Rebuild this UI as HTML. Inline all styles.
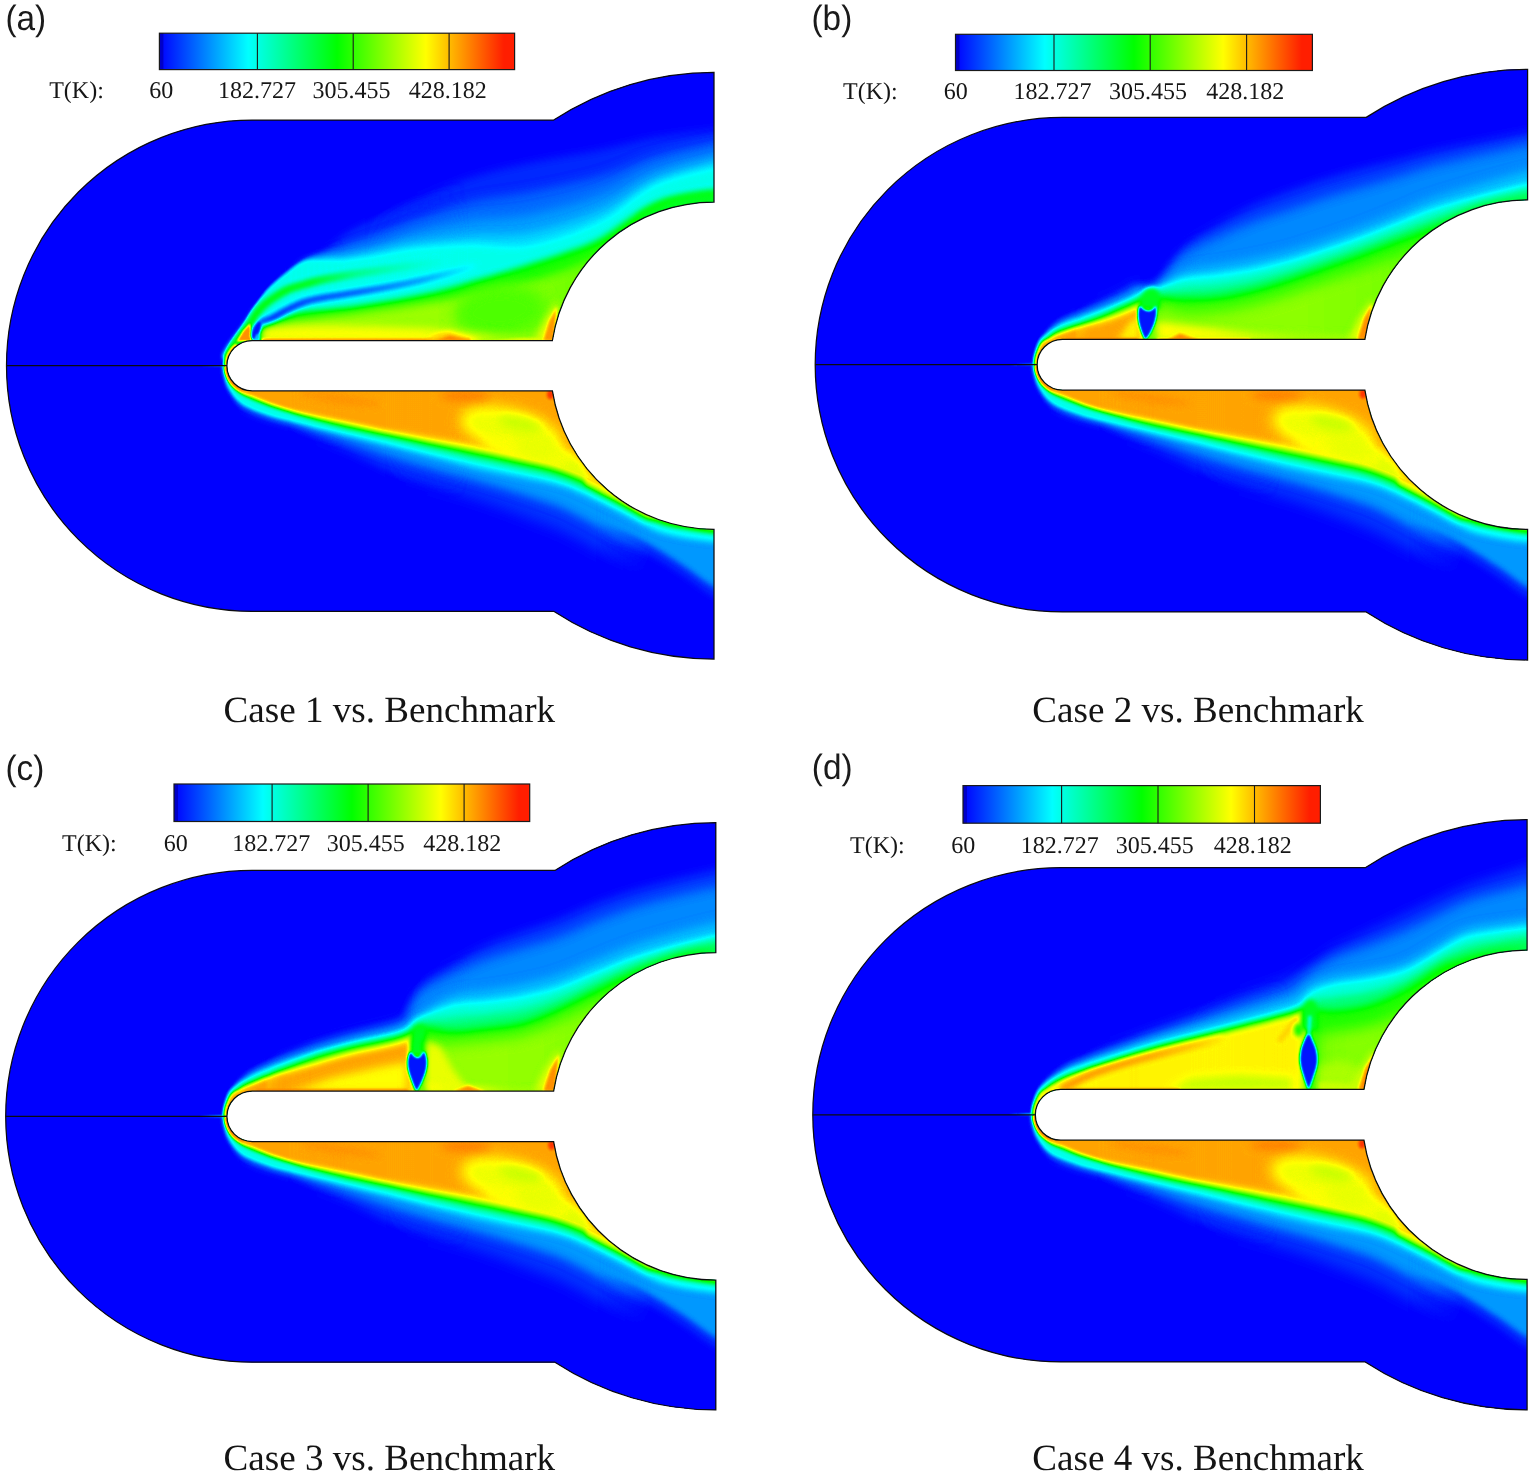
<!DOCTYPE html>
<html><head><meta charset="utf-8"><title>Temperature contours</title>
<style>
html,body{margin:0;padding:0;background:#fff;}
body{width:1534px;height:1477px;overflow:hidden;font-family:"Liberation Sans",sans-serif;}
svg{display:block;}
text{text-rendering:geometricPrecision;opacity:0.999;}
.lg{font-family:"Liberation Serif",serif;font-size:24px;fill:#161616;}
.pl{font-family:"Liberation Sans",sans-serif;font-size:34px;fill:#1a1a1a;}
.cap{font-family:"Liberation Serif",serif;font-size:37.1px;fill:#141414;}
</style></head><body>
<svg width="1534" height="1477" viewBox="0 0 1534 1477">
<defs>
<filter id="cmap" filterUnits="userSpaceOnUse" x="0" y="0" width="1534" height="1477" color-interpolation-filters="sRGB">
<feComponentTransfer>
<feFuncR type="table" tableValues="0 0 0 1 1"/>
<feFuncG type="table" tableValues="0 1 1 1 0"/>
<feFuncB type="table" tableValues="1 1 0 0 0"/>
</feComponentTransfer></filter>
<filter id="b0_8" filterUnits="userSpaceOnUse" x="-60" y="0" width="860" height="740" color-interpolation-filters="sRGB"><feGaussianBlur stdDeviation="0.8"/></filter>
<filter id="b0_9" filterUnits="userSpaceOnUse" x="-60" y="0" width="860" height="740" color-interpolation-filters="sRGB"><feGaussianBlur stdDeviation="0.9"/></filter>
<filter id="b1_0" filterUnits="userSpaceOnUse" x="-60" y="0" width="860" height="740" color-interpolation-filters="sRGB"><feGaussianBlur stdDeviation="1"/></filter>
<filter id="b1_1" filterUnits="userSpaceOnUse" x="-60" y="0" width="860" height="740" color-interpolation-filters="sRGB"><feGaussianBlur stdDeviation="1.1"/></filter>
<filter id="b1_2" filterUnits="userSpaceOnUse" x="-60" y="0" width="860" height="740" color-interpolation-filters="sRGB"><feGaussianBlur stdDeviation="1.2"/></filter>
<filter id="b1_3" filterUnits="userSpaceOnUse" x="-60" y="0" width="860" height="740" color-interpolation-filters="sRGB"><feGaussianBlur stdDeviation="1.3"/></filter>
<filter id="b1_4" filterUnits="userSpaceOnUse" x="-60" y="0" width="860" height="740" color-interpolation-filters="sRGB"><feGaussianBlur stdDeviation="1.4"/></filter>
<filter id="b1_5" filterUnits="userSpaceOnUse" x="-60" y="0" width="860" height="740" color-interpolation-filters="sRGB"><feGaussianBlur stdDeviation="1.5"/></filter>
<filter id="b1_6" filterUnits="userSpaceOnUse" x="-60" y="0" width="860" height="740" color-interpolation-filters="sRGB"><feGaussianBlur stdDeviation="1.6"/></filter>
<filter id="b1_8" filterUnits="userSpaceOnUse" x="-60" y="0" width="860" height="740" color-interpolation-filters="sRGB"><feGaussianBlur stdDeviation="1.8"/></filter>
<filter id="b2_0" filterUnits="userSpaceOnUse" x="-60" y="0" width="860" height="740" color-interpolation-filters="sRGB"><feGaussianBlur stdDeviation="2"/></filter>
<filter id="b2_2" filterUnits="userSpaceOnUse" x="-60" y="0" width="860" height="740" color-interpolation-filters="sRGB"><feGaussianBlur stdDeviation="2.2"/></filter>
<filter id="b2_3" filterUnits="userSpaceOnUse" x="-60" y="0" width="860" height="740" color-interpolation-filters="sRGB"><feGaussianBlur stdDeviation="2.3"/></filter>
<filter id="b2_4" filterUnits="userSpaceOnUse" x="-60" y="0" width="860" height="740" color-interpolation-filters="sRGB"><feGaussianBlur stdDeviation="2.4"/></filter>
<filter id="b2_5" filterUnits="userSpaceOnUse" x="-60" y="0" width="860" height="740" color-interpolation-filters="sRGB"><feGaussianBlur stdDeviation="2.5"/></filter>
<filter id="b2_6" filterUnits="userSpaceOnUse" x="-60" y="0" width="860" height="740" color-interpolation-filters="sRGB"><feGaussianBlur stdDeviation="2.6"/></filter>
<filter id="b2_7" filterUnits="userSpaceOnUse" x="-60" y="0" width="860" height="740" color-interpolation-filters="sRGB"><feGaussianBlur stdDeviation="2.7"/></filter>
<filter id="b2_8" filterUnits="userSpaceOnUse" x="-60" y="0" width="860" height="740" color-interpolation-filters="sRGB"><feGaussianBlur stdDeviation="2.8"/></filter>
<filter id="b3_0" filterUnits="userSpaceOnUse" x="-60" y="0" width="860" height="740" color-interpolation-filters="sRGB"><feGaussianBlur stdDeviation="3"/></filter>
<filter id="b3_2" filterUnits="userSpaceOnUse" x="-60" y="0" width="860" height="740" color-interpolation-filters="sRGB"><feGaussianBlur stdDeviation="3.2"/></filter>
<filter id="b3_4" filterUnits="userSpaceOnUse" x="-60" y="0" width="860" height="740" color-interpolation-filters="sRGB"><feGaussianBlur stdDeviation="3.4"/></filter>
<filter id="b3_5" filterUnits="userSpaceOnUse" x="-60" y="0" width="860" height="740" color-interpolation-filters="sRGB"><feGaussianBlur stdDeviation="3.5"/></filter>
<filter id="b3_6" filterUnits="userSpaceOnUse" x="-60" y="0" width="860" height="740" color-interpolation-filters="sRGB"><feGaussianBlur stdDeviation="3.6"/></filter>
<filter id="b3_7" filterUnits="userSpaceOnUse" x="-60" y="0" width="860" height="740" color-interpolation-filters="sRGB"><feGaussianBlur stdDeviation="3.7"/></filter>
<filter id="b3_8" filterUnits="userSpaceOnUse" x="-60" y="0" width="860" height="740" color-interpolation-filters="sRGB"><feGaussianBlur stdDeviation="3.8"/></filter>
<filter id="b4_0" filterUnits="userSpaceOnUse" x="-60" y="0" width="860" height="740" color-interpolation-filters="sRGB"><feGaussianBlur stdDeviation="4"/></filter>
<filter id="b4_2" filterUnits="userSpaceOnUse" x="-60" y="0" width="860" height="740" color-interpolation-filters="sRGB"><feGaussianBlur stdDeviation="4.2"/></filter>
<filter id="b4_5" filterUnits="userSpaceOnUse" x="-60" y="0" width="860" height="740" color-interpolation-filters="sRGB"><feGaussianBlur stdDeviation="4.5"/></filter>
<filter id="b4_8" filterUnits="userSpaceOnUse" x="-60" y="0" width="860" height="740" color-interpolation-filters="sRGB"><feGaussianBlur stdDeviation="4.8"/></filter>
<filter id="b5_0" filterUnits="userSpaceOnUse" x="-60" y="0" width="860" height="740" color-interpolation-filters="sRGB"><feGaussianBlur stdDeviation="5"/></filter>
<filter id="b5_2" filterUnits="userSpaceOnUse" x="-60" y="0" width="860" height="740" color-interpolation-filters="sRGB"><feGaussianBlur stdDeviation="5.2"/></filter>
<filter id="b5_5" filterUnits="userSpaceOnUse" x="-60" y="0" width="860" height="740" color-interpolation-filters="sRGB"><feGaussianBlur stdDeviation="5.5"/></filter>
<filter id="b6_0" filterUnits="userSpaceOnUse" x="-60" y="0" width="860" height="740" color-interpolation-filters="sRGB"><feGaussianBlur stdDeviation="6"/></filter>
<filter id="b6_5" filterUnits="userSpaceOnUse" x="-60" y="0" width="860" height="740" color-interpolation-filters="sRGB"><feGaussianBlur stdDeviation="6.5"/></filter>
<filter id="b7_0" filterUnits="userSpaceOnUse" x="-60" y="0" width="860" height="740" color-interpolation-filters="sRGB"><feGaussianBlur stdDeviation="7"/></filter>
<linearGradient id="cb" x1="0" y1="0" x2="1" y2="0">
<stop offset="0" stop-color="#0000ff"/><stop offset="0.25" stop-color="#00ffff"/><stop offset="0.5" stop-color="#00ff00"/><stop offset="0.75" stop-color="#ffff00"/><stop offset="0.97" stop-color="#ff1e00"/><stop offset="1" stop-color="#ff1e00"/>
</linearGradient>
<linearGradient id="ra" gradientUnits="userSpaceOnUse" x1="225" y1="0" x2="445" y2="0"><stop offset="0.000" stop-color="#808080"/><stop offset="0.386" stop-color="#787878"/><stop offset="0.595" stop-color="#5c5c5c"/><stop offset="0.886" stop-color="#4a4a4a"/><stop offset="1.000" stop-color="#454545"/></linearGradient>
<linearGradient id="la" gradientUnits="userSpaceOnUse" x1="260" y1="0" x2="650" y2="0"><stop offset="0.000" stop-color="#a7a7a7"/><stop offset="0.436" stop-color="#a6a6a6"/><stop offset="0.667" stop-color="#a1a1a1"/><stop offset="0.872" stop-color="#999999"/><stop offset="1.000" stop-color="#8c8c8c"/></linearGradient>
<linearGradient id="sa" gradientUnits="userSpaceOnUse" x1="260" y1="0" x2="476" y2="0"><stop offset="0.000" stop-color="#080808"/><stop offset="0.185" stop-color="#0f0f0f"/><stop offset="0.463" stop-color="#171717"/><stop offset="0.764" stop-color="#292929"/><stop offset="1.000" stop-color="#424242"/></linearGradient>
<linearGradient id="ya" gradientUnits="userSpaceOnUse" x1="262" y1="0" x2="552" y2="0"><stop offset="0.000" stop-color="#bfbfbf"/><stop offset="0.545" stop-color="#bfbfbf"/><stop offset="0.717" stop-color="#bababa"/><stop offset="0.821" stop-color="#a8a8a8"/><stop offset="1.000" stop-color="#a3a3a3"/></linearGradient>
<linearGradient id="hb" gradientUnits="userSpaceOnUse" x1="200" y1="0" x2="721.4" y2="0"><stop offset="0.000" stop-color="#d6d6d6"/><stop offset="0.249" stop-color="#d6d6d6"/><stop offset="0.267" stop-color="#8f8f8f"/><stop offset="0.552" stop-color="#8c8c8c"/><stop offset="0.857" stop-color="#878787"/><stop offset="0.933" stop-color="#7a7a7a"/><stop offset="1.000" stop-color="#6b6b6b"/></linearGradient>
<linearGradient id="ib" gradientUnits="userSpaceOnUse" x1="339" y1="0" x2="627" y2="0"><stop offset="0.000" stop-color="#a4a4a4"/><stop offset="0.517" stop-color="#a3a3a3"/><stop offset="0.793" stop-color="#9e9e9e"/><stop offset="1.000" stop-color="#949494"/></linearGradient>
<linearGradient id="yb" gradientUnits="userSpaceOnUse" x1="346.9" y1="0" x2="553.5" y2="0"><stop offset="0.000" stop-color="#bfbfbf"/><stop offset="0.274" stop-color="#bdbdbd"/><stop offset="0.683" stop-color="#a8a8a8"/><stop offset="1.000" stop-color="#a8a8a8"/></linearGradient>
<linearGradient id="hc" gradientUnits="userSpaceOnUse" x1="200" y1="0" x2="720.2" y2="0"><stop offset="0.000" stop-color="#d6d6d6"/><stop offset="0.404" stop-color="#d6d6d6"/><stop offset="0.423" stop-color="#8f8f8f"/><stop offset="0.690" stop-color="#8c8c8c"/><stop offset="0.843" stop-color="#878787"/><stop offset="0.939" stop-color="#808080"/><stop offset="1.000" stop-color="#6b6b6b"/></linearGradient>
<linearGradient id="ic" gradientUnits="userSpaceOnUse" x1="420.3" y1="0" x2="638.5" y2="0"><stop offset="0.000" stop-color="#a6a6a6"/><stop offset="0.543" stop-color="#a4a4a4"/><stop offset="0.817" stop-color="#9e9e9e"/><stop offset="1.000" stop-color="#949494"/></linearGradient>
<linearGradient id="yc" gradientUnits="userSpaceOnUse" x1="429.2" y1="0" x2="551.8" y2="0"><stop offset="0.000" stop-color="#bdbdbd"/><stop offset="0.325" stop-color="#b8b8b8"/><stop offset="0.650" stop-color="#a8a8a8"/><stop offset="1.000" stop-color="#a8a8a8"/></linearGradient>
<linearGradient id="hd" gradientUnits="userSpaceOnUse" x1="200" y1="0" x2="718.9" y2="0"><stop offset="0.000" stop-color="#c2c2c2"/><stop offset="0.557" stop-color="#c2c2c2"/><stop offset="0.580" stop-color="#878787"/><stop offset="0.786" stop-color="#878787"/><stop offset="0.901" stop-color="#808080"/><stop offset="1.000" stop-color="#6b6b6b"/></linearGradient>
<linearGradient id="id" gradientUnits="userSpaceOnUse" x1="501" y1="0" x2="627.7" y2="0"><stop offset="0.000" stop-color="#9e9e9e"/><stop offset="0.422" stop-color="#a2a2a2"/><stop offset="0.688" stop-color="#9c9c9c"/><stop offset="1.000" stop-color="#919191"/></linearGradient>
<linearGradient id="od" gradientUnits="userSpaceOnUse" x1="251.3" y1="0" x2="414.8" y2="0"><stop offset="0.000" stop-color="#d9d9d9"/><stop offset="0.545" stop-color="#d6d6d6"/><stop offset="0.848" stop-color="#cccccc"/><stop offset="1.000" stop-color="#c2c2c2"/></linearGradient>
<linearGradient id="gz229_0_252_0" gradientUnits="userSpaceOnUse" x1="229" y1="0" x2="252" y2="0"><stop offset="0" stop-color="#000"/><stop offset="1" stop-color="#fff"/></linearGradient><mask id="z229_0_252_0" maskUnits="userSpaceOnUse" x="-60" y="0" width="860" height="740"><rect x="-60" y="0" width="860" height="740" fill="url(#gz229_0_252_0)"/></mask>
<linearGradient id="gz288_0_345_0" gradientUnits="userSpaceOnUse" x1="288" y1="0" x2="345" y2="0"><stop offset="0" stop-color="#000"/><stop offset="1" stop-color="#fff"/></linearGradient><mask id="z288_0_345_0" maskUnits="userSpaceOnUse" x="-60" y="0" width="860" height="740"><rect x="-60" y="0" width="860" height="740" fill="url(#gz288_0_345_0)"/></mask>
<linearGradient id="gz385_0_470_0" gradientUnits="userSpaceOnUse" x1="385" y1="0" x2="470" y2="0"><stop offset="0" stop-color="#000"/><stop offset="1" stop-color="#fff"/></linearGradient><mask id="z385_0_470_0" maskUnits="userSpaceOnUse" x="-60" y="0" width="860" height="740"><rect x="-60" y="0" width="860" height="740" fill="url(#gz385_0_470_0)"/></mask>
<linearGradient id="gz596_0_650_0" gradientUnits="userSpaceOnUse" x1="596" y1="0" x2="650" y2="0"><stop offset="0" stop-color="#000"/><stop offset="1" stop-color="#fff"/></linearGradient><mask id="z596_0_650_0" maskUnits="userSpaceOnUse" x="-60" y="0" width="860" height="740"><rect x="-60" y="0" width="860" height="740" fill="url(#gz596_0_650_0)"/></mask>
<clipPath id="loin"><path d="M229.5,364.9C229.8,366.4 229.8,370.5 230.8,373.5C231.8,376.5 233.3,380.2 235.5,382.9C237.8,385.7 241.2,388 244.3,389.8C247.4,391.6 250.7,392.4 254,393.7C257.2,395 260.3,396.3 263.8,397.6C267.3,399 269.7,400.1 275,401.9C280.3,403.6 288.8,406.2 295.7,408.2C302.5,410.1 306.4,411.2 316.2,413.5C325.9,415.9 339.9,419.2 354.1,422.3C368.2,425.4 384.9,428.9 401,432.3C417.2,435.7 434.4,439.2 451,442.7C467.7,446.2 487.7,450.3 501,453.1C514.4,455.9 521.4,457.4 531.1,459.6C540.8,461.8 549.9,463.5 559.2,466.4C568.5,469.4 579.2,473.9 587,477.4C594.9,481 600.1,484.3 606.3,487.6C612.6,490.9 618.4,493.9 624.4,497.1C630.4,500.3 636,503.8 642.3,507.1C648.6,510.3 658.8,514.9 662.1,516.5L735,540L735,366L200,366Z"/></clipPath>
<linearGradient id="gz286_0_345_0" gradientUnits="userSpaceOnUse" x1="286" y1="0" x2="345" y2="0"><stop offset="0" stop-color="#000"/><stop offset="1" stop-color="#fff"/></linearGradient><mask id="z286_0_345_0" maskUnits="userSpaceOnUse" x="-60" y="0" width="860" height="740"><rect x="-60" y="0" width="860" height="740" fill="url(#gz286_0_345_0)"/></mask>
<linearGradient id="gz365_0_470_0" gradientUnits="userSpaceOnUse" x1="365" y1="0" x2="470" y2="0"><stop offset="0" stop-color="#000"/><stop offset="1" stop-color="#fff"/></linearGradient><mask id="z365_0_470_0" maskUnits="userSpaceOnUse" x="-60" y="0" width="860" height="740"><rect x="-60" y="0" width="860" height="740" fill="url(#gz365_0_470_0)"/></mask>
<linearGradient id="gz226_0_248_0" gradientUnits="userSpaceOnUse" x1="225.782" y1="0" x2="247.631" y2="0"><stop offset="0" stop-color="#000"/><stop offset="1" stop-color="#fff"/></linearGradient><mask id="z226_0_248_0" maskUnits="userSpaceOnUse" x="-60" y="0" width="860" height="740"><rect x="-60" y="0" width="860" height="740" fill="url(#gz226_0_248_0)"/></mask>
<linearGradient id="gz265_0_309_0" gradientUnits="userSpaceOnUse" x1="264.515" y1="0" x2="309.206" y2="0"><stop offset="0" stop-color="#000"/><stop offset="1" stop-color="#fff"/></linearGradient><mask id="z265_0_309_0" maskUnits="userSpaceOnUse" x="-60" y="0" width="860" height="740"><rect x="-60" y="0" width="860" height="740" fill="url(#gz265_0_309_0)"/></mask>
<linearGradient id="gz329_0_389_0" gradientUnits="userSpaceOnUse" x1="329.069" y1="0" x2="388.658" y2="0"><stop offset="0" stop-color="#000"/><stop offset="1" stop-color="#fff"/></linearGradient><mask id="z329_0_389_0" maskUnits="userSpaceOnUse" x="-60" y="0" width="860" height="740"><rect x="-60" y="0" width="860" height="740" fill="url(#gz329_0_389_0)"/></mask>
<linearGradient id="gz265_0_315_0" gradientUnits="userSpaceOnUse" x1="264.84" y1="0" x2="314.656" y2="0"><stop offset="0" stop-color="#000"/><stop offset="1" stop-color="#fff"/></linearGradient><mask id="z265_0_315_0" maskUnits="userSpaceOnUse" x="-60" y="0" width="860" height="740"><rect x="-60" y="0" width="860" height="740" fill="url(#gz265_0_315_0)"/></mask>
<linearGradient id="gz409_0_469_0" gradientUnits="userSpaceOnUse" x1="409.306" y1="0" x2="469.084" y2="0"><stop offset="0" stop-color="#000"/><stop offset="1" stop-color="#fff"/></linearGradient><mask id="z409_0_469_0" maskUnits="userSpaceOnUse" x="-60" y="0" width="860" height="740"><rect x="-60" y="0" width="860" height="740" fill="url(#gz409_0_469_0)"/></mask>
<linearGradient id="gz226_0_247_0" gradientUnits="userSpaceOnUse" x1="225.594" y1="0" x2="247.385" y2="0"><stop offset="0" stop-color="#000"/><stop offset="1" stop-color="#fff"/></linearGradient><mask id="z226_0_247_0" maskUnits="userSpaceOnUse" x="-60" y="0" width="860" height="740"><rect x="-60" y="0" width="860" height="740" fill="url(#gz226_0_247_0)"/></mask>
<linearGradient id="gz271_0_331_0" gradientUnits="userSpaceOnUse" x1="271.157" y1="0" x2="330.586" y2="0"><stop offset="0" stop-color="#000"/><stop offset="1" stop-color="#fff"/></linearGradient><mask id="z271_0_331_0" maskUnits="userSpaceOnUse" x="-60" y="0" width="860" height="740"><rect x="-60" y="0" width="860" height="740" fill="url(#gz271_0_331_0)"/></mask>
<linearGradient id="gz380_0_479_0" gradientUnits="userSpaceOnUse" x1="380.111" y1="0" x2="479.16" y2="0"><stop offset="0" stop-color="#000"/><stop offset="1" stop-color="#fff"/></linearGradient><mask id="z380_0_479_0" maskUnits="userSpaceOnUse" x="-60" y="0" width="860" height="740"><rect x="-60" y="0" width="860" height="740" fill="url(#gz380_0_479_0)"/></mask>
<clipPath id="dom"><path d="M252.1,120.1L553.7,120.1A293.3 293.3 0 0 1 714,72.4L714,202.1A163.6 163.6 0 0 0 552.4,340.5L252.1,340.5A25.2 25.2 0 0 0 252.1,390.9L552.4,390.9A163.6 163.6 0 0 0 714,529.3L714,659A293.3 293.3 0 0 1 553.7,611.3L252.1,611.3A245.6 245.6 0 0 1 252.1,120.1Z"/></clipPath>
<clipPath id="up"><rect x="-10" y="0" width="760" height="365.7"/></clipPath>
<clipPath id="lo"><rect x="-10" y="365.7" width="760" height="400"/></clipPath>
</defs>
<rect width="1534" height="1477" fill="#fff"/>
<g filter="url(#cmap)">
<g transform="matrix(1 0 0 1 0 0)" clip-path="url(#dom)">
<rect x="0" y="60" width="730" height="610" fill="#000"/>
<g clip-path="url(#lo)">
<path d="M200,366H735V680H-20V366Z" fill="#000000"/>
<path d="M220.6,366.1C220.9,367.8 221.1,372.4 222,376.4C223,380.4 224,385.4 226.4,390.1C228.7,394.8 232.1,400.5 235.9,404.6C239.7,408.6 243.1,411.3 249,414.3C254.8,417.3 263.7,420.2 270.9,422.6C278.1,424.9 285.2,426.1 292.1,428.4C299,430.7 302.8,432.4 312.3,436.2C321.7,440.1 335.3,445.5 348.8,451.5C362.4,457.5 377.8,466.2 393.4,472.4C409,478.6 426.1,483.3 442.5,488.6C459,493.9 474.9,498.3 492.2,504.4C509.5,510.4 533.9,520 546.3,524.8C558.7,529.7 557.8,529.3 566.6,533.5C575.3,537.8 589.8,546 598.7,550.5C607.6,555 611.3,556.9 619.8,560.4C628.3,563.9 639.2,568.1 649.6,571.7C659.9,575.3 672,579.2 681.9,582C691.8,584.8 700.7,587.1 709,588.5C717.4,589.8 728.1,589.7 731.9,589.9L735,500L735,366L200,366Z" fill="#0d0d0d" filter="url(#b1_2)"/>
<path d="M222.1,365.9C222.3,367.6 222.5,372.1 223.5,376C224.5,379.8 225.6,384.7 228,389.1C230.4,393.5 234,398.8 237.7,402.4C241.5,406 244.8,407.9 250.5,410.6C256.3,413.3 265,416.4 272.1,418.8C279.2,421.1 286.2,422.5 293.1,424.5C300,426.6 303.9,427.9 313.6,431C323.2,434 337.1,438.1 350.9,442.8C364.8,447.4 380.8,453.8 396.7,458.8C412.6,463.9 429.7,468.4 446.3,473.1C462.8,477.7 478.6,481.5 496.1,486.8C513.7,492 538.5,499.9 551.6,504.5C564.7,509.2 565.5,510 574.8,514.7C584.2,519.4 599,527.6 607.8,532.7C616.5,537.7 619.8,540.7 627.4,545C635.1,549.3 644.4,554.2 653.9,558.4C663.3,562.6 674.6,566.9 683.9,570.3C693.3,573.6 701.9,576.9 710,578.5C718.1,580.1 728.8,579.7 732.5,579.9L735,500L735,366L200,366Z" fill="#262626" filter="url(#b1_0)"/>
<path d="M223.3,365.7C223.5,367.4 223.7,371.9 224.7,375.7C225.6,379.4 226.8,384.2 229.2,388.4C231.5,392.7 235.1,397.7 238.8,401.1C242.5,404.5 245.7,406.2 251.3,408.7C257,411.3 265.7,414.3 272.8,416.6C279.8,418.8 286.8,420.2 293.7,422C300.7,423.8 304.7,424.9 314.4,427.4C324.2,429.8 338.2,433.2 352.4,436.6C366.5,440.1 383.1,444.1 399.3,448.1C415.4,452.1 432.6,456.4 449.3,460.4C466,464.4 481.4,468.2 499.4,472.1C517.3,476.1 542.9,480.5 556.9,484.2C571,487.9 573.5,489.7 583.8,494.2C594.1,498.8 609.5,506.6 618.6,511.3C627.8,515.9 631.4,518.6 638.7,522.2C645.9,525.8 653.6,529.9 662.1,532.7C670.6,535.4 680.9,537 689.5,538.5C698.1,540 706.1,540.9 713.7,541.7C721.3,542.4 731.3,542.8 734.8,543L735,500L735,366L200,366Z" fill="#454545" filter="url(#b0_8)"/>
<path d="M585,485C590,487.6 605.8,495.6 615,500.5C624.2,505.4 632,510.5 640,514.5C648,518.5 654.7,521.9 663,524.5C671.3,527.1 681.5,528.5 690,530C698.5,531.5 706.5,532.7 714,533.5C721.5,534.3 731.5,534.8 735,535L735,500L585,420Z" fill="#8f8f8f" filter="url(#b2_0)"/>
<path d="M224.6,365.7C224.8,367.3 224.9,371.8 226.1,375.2C227.2,378.6 229,383 231.7,386.1C234.3,389.3 238.4,392.1 241.8,394.1C245.2,396.1 248.7,396.9 252.1,398.3C255.5,399.7 258.4,400.9 262,402.3C265.6,403.7 268,404.8 273.4,406.6C278.8,408.4 287.4,411 294.3,413C301.2,415 305.2,416 315,418.4C324.8,420.8 338.8,424.1 353,427.2C367.2,430.3 383.8,433.8 400,437.2C416.2,440.6 433.3,444.1 450,447.6C466.7,451.1 486.7,455.2 500,458C513.3,460.8 520.4,462.3 530,464.5C539.6,466.7 548.5,468.3 557.7,471.2C566.9,474.1 577.3,478.5 585,482C592.7,485.5 597.8,488.8 604,492C610.2,495.2 616,498.2 622,501.5C628,504.8 635.3,508.8 640,511.5C644.7,514.2 648.3,516.9 650,518L700,480L700,366L200,366Z" fill="#d6d6d6" filter="url(#b0_9)"/>
<g mask="url(#z229_0_252_0)">
<path d="M200,366H735V680H-20V366Z" fill="#000000"/>
<path d="M220.6,366.1C220.9,367.8 221.1,372.4 222,376.4C223,380.4 224,385.4 226.4,390.1C228.7,394.8 232.1,400.5 235.9,404.6C239.7,408.6 243.1,411.3 249,414.3C254.8,417.3 263.7,420.2 270.9,422.6C278.1,424.9 285.2,426.1 292.1,428.4C299,430.7 302.8,432.4 312.3,436.2C321.7,440.1 335.3,445.5 348.8,451.5C362.4,457.5 377.8,466.2 393.4,472.4C409,478.6 426.1,483.3 442.5,488.6C459,493.9 474.9,498.3 492.2,504.4C509.5,510.4 533.9,520 546.3,524.8C558.7,529.7 557.8,529.3 566.6,533.5C575.3,537.8 589.8,546 598.7,550.5C607.6,555 611.3,556.9 619.8,560.4C628.3,563.9 639.2,568.1 649.6,571.7C659.9,575.3 672,579.2 681.9,582C691.8,584.8 700.7,587.1 709,588.5C717.4,589.8 728.1,589.7 731.9,589.9L735,500L735,366L200,366Z" fill="#0d0d0d" filter="url(#b2_5)"/>
<path d="M222.1,365.9C222.3,367.6 222.5,372.1 223.5,376C224.5,379.8 225.6,384.7 228,389.1C230.4,393.5 234,398.8 237.7,402.4C241.5,406 244.8,407.9 250.5,410.6C256.3,413.3 265,416.4 272.1,418.8C279.2,421.1 286.2,422.5 293.1,424.5C300,426.6 303.9,427.9 313.6,431C323.2,434 337.1,438.1 350.9,442.8C364.8,447.4 380.8,453.8 396.7,458.8C412.6,463.9 429.7,468.4 446.3,473.1C462.8,477.7 478.6,481.5 496.1,486.8C513.7,492 538.5,499.9 551.6,504.5C564.7,509.2 565.5,510 574.8,514.7C584.2,519.4 599,527.6 607.8,532.7C616.5,537.7 619.8,540.7 627.4,545C635.1,549.3 644.4,554.2 653.9,558.4C663.3,562.6 674.6,566.9 683.9,570.3C693.3,573.6 701.9,576.9 710,578.5C718.1,580.1 728.8,579.7 732.5,579.9L735,500L735,366L200,366Z" fill="#262626" filter="url(#b2_2)"/>
<path d="M223.3,365.7C223.5,367.4 223.7,371.9 224.7,375.7C225.6,379.4 226.8,384.2 229.2,388.4C231.5,392.7 235.1,397.7 238.8,401.1C242.5,404.5 245.7,406.2 251.3,408.7C257,411.3 265.7,414.3 272.8,416.6C279.8,418.8 286.8,420.2 293.7,422C300.7,423.8 304.7,424.9 314.4,427.4C324.2,429.8 338.2,433.2 352.4,436.6C366.5,440.1 383.1,444.1 399.3,448.1C415.4,452.1 432.6,456.4 449.3,460.4C466,464.4 481.4,468.2 499.4,472.1C517.3,476.1 542.9,480.5 556.9,484.2C571,487.9 573.5,489.7 583.8,494.2C594.1,498.8 609.5,506.6 618.6,511.3C627.8,515.9 631.4,518.6 638.7,522.2C645.9,525.8 653.6,529.9 662.1,532.7C670.6,535.4 680.9,537 689.5,538.5C698.1,540 706.1,540.9 713.7,541.7C721.3,542.4 731.3,542.8 734.8,543L735,500L735,366L200,366Z" fill="#454545" filter="url(#b1_8)"/>
<path d="M585,485C590,487.6 605.8,495.6 615,500.5C624.2,505.4 632,510.5 640,514.5C648,518.5 654.7,521.9 663,524.5C671.3,527.1 681.5,528.5 690,530C698.5,531.5 706.5,532.7 714,533.5C721.5,534.3 731.5,534.8 735,535L735,500L585,420Z" fill="#8f8f8f" filter="url(#b2_0)"/>
<path d="M224.6,365.7C224.8,367.3 224.9,371.8 226.1,375.2C227.2,378.6 229,383 231.7,386.1C234.3,389.3 238.4,392.1 241.8,394.1C245.2,396.1 248.7,396.9 252.1,398.3C255.5,399.7 258.4,400.9 262,402.3C265.6,403.7 268,404.8 273.4,406.6C278.8,408.4 287.4,411 294.3,413C301.2,415 305.2,416 315,418.4C324.8,420.8 338.8,424.1 353,427.2C367.2,430.3 383.8,433.8 400,437.2C416.2,440.6 433.3,444.1 450,447.6C466.7,451.1 486.7,455.2 500,458C513.3,460.8 520.4,462.3 530,464.5C539.6,466.7 548.5,468.3 557.7,471.2C566.9,474.1 577.3,478.5 585,482C592.7,485.5 597.8,488.8 604,492C610.2,495.2 616,498.2 622,501.5C628,504.8 635.3,508.8 640,511.5C644.7,514.2 648.3,516.9 650,518L700,480L700,366L200,366Z" fill="#d6d6d6" filter="url(#b2_3)"/>
</g>
<g mask="url(#z288_0_345_0)">
<path d="M270,366H735V680H270Z" fill="#000000"/>
<path d="M272.9,423.1C276.1,424 285.6,426.2 292.1,428.4C298.7,430.6 302.8,432.4 312.3,436.2C321.7,440.1 335.3,445.5 348.8,451.5C362.4,457.5 377.8,466.2 393.4,472.4C409,478.6 426.1,483.3 442.5,488.6C459,493.9 474.9,498.3 492.2,504.4C509.5,510.4 533.9,520 546.3,524.8C558.7,529.7 557.8,529.3 566.6,533.5C575.3,537.8 589.8,546 598.7,550.5C607.6,555 611.3,556.9 619.8,560.4C628.3,563.9 639.2,568.1 649.6,571.7C659.9,575.3 672,579.2 681.9,582C691.8,584.8 700.7,587.1 709,588.5C717.4,589.8 728.1,589.7 731.9,589.9L735,500L735,366L275,366Z" fill="#0d0d0d" filter="url(#b4_5)"/>
<path d="M273.9,419.2C277.1,420.1 286.5,422.6 293.1,424.5C299.7,426.5 303.9,427.9 313.6,431C323.2,434 337.1,438.1 350.9,442.8C364.8,447.4 380.8,453.8 396.7,458.8C412.6,463.9 429.7,468.4 446.3,473.1C462.8,477.7 478.6,481.5 496.1,486.8C513.7,492 538.5,499.9 551.6,504.5C564.7,509.2 565.5,510 574.8,514.7C584.2,519.4 599,527.6 607.8,532.7C616.5,537.7 619.8,540.7 627.4,545C635.1,549.3 644.4,554.2 653.9,558.4C663.3,562.6 674.6,566.9 683.9,570.3C693.3,573.6 701.9,576.9 710,578.5C718.1,580.1 728.8,579.7 732.5,579.9L735,500L735,366L275,366Z" fill="#262626" filter="url(#b4_0)"/>
<path d="M274.5,417C277.7,417.8 287.1,420.3 293.7,422C300.4,423.7 304.7,424.9 314.4,427.4C324.2,429.8 338.2,433.2 352.4,436.6C366.5,440.1 383.1,444.1 399.3,448.1C415.4,452.1 432.6,456.4 449.3,460.4C466,464.4 481.4,468.2 499.4,472.1C517.3,476.1 542.9,480.5 556.9,484.2C571,487.9 573.5,489.7 583.8,494.2C594.1,498.8 609.5,506.6 618.6,511.3C627.8,515.9 631.4,518.6 638.7,522.2C645.9,525.8 653.6,529.9 662.1,532.7C670.6,535.4 680.9,537 689.5,538.5C698.1,540 706.1,540.9 713.7,541.7C721.3,542.4 731.3,542.8 734.8,543L735,500L735,366L275,366Z" fill="#454545" filter="url(#b2_7)"/>
<path d="M585,485C590,487.6 605.8,495.6 615,500.5C624.2,505.4 632,510.5 640,514.5C648,518.5 654.7,521.9 663,524.5C671.3,527.1 681.5,528.5 690,530C698.5,531.5 706.5,532.7 714,533.5C721.5,534.3 731.5,534.8 735,535L735,500L585,420Z" fill="#8f8f8f" filter="url(#b2_2)"/>
<path d="M275,407.1C278.2,408.1 287.6,411.1 294.3,413C301,414.9 305.2,416 315,418.4C324.8,420.8 338.8,424.1 353,427.2C367.2,430.3 383.8,433.8 400,437.2C416.2,440.6 433.3,444.1 450,447.6C466.7,451.1 486.7,455.2 500,458C513.3,460.8 520.4,462.3 530,464.5C539.6,466.7 548.5,468.3 557.7,471.2C566.9,474.1 577.3,478.5 585,482C592.7,485.5 597.8,488.8 604,492C610.2,495.2 616,498.2 622,501.5C628,504.8 635.3,508.8 640,511.5C644.7,514.2 648.3,516.9 650,518L700,480L700,366L275,366Z" fill="#d6d6d6" filter="url(#b3_7)"/>
</g>
<g mask="url(#z385_0_470_0)">
<path d="M365,366H735V680H365Z" fill="#000000"/>
<path d="M365,459.1C369.7,461.3 380.5,467.5 393.4,472.4C406.3,477.3 426.1,483.3 442.5,488.6C459,493.9 474.9,498.3 492.2,504.4C509.5,510.4 533.9,520 546.3,524.8C558.7,529.7 557.8,529.3 566.6,533.5C575.3,537.8 589.8,546 598.7,550.5C607.6,555 611.3,556.9 619.8,560.4C628.3,563.9 639.2,568.1 649.6,571.7C659.9,575.3 672,579.2 681.9,582C691.8,584.8 700.7,587.1 709,588.5C717.4,589.8 728.1,589.7 731.9,589.9L735,500L735,366L370,366Z" fill="#0d0d0d" filter="url(#b7_0)"/>
<path d="M367.5,448.6C372.4,450.3 383.6,454.7 396.7,458.8C409.8,462.9 429.7,468.4 446.3,473.1C462.8,477.7 478.6,481.5 496.1,486.8C513.7,492 538.5,499.9 551.6,504.5C564.7,509.2 565.5,510 574.8,514.7C584.2,519.4 599,527.6 607.8,532.7C616.5,537.7 619.8,540.7 627.4,545C635.1,549.3 644.4,554.2 653.9,558.4C663.3,562.6 674.6,566.9 683.9,570.3C693.3,573.6 701.9,576.9 710,578.5C718.1,580.1 728.8,579.7 732.5,579.9L735,500L735,366L370,366Z" fill="#262626" filter="url(#b5_0)"/>
<path d="M369.4,440.8C374.3,442 386,444.8 399.3,448.1C412.6,451.4 432.6,456.4 449.3,460.4C466,464.4 481.4,468.2 499.4,472.1C517.3,476.1 542.9,480.5 556.9,484.2C571,487.9 573.5,489.7 583.8,494.2C594.1,498.8 609.5,506.6 618.6,511.3C627.8,515.9 631.4,518.6 638.7,522.2C645.9,525.8 653.6,529.9 662.1,532.7C670.6,535.4 680.9,537 689.5,538.5C698.1,540 706.1,540.9 713.7,541.7C721.3,542.4 731.3,542.8 734.8,543L735,500L735,366L370,366Z" fill="#454545" filter="url(#b3_5)"/>
<path d="M585,485C590,487.6 605.8,495.6 615,500.5C624.2,505.4 632,510.5 640,514.5C648,518.5 654.7,521.9 663,524.5C671.3,527.1 681.5,528.5 690,530C698.5,531.5 706.5,532.7 714,533.5C721.5,534.3 731.5,534.8 735,535L735,500L585,420Z" fill="#8f8f8f" filter="url(#b2_2)"/>
<path d="M370,430.8C375,431.9 386.7,434.4 400,437.2C413.3,440 433.3,444.1 450,447.6C466.7,451.1 486.7,455.2 500,458C513.3,460.8 520.4,462.3 530,464.5C539.6,466.7 548.5,468.3 557.7,471.2C566.9,474.1 577.3,478.5 585,482C592.7,485.5 597.8,488.8 604,492C610.2,495.2 616,498.2 622,501.5C628,504.8 635.3,508.8 640,511.5C644.7,514.2 648.3,516.9 650,518L700,480L700,366L370,366Z" fill="#d6d6d6" filter="url(#b5_2)"/>
</g>
<g mask="url(#z596_0_650_0)">
<path d="M580,366H735V680H580Z" fill="#000000"/>
<path d="M566.7,529C573.1,530.5 594.9,535.4 605,538C615.2,540.6 619.3,541.7 627.5,544.8C635.8,547.9 645.2,551.5 654.5,556.4C663.8,561.3 674.2,568.2 683.3,574.2C692.3,580.2 700.7,587.4 708.6,592.4C716.6,597.3 727.3,602 731,603.9L735,500L735,366L585,366Z" fill="#0d0d0d" filter="url(#b3_6)"/>
<path d="M574.5,513.1C580.5,515.3 601.3,522.7 610.9,526.4C620.6,530.1 624.5,531.6 632.2,535.3C639.9,539 648.2,543.5 657,548.7C665.7,553.9 675.9,560.4 684.6,566.2C693.4,572.1 701.7,579.1 709.5,583.9C717.3,588.7 727.9,593.1 731.6,594.9L735,500L735,366L585,366Z" fill="#262626" filter="url(#b2_8)"/>
<path d="M583.7,494.2C589.5,497 609.5,506.6 618.6,511.3C627.8,515.9 631.4,518.6 638.7,522.2C645.9,525.8 653.6,529.9 662.1,532.7C670.6,535.4 680.9,537 689.5,538.5C698.1,540 706.1,540.9 713.7,541.7C721.3,542.4 731.3,542.8 734.8,543L735,500L735,366L585,366Z" fill="#454545" filter="url(#b3_2)"/>
<path d="M585,485C590,487.6 605.8,495.6 615,500.5C624.2,505.4 632,510.5 640,514.5C648,518.5 654.7,521.9 663,524.5C671.3,527.1 681.5,528.5 690,530C698.5,531.5 706.5,532.7 714,533.5C721.5,534.3 731.5,534.8 735,535L735,500L585,420Z" fill="#8f8f8f" filter="url(#b2_2)"/>
<path d="M585,482C588.2,483.7 597.8,488.8 604,492C610.2,495.2 616,498.2 622,501.5C628,504.8 635.3,508.8 640,511.5C644.7,514.2 648.3,516.9 650,518L700,480L700,366L585,366Z" fill="#d6d6d6" filter="url(#b4_8)"/>
</g>
<g clip-path="url(#loin)">
<ellipse cx="511" cy="431" rx="52" ry="21" fill="#bbbbbb" transform="rotate(15 511 431)" filter="url(#b7_0)"/>
<ellipse cx="564" cy="461" rx="27" ry="10" fill="#b5b5b5" transform="rotate(30 564 461)" filter="url(#b6_0)"/>
<ellipse cx="528" cy="451" rx="46" ry="9" fill="#bebebe" transform="rotate(14 528 451)" filter="url(#b4_5)"/>
<ellipse cx="578" cy="478" rx="18" ry="7" fill="#b8b8b8" transform="rotate(32 578 478)" filter="url(#b4_0)"/>
<ellipse cx="536" cy="448" rx="22" ry="13" fill="#bababa" transform="rotate(20 536 448)" filter="url(#b6_0)"/>
<ellipse cx="520" cy="424" rx="22" ry="7" fill="#b2b2b2" transform="rotate(12 520 424)" filter="url(#b4_0)"/>
<ellipse cx="465" cy="396" rx="26" ry="5" fill="#dfdfdf" filter="url(#b4_0)"/>
<ellipse cx="340" cy="399" rx="40" ry="5" fill="#dadada" transform="rotate(8 340 399)" filter="url(#b3_0)"/>
<path d="M561.4,389.9C561.8,391.9 562.9,398 563.8,402C564.8,406 565.9,410 567.2,414C568.5,417.9 570,421.8 571.6,425.6C573.2,429.4 574.9,433.1 576.8,436.8C578.7,440.5 580.8,444.1 583,447.6C585.2,451.1 587.5,454.5 590,457.8C592.4,461.1 595,464.4 597.8,467.5C600.5,470.6 603.4,473.4 606.3,476.5C609.1,479.5 611.8,482.7 614.8,485.6C617.8,488.5 620.9,491.4 624.1,494.1C627.3,496.8 630.7,499.4 634.1,501.8C637.6,504.3 643.1,507.6 644.8,508.8L650.8,507L600,420L575,392Z" fill="#dfdfdf" filter="url(#b2_4)"/>
<ellipse cx="550.5" cy="394.5" rx="3.5" ry="5" fill="#f2f2f2" filter="url(#b1_5)"/>
</g>
<path d="M224.5,365.7C224.6,366.4 224.6,368.6 224.8,370C225.1,371.4 225.4,372.9 225.9,374.2C226.3,375.6 226.9,376.9 227.5,378.2C228.2,379.5 228.9,380.8 229.8,381.9C230.6,383.1 231.6,384.2 232.6,385.2C233.6,386.2 234.7,387.2 235.9,388C237,388.9 238.3,389.6 239.6,390.3C240.9,390.9 242.9,391.7 243.6,391.9L252.1,365.7Z" fill="#dbdbdb" filter="url(#b0_8)"/>
</g>
<g clip-path="url(#up)">
<path d="M-20,0H735V366H-20Z" fill="#000000"/>
<path d="M223.6,364.8C223.8,363.1 224,358.1 224.9,354.9C225.8,351.6 226.9,349 228.8,345.4C230.7,341.8 233.6,337.6 236.5,333.3C239.4,328.9 243.7,322.9 246,319.3C248.3,315.7 248.7,314.4 250.5,311.6C252.3,308.8 254.7,305.4 256.8,302.5C258.9,299.5 260.7,296.7 263,293.7C265.3,290.7 266.7,288.5 270.8,284.5C274.9,280.4 282.2,273.9 287.8,269.5C293.4,265.1 298.5,261.4 304.7,258C310.9,254.6 317.8,253.3 325,249C332.2,244.7 338.8,237.5 348,232C357.2,226.5 369.2,221.2 380,216C390.8,210.8 398,207.3 413,201C428,194.7 450.5,184.3 470,178C489.5,171.7 508.2,167.7 530,163C551.8,158.3 580.4,154.2 601,150C621.6,145.8 635,141.3 653.7,138C672.5,134.7 700,132 713.5,130C727,128 731.4,126.7 735,126L735,126L735,365.4L223.6,365.4Z" fill="#0a0a0a" filter="url(#b1_4)"/>
<path d="M223.6,365.1C223.8,363.4 224,358.4 224.9,355.2C225.8,352 226.9,349.4 228.8,345.8C230.7,342.2 233.6,338 236.5,333.7C239.4,329.4 243.7,323.5 246,319.9C248.3,316.3 248.7,315 250.5,312.2C252.3,309.4 254.7,306.1 256.8,303.1C258.9,300.2 260.7,297.5 263,294.5C265.3,291.5 266.7,289.3 270.8,285.3C274.9,281.3 282.2,274.9 287.8,270.5C293.4,266.1 298.5,262.1 304.7,259C310.9,255.9 317.8,254.7 325,252C332.2,249.3 338.8,246.3 348,243C357.2,239.7 369.2,235.8 380,232C390.8,228.2 398,225 413,220C428,215 450.5,206.7 470,202C489.5,197.3 508.2,196.3 530,192C551.8,187.7 580.4,182 601,176C621.6,170 635,161.7 653.7,156C672.5,150.3 700,145 713.5,142C727,139 731.4,138.7 735,138L735,138L735,365.4L223.6,365.4Z" fill="#1a1a1a" filter="url(#b1_3)"/>
<path d="M223.6,365.4C223.8,363.7 224,358.7 224.9,355.5C225.8,352.3 226.9,349.7 228.8,346.1C230.7,342.6 233.6,338.4 236.5,334.2C239.4,329.9 243.7,324 246,320.4C248.3,316.9 248.7,315.6 250.5,312.8C252.3,310 254.7,306.7 256.8,303.8C258.9,300.9 260.7,298.2 263,295.2C265.3,292.3 266.7,290.1 270.8,286.2C274.9,282.2 282.2,275.9 287.8,271.5C293.4,267.1 298.5,262.8 304.7,260C310.9,257.2 317.8,256.5 325,255C332.2,253.5 338.8,253 348,251C357.2,249 369.2,246 380,243C390.8,240 398,236.7 413,233C428,229.3 450.5,224 470,221C489.5,218 508.2,219.2 530,215C551.8,210.8 580.4,203.5 601,196C621.6,188.5 635,177 653.7,170C672.5,163 700,157.3 713.5,154C727,150.7 731.4,150.7 735,150L735,150L735,365.4L223.6,365.4Z" fill="#292929" filter="url(#b1_2)"/>
<path d="M223.6,365.7C223.8,364.1 224,359 224.9,355.8C225.8,352.6 226.9,350 228.8,346.5C230.7,343 233.6,338.9 236.5,334.6C239.4,330.4 243.7,324.5 246,321C248.3,317.5 248.7,316.1 250.5,313.4C252.3,310.6 254.7,307.4 256.8,304.5C258.9,301.6 260.7,298.9 263,296C265.3,293.1 266.7,290.9 270.8,287C274.9,283.1 282.2,276.8 287.8,272.5C293.4,268.2 298.5,263.4 304.7,261C310.9,258.6 317.8,258.8 325,258C332.2,257.2 338.8,257.8 348,256.5C357.2,255.2 369.2,252.2 380,250C390.8,247.8 398,245.2 413,243C428,240.8 450.5,238.5 470,237C489.5,235.5 508.2,238.2 530,234C551.8,229.8 580.4,221 601,212C621.6,203 635,188.3 653.7,180C672.5,171.7 700,165.7 713.5,162C727,158.3 731.4,158.7 735,158L735,158L735,365.4L223.6,365.4Z" fill="#383838" filter="url(#b1_1)"/>
<path d="M223.6,366C223.8,364.4 224,359.3 224.9,356.1C225.8,352.9 226.9,350.4 228.8,346.9C230.7,343.3 233.6,339.3 236.5,335C239.4,330.8 243.7,325.1 246,321.6C248.3,318.1 248.7,316.7 250.5,314C252.3,311.3 254.7,308.1 256.8,305.2C258.9,302.3 260.7,299.6 263,296.8C265.3,293.9 266.7,291.7 270.8,287.8C274.9,284 282.2,277.8 287.8,273.5C293.4,269.2 298.5,264.2 304.7,262C310.9,259.8 317.8,260.8 325,260.5C332.2,260.2 338.8,260.9 348,260C357.2,259.1 369.2,256.8 380,255C390.8,253.2 398,250.7 413,249C428,247.3 450.5,245.5 470,245C489.5,244.5 508.2,249.8 530,246C551.8,242.2 580.4,232 601,222C621.6,212 635,194.9 653.7,186C672.5,177.1 700,171.8 713.5,168.5C727,165.2 731.4,166.4 735,166L735,166L735,365.4L223.6,365.4Z" fill="#454545" filter="url(#b1_0)"/>
<g mask="url(#z286_0_345_0)">
<path d="M275,0H735V366H275Z" fill="#000000"/>
<path d="M280,276.4C281.3,275.2 283.7,272.6 287.8,269.5C291.9,266.4 298.5,261.4 304.7,258C310.9,254.6 317.8,253.3 325,249C332.2,244.7 338.8,237.5 348,232C357.2,226.5 369.2,221.2 380,216C390.8,210.8 398,207.3 413,201C428,194.7 450.5,184.3 470,178C489.5,171.7 508.2,167.7 530,163C551.8,158.3 580.4,154.2 601,150C621.6,145.8 635,141.3 653.7,138C672.5,134.7 700,132 713.5,130C727,128 731.4,126.7 735,126L735,126L735,365.4L280,365.4Z" fill="#0a0a0a" filter="url(#b3_0)"/>
<path d="M280,277.3C281.3,276.2 283.7,273.5 287.8,270.5C291.9,267.5 298.5,262.1 304.7,259C310.9,255.9 317.8,254.7 325,252C332.2,249.3 338.8,246.3 348,243C357.2,239.7 369.2,235.8 380,232C390.8,228.2 398,225 413,220C428,215 450.5,206.7 470,202C489.5,197.3 508.2,196.3 530,192C551.8,187.7 580.4,182 601,176C621.6,170 635,161.7 653.7,156C672.5,150.3 700,145 713.5,142C727,139 731.4,138.7 735,138L735,138L735,365.4L280,365.4Z" fill="#1a1a1a" filter="url(#b3_2)"/>
<path d="M280,278.2C281.3,277.1 283.7,274.5 287.8,271.5C291.9,268.5 298.5,262.8 304.7,260C310.9,257.2 317.8,256.5 325,255C332.2,253.5 338.8,253 348,251C357.2,249 369.2,246 380,243C390.8,240 398,236.7 413,233C428,229.3 450.5,224 470,221C489.5,218 508.2,219.2 530,215C551.8,210.8 580.4,203.5 601,196C621.6,188.5 635,177 653.7,170C672.5,163 700,157.3 713.5,154C727,150.7 731.4,150.7 735,150L735,150L735,365.4L280,365.4Z" fill="#292929" filter="url(#b3_6)"/>
<path d="M280,279.2C281.3,278 283.7,275.5 287.8,272.5C291.9,269.5 298.5,263.4 304.7,261C310.9,258.6 317.8,258.8 325,258C332.2,257.2 338.8,257.8 348,256.5C357.2,255.2 369.2,252.2 380,250C390.8,247.8 398,245.2 413,243C428,240.8 450.5,238.5 470,237C489.5,235.5 508.2,238.2 530,234C551.8,229.8 580.4,221 601,212C621.6,203 635,188.3 653.7,180C672.5,171.7 700,165.7 713.5,162C727,158.3 731.4,158.7 735,158L735,158L735,365.4L280,365.4Z" fill="#383838" filter="url(#b3_0)"/>
<path d="M280,280.1C281.3,279 283.7,276.5 287.8,273.5C291.9,270.5 298.5,264.2 304.7,262C310.9,259.8 317.8,260.8 325,260.5C332.2,260.2 338.8,260.9 348,260C357.2,259.1 369.2,256.8 380,255C390.8,253.2 398,250.7 413,249C428,247.3 450.5,245.5 470,245C489.5,244.5 508.2,249.8 530,246C551.8,242.2 580.4,232 601,222C621.6,212 635,194.9 653.7,186C672.5,177.1 700,171.8 713.5,168.5C727,165.2 731.4,166.4 735,166L735,166L735,365.4L280,365.4Z" fill="#454545" filter="url(#b2_4)"/>
</g>
<g mask="url(#z365_0_470_0)">
<path d="M350,0H735V366H350Z" fill="#000000"/>
<path d="M355,228.5C359.2,226.4 370.3,220.6 380,216C389.7,211.4 398,207.3 413,201C428,194.7 450.5,184.3 470,178C489.5,171.7 508.2,167.7 530,163C551.8,158.3 580.4,154.2 601,150C621.6,145.8 635,141.3 653.7,138C672.5,134.7 700,132 713.5,130C727,128 731.4,126.7 735,126L735,126L735,365.4L300,365.4Z" fill="#0a0a0a" filter="url(#b4_5)"/>
<path d="M355,240.6C359.2,239.2 370.3,235.4 380,232C389.7,228.6 398,225 413,220C428,215 450.5,206.7 470,202C489.5,197.3 508.2,196.3 530,192C551.8,187.7 580.4,182 601,176C621.6,170 635,161.7 653.7,156C672.5,150.3 700,145 713.5,142C727,139 731.4,138.7 735,138L735,138L735,365.4L300,365.4Z" fill="#1a1a1a" filter="url(#b5_5)"/>
<path d="M355,249.2C359.2,248.2 370.3,245.7 380,243C389.7,240.3 398,236.7 413,233C428,229.3 450.5,224 470,221C489.5,218 508.2,219.2 530,215C551.8,210.8 580.4,203.5 601,196C621.6,188.5 635,177 653.7,170C672.5,163 700,157.3 713.5,154C727,150.7 731.4,150.7 735,150L735,150L735,365.4L300,365.4Z" fill="#292929" filter="url(#b6_5)"/>
<path d="M355,255.1C359.2,254.2 370.3,252 380,250C389.7,248 398,245.2 413,243C428,240.8 450.5,238.5 470,237C489.5,235.5 508.2,238.2 530,234C551.8,229.8 580.4,221 601,212C621.6,203 635,188.3 653.7,180C672.5,171.7 700,165.7 713.5,162C727,158.3 731.4,158.7 735,158L735,158L735,365.4L300,365.4Z" fill="#383838" filter="url(#b5_0)"/>
<path d="M355,258.9C359.2,258.3 370.3,256.7 380,255C389.7,253.3 398,250.7 413,249C428,247.3 450.5,245.5 470,245C489.5,244.5 508.2,249.8 530,246C551.8,242.2 580.4,232 601,222C621.6,212 635,194.9 653.7,186C672.5,177.1 700,171.8 713.5,168.5C727,165.2 731.4,166.4 735,166L735,166L735,365.4L300,365.4Z" fill="#454545" filter="url(#b3_8)"/>
</g>
<path d="M227.5,356C228.2,354.8 229.7,351.6 231.8,348.5C233.9,345.4 237,341.2 240,337.2C243,333.2 246.8,328.3 249.6,324.3C252.4,320.3 254.2,316.6 256.6,313.3C259.1,310.1 261.7,307.2 264.3,304.8C266.9,302.4 268.1,301.6 272,299C275.9,296.4 282.6,291.9 288,289.5C293.4,287.1 299.1,286.1 304.7,284.5C310.3,282.9 313.2,281.8 321.7,280C330.2,278.2 342.6,276.1 355.6,274C368.7,271.9 385.9,269.5 400,267.5C414.1,265.5 433.3,262.9 440,262" fill="none" stroke="url(#ra)" stroke-width="8" stroke-linecap="round" stroke-linejoin="round" filter="url(#b2_0)"/>
<path d="M262,331C263.5,330 266.5,327.4 270.8,325C275.1,322.6 282.2,318.8 287.8,316.5C293.4,314.2 293.4,313.2 304.7,311.5C316,309.8 335.8,308.9 355.6,306C375.4,303.1 403.7,298.2 423.4,294C443.1,289.8 456.2,286 474,281C491.8,276 514.8,268.8 530,264C545.2,259.2 553.2,256.8 565,252.5C576.8,248.2 586.2,246.2 601,238C615.8,229.8 637.2,210.7 653.7,203C670.2,195.3 686.5,194.2 700,192C713.5,189.8 729.2,190.3 735,190L735,190L735,365.4L262,365.4Z" fill="#858585" filter="url(#b3_2)"/>
<path d="M262,334C266.3,332 272.2,325.5 287.8,322C303.4,318.5 333,316.2 355.6,313C378.2,309.8 403.7,306.2 423.4,303C443.1,299.8 456.2,297.7 474,294C491.8,290.3 514,285.3 530,281C546,276.7 556.7,273.2 570,268C583.3,262.8 598.3,256.3 610,250C621.7,243.7 635,233.3 640,230L680,250L680,365.4L262,365.4Z" fill="url(#la)" filter="url(#b5_0)"/>
<path d="M640,214C646.7,211.2 664.2,201.2 680,197C695.8,192.8 725.8,190.3 735,189L735,240L640,240Z" fill="#787878" filter="url(#b3_0)"/>
<path d="M262.4,322C263.8,321.5 266.6,320.9 270.8,318.8C275,316.7 282.2,312.3 287.8,309.5C293.4,306.7 299.1,303.9 304.7,302C310.3,300.1 313.2,299.6 321.7,298C330.2,296.4 344.3,294.4 355.6,292.5C366.9,290.6 378.2,288.9 389.5,286.8C400.8,284.7 409.3,283.2 423.4,279.8C437.5,276.4 465.6,268.7 474,266.5" fill="none" stroke="url(#sa)" stroke-width="6.6" stroke-linecap="round" stroke-linejoin="round" filter="url(#b2_0)"/>
<ellipse cx="500" cy="311" rx="46" ry="27" fill="#939393" transform="rotate(-6 500 311)" filter="url(#b7_0)"/>
<path d="M262,341L262,328C300,325 380,326 432,329L470,333L560,337.5V345Z" fill="url(#ya)" filter="url(#b4_0)"/>
<path d="M262,341.5L262,338.6H470V341.5Z" fill="#dedede" filter="url(#b0_9)"/>
<path d="M425,341L436,334L448,331L482,341Z" fill="#cccccc" filter="url(#b2_4)"/>
<path d="M434,341L450,335.5L472,341Z" fill="#dedede" filter="url(#b1_6)"/>
<path d="M483,341L520,338L553,337.5V341Z" fill="#b8b8b8" filter="url(#b1_3)"/>
<path d="M554,341L534,341L546,318L558,300Z" fill="#b8b8b8" filter="url(#b3_5)"/>
<path d="M554,341L543,341L549,321L557,306Z" fill="#d9d9d9" filter="url(#b1_8)"/>
<path d="M224.6,365.7C224.7,365 224.7,362.8 224.9,361.4C225.2,360 225.5,358.6 225.9,357.2C226.4,355.8 226.9,354.5 227.6,353.2C228.2,351.9 229,350.7 229.9,349.5C230.7,348.4 231.6,347.3 232.7,346.3C233.7,345.2 235.4,343.9 235.9,343.5L252.1,365.7Z" fill="#dbdbdb" filter="url(#b0_8)"/>
<path d="M236.5,341.5L243.2,330.5L250,323.3L252.6,341.5Z" fill="#dbdbdb" filter="url(#b1_2)"/>
<ellipse cx="256.4" cy="330.4" rx="3.9" ry="9.8" fill="#050505" transform="rotate(22 256.4 330.4)" filter="url(#b1_0)"/>
<ellipse cx="257.5" cy="337.5" rx="2.2" ry="3.5" fill="#2e2e2e" transform="rotate(10 257.5 337.5)" filter="url(#b0_8)"/>
</g>
</g></g>
<g transform="matrix(1 0 0 1 0 0)" fill="none" stroke="#0c0c10" stroke-width="1.25">
<path d="M252.1,120.1L553.7,120.1A293.3 293.3 0 0 1 714,72.4L714,202.1A163.6 163.6 0 0 0 552.4,340.5L252.1,340.5A25.2 25.2 0 0 0 252.1,390.9L552.4,390.9A163.6 163.6 0 0 0 714,529.3L714,659A293.3 293.3 0 0 1 553.7,611.3L252.1,611.3A245.6 245.6 0 0 1 252.1,120.1Z"/>
<line x1="6.5" y1="365.7" x2="226.9" y2="365.7" stroke-width="1.3"/>
</g>
<rect x="159.4" y="33.2" width="355.2" height="36.4" fill="url(#cb)"/>
<rect x="159.4" y="33.2" width="4" height="36.4" fill="#0000c8"/>
<line x1="257.4" y1="33.2" x2="257.4" y2="69.6" stroke="#1a1a1a" stroke-width="1.1"/>
<line x1="353.2" y1="33.2" x2="353.2" y2="69.6" stroke="#1a1a1a" stroke-width="1.1"/>
<line x1="449.1" y1="33.2" x2="449.1" y2="69.6" stroke="#1a1a1a" stroke-width="1.1"/>
<rect x="159.4" y="33.2" width="355.2" height="36.4" fill="none" stroke="#1a1a1a" stroke-width="1.2"/>
<text class="lg" x="49.2" y="98.3">T(K):</text>
<text class="lg" x="149.2" y="98.3">60</text>
<text class="lg" x="218.1" y="98.3">182.727</text>
<text class="lg" x="312.6" y="98.3">305.455</text>
<text class="lg" x="408.7" y="98.3">428.182</text>
<text class="pl" transform="translate(5.4 30.1) scale(0.98 1.04)" x="0" y="0">(a)</text>
<text class="cap" x="223.6" y="721.5">Case 1 vs. Benchmark</text>
<g filter="url(#cmap)">
<g transform="matrix(1.0069 0 0 1.0069 808.66 -3.53)" clip-path="url(#dom)">
<rect x="0" y="60" width="730" height="610" fill="#000"/>
<g clip-path="url(#lo)">
<path d="M200,366H735V680H-20V366Z" fill="#000000"/>
<path d="M220.6,366.1C220.9,367.8 221.1,372.4 222,376.4C223,380.4 224,385.4 226.4,390.1C228.7,394.8 232.1,400.5 235.9,404.6C239.7,408.6 243.1,411.3 249,414.3C254.8,417.3 263.7,420.2 270.9,422.6C278.1,424.9 285.2,426.1 292.1,428.4C299,430.7 302.8,432.4 312.3,436.2C321.7,440.1 335.3,445.5 348.8,451.5C362.4,457.5 377.8,466.2 393.4,472.4C409,478.6 426.1,483.3 442.5,488.6C459,493.9 474.9,498.3 492.2,504.4C509.5,510.4 533.9,520 546.3,524.8C558.7,529.7 557.8,529.3 566.6,533.5C575.3,537.8 589.8,546 598.7,550.5C607.6,555 611.3,556.9 619.8,560.4C628.3,563.9 639.2,568.1 649.6,571.7C659.9,575.3 672,579.2 681.9,582C691.8,584.8 700.7,587.1 709,588.5C717.4,589.8 728.1,589.7 731.9,589.9L735,500L735,366L200,366Z" fill="#0d0d0d" filter="url(#b1_2)"/>
<path d="M222.1,365.9C222.3,367.6 222.5,372.1 223.5,376C224.5,379.8 225.6,384.7 228,389.1C230.4,393.5 234,398.8 237.7,402.4C241.5,406 244.8,407.9 250.5,410.6C256.3,413.3 265,416.4 272.1,418.8C279.2,421.1 286.2,422.5 293.1,424.5C300,426.6 303.9,427.9 313.6,431C323.2,434 337.1,438.1 350.9,442.8C364.8,447.4 380.8,453.8 396.7,458.8C412.6,463.9 429.7,468.4 446.3,473.1C462.8,477.7 478.6,481.5 496.1,486.8C513.7,492 538.5,499.9 551.6,504.5C564.7,509.2 565.5,510 574.8,514.7C584.2,519.4 599,527.6 607.8,532.7C616.5,537.7 619.8,540.7 627.4,545C635.1,549.3 644.4,554.2 653.9,558.4C663.3,562.6 674.6,566.9 683.9,570.3C693.3,573.6 701.9,576.9 710,578.5C718.1,580.1 728.8,579.7 732.5,579.9L735,500L735,366L200,366Z" fill="#262626" filter="url(#b1_0)"/>
<path d="M223.3,365.7C223.5,367.4 223.7,371.9 224.7,375.7C225.6,379.4 226.8,384.2 229.2,388.4C231.5,392.7 235.1,397.7 238.8,401.1C242.5,404.5 245.7,406.2 251.3,408.7C257,411.3 265.7,414.3 272.8,416.6C279.8,418.8 286.8,420.2 293.7,422C300.7,423.8 304.7,424.9 314.4,427.4C324.2,429.8 338.2,433.2 352.4,436.6C366.5,440.1 383.1,444.1 399.3,448.1C415.4,452.1 432.6,456.4 449.3,460.4C466,464.4 481.4,468.2 499.4,472.1C517.3,476.1 542.9,480.5 556.9,484.2C571,487.9 573.5,489.7 583.8,494.2C594.1,498.8 609.5,506.6 618.6,511.3C627.8,515.9 631.4,518.6 638.7,522.2C645.9,525.8 653.6,529.9 662.1,532.7C670.6,535.4 680.9,537 689.5,538.5C698.1,540 706.1,540.9 713.7,541.7C721.3,542.4 731.3,542.8 734.8,543L735,500L735,366L200,366Z" fill="#454545" filter="url(#b0_8)"/>
<path d="M585,485C590,487.6 605.8,495.6 615,500.5C624.2,505.4 632,510.5 640,514.5C648,518.5 654.7,521.9 663,524.5C671.3,527.1 681.5,528.5 690,530C698.5,531.5 706.5,532.7 714,533.5C721.5,534.3 731.5,534.8 735,535L735,500L585,420Z" fill="#8f8f8f" filter="url(#b2_0)"/>
<path d="M224.6,365.7C224.8,367.3 224.9,371.8 226.1,375.2C227.2,378.6 229,383 231.7,386.1C234.3,389.3 238.4,392.1 241.8,394.1C245.2,396.1 248.7,396.9 252.1,398.3C255.5,399.7 258.4,400.9 262,402.3C265.6,403.7 268,404.8 273.4,406.6C278.8,408.4 287.4,411 294.3,413C301.2,415 305.2,416 315,418.4C324.8,420.8 338.8,424.1 353,427.2C367.2,430.3 383.8,433.8 400,437.2C416.2,440.6 433.3,444.1 450,447.6C466.7,451.1 486.7,455.2 500,458C513.3,460.8 520.4,462.3 530,464.5C539.6,466.7 548.5,468.3 557.7,471.2C566.9,474.1 577.3,478.5 585,482C592.7,485.5 597.8,488.8 604,492C610.2,495.2 616,498.2 622,501.5C628,504.8 635.3,508.8 640,511.5C644.7,514.2 648.3,516.9 650,518L700,480L700,366L200,366Z" fill="#d6d6d6" filter="url(#b0_9)"/>
<g mask="url(#z229_0_252_0)">
<path d="M200,366H735V680H-20V366Z" fill="#000000"/>
<path d="M220.6,366.1C220.9,367.8 221.1,372.4 222,376.4C223,380.4 224,385.4 226.4,390.1C228.7,394.8 232.1,400.5 235.9,404.6C239.7,408.6 243.1,411.3 249,414.3C254.8,417.3 263.7,420.2 270.9,422.6C278.1,424.9 285.2,426.1 292.1,428.4C299,430.7 302.8,432.4 312.3,436.2C321.7,440.1 335.3,445.5 348.8,451.5C362.4,457.5 377.8,466.2 393.4,472.4C409,478.6 426.1,483.3 442.5,488.6C459,493.9 474.9,498.3 492.2,504.4C509.5,510.4 533.9,520 546.3,524.8C558.7,529.7 557.8,529.3 566.6,533.5C575.3,537.8 589.8,546 598.7,550.5C607.6,555 611.3,556.9 619.8,560.4C628.3,563.9 639.2,568.1 649.6,571.7C659.9,575.3 672,579.2 681.9,582C691.8,584.8 700.7,587.1 709,588.5C717.4,589.8 728.1,589.7 731.9,589.9L735,500L735,366L200,366Z" fill="#0d0d0d" filter="url(#b2_5)"/>
<path d="M222.1,365.9C222.3,367.6 222.5,372.1 223.5,376C224.5,379.8 225.6,384.7 228,389.1C230.4,393.5 234,398.8 237.7,402.4C241.5,406 244.8,407.9 250.5,410.6C256.3,413.3 265,416.4 272.1,418.8C279.2,421.1 286.2,422.5 293.1,424.5C300,426.6 303.9,427.9 313.6,431C323.2,434 337.1,438.1 350.9,442.8C364.8,447.4 380.8,453.8 396.7,458.8C412.6,463.9 429.7,468.4 446.3,473.1C462.8,477.7 478.6,481.5 496.1,486.8C513.7,492 538.5,499.9 551.6,504.5C564.7,509.2 565.5,510 574.8,514.7C584.2,519.4 599,527.6 607.8,532.7C616.5,537.7 619.8,540.7 627.4,545C635.1,549.3 644.4,554.2 653.9,558.4C663.3,562.6 674.6,566.9 683.9,570.3C693.3,573.6 701.9,576.9 710,578.5C718.1,580.1 728.8,579.7 732.5,579.9L735,500L735,366L200,366Z" fill="#262626" filter="url(#b2_2)"/>
<path d="M223.3,365.7C223.5,367.4 223.7,371.9 224.7,375.7C225.6,379.4 226.8,384.2 229.2,388.4C231.5,392.7 235.1,397.7 238.8,401.1C242.5,404.5 245.7,406.2 251.3,408.7C257,411.3 265.7,414.3 272.8,416.6C279.8,418.8 286.8,420.2 293.7,422C300.7,423.8 304.7,424.9 314.4,427.4C324.2,429.8 338.2,433.2 352.4,436.6C366.5,440.1 383.1,444.1 399.3,448.1C415.4,452.1 432.6,456.4 449.3,460.4C466,464.4 481.4,468.2 499.4,472.1C517.3,476.1 542.9,480.5 556.9,484.2C571,487.9 573.5,489.7 583.8,494.2C594.1,498.8 609.5,506.6 618.6,511.3C627.8,515.9 631.4,518.6 638.7,522.2C645.9,525.8 653.6,529.9 662.1,532.7C670.6,535.4 680.9,537 689.5,538.5C698.1,540 706.1,540.9 713.7,541.7C721.3,542.4 731.3,542.8 734.8,543L735,500L735,366L200,366Z" fill="#454545" filter="url(#b1_8)"/>
<path d="M585,485C590,487.6 605.8,495.6 615,500.5C624.2,505.4 632,510.5 640,514.5C648,518.5 654.7,521.9 663,524.5C671.3,527.1 681.5,528.5 690,530C698.5,531.5 706.5,532.7 714,533.5C721.5,534.3 731.5,534.8 735,535L735,500L585,420Z" fill="#8f8f8f" filter="url(#b2_0)"/>
<path d="M224.6,365.7C224.8,367.3 224.9,371.8 226.1,375.2C227.2,378.6 229,383 231.7,386.1C234.3,389.3 238.4,392.1 241.8,394.1C245.2,396.1 248.7,396.9 252.1,398.3C255.5,399.7 258.4,400.9 262,402.3C265.6,403.7 268,404.8 273.4,406.6C278.8,408.4 287.4,411 294.3,413C301.2,415 305.2,416 315,418.4C324.8,420.8 338.8,424.1 353,427.2C367.2,430.3 383.8,433.8 400,437.2C416.2,440.6 433.3,444.1 450,447.6C466.7,451.1 486.7,455.2 500,458C513.3,460.8 520.4,462.3 530,464.5C539.6,466.7 548.5,468.3 557.7,471.2C566.9,474.1 577.3,478.5 585,482C592.7,485.5 597.8,488.8 604,492C610.2,495.2 616,498.2 622,501.5C628,504.8 635.3,508.8 640,511.5C644.7,514.2 648.3,516.9 650,518L700,480L700,366L200,366Z" fill="#d6d6d6" filter="url(#b2_3)"/>
</g>
<g mask="url(#z288_0_345_0)">
<path d="M270,366H735V680H270Z" fill="#000000"/>
<path d="M272.9,423.1C276.1,424 285.6,426.2 292.1,428.4C298.7,430.6 302.8,432.4 312.3,436.2C321.7,440.1 335.3,445.5 348.8,451.5C362.4,457.5 377.8,466.2 393.4,472.4C409,478.6 426.1,483.3 442.5,488.6C459,493.9 474.9,498.3 492.2,504.4C509.5,510.4 533.9,520 546.3,524.8C558.7,529.7 557.8,529.3 566.6,533.5C575.3,537.8 589.8,546 598.7,550.5C607.6,555 611.3,556.9 619.8,560.4C628.3,563.9 639.2,568.1 649.6,571.7C659.9,575.3 672,579.2 681.9,582C691.8,584.8 700.7,587.1 709,588.5C717.4,589.8 728.1,589.7 731.9,589.9L735,500L735,366L275,366Z" fill="#0d0d0d" filter="url(#b4_5)"/>
<path d="M273.9,419.2C277.1,420.1 286.5,422.6 293.1,424.5C299.7,426.5 303.9,427.9 313.6,431C323.2,434 337.1,438.1 350.9,442.8C364.8,447.4 380.8,453.8 396.7,458.8C412.6,463.9 429.7,468.4 446.3,473.1C462.8,477.7 478.6,481.5 496.1,486.8C513.7,492 538.5,499.9 551.6,504.5C564.7,509.2 565.5,510 574.8,514.7C584.2,519.4 599,527.6 607.8,532.7C616.5,537.7 619.8,540.7 627.4,545C635.1,549.3 644.4,554.2 653.9,558.4C663.3,562.6 674.6,566.9 683.9,570.3C693.3,573.6 701.9,576.9 710,578.5C718.1,580.1 728.8,579.7 732.5,579.9L735,500L735,366L275,366Z" fill="#262626" filter="url(#b4_0)"/>
<path d="M274.5,417C277.7,417.8 287.1,420.3 293.7,422C300.4,423.7 304.7,424.9 314.4,427.4C324.2,429.8 338.2,433.2 352.4,436.6C366.5,440.1 383.1,444.1 399.3,448.1C415.4,452.1 432.6,456.4 449.3,460.4C466,464.4 481.4,468.2 499.4,472.1C517.3,476.1 542.9,480.5 556.9,484.2C571,487.9 573.5,489.7 583.8,494.2C594.1,498.8 609.5,506.6 618.6,511.3C627.8,515.9 631.4,518.6 638.7,522.2C645.9,525.8 653.6,529.9 662.1,532.7C670.6,535.4 680.9,537 689.5,538.5C698.1,540 706.1,540.9 713.7,541.7C721.3,542.4 731.3,542.8 734.8,543L735,500L735,366L275,366Z" fill="#454545" filter="url(#b2_7)"/>
<path d="M585,485C590,487.6 605.8,495.6 615,500.5C624.2,505.4 632,510.5 640,514.5C648,518.5 654.7,521.9 663,524.5C671.3,527.1 681.5,528.5 690,530C698.5,531.5 706.5,532.7 714,533.5C721.5,534.3 731.5,534.8 735,535L735,500L585,420Z" fill="#8f8f8f" filter="url(#b2_2)"/>
<path d="M275,407.1C278.2,408.1 287.6,411.1 294.3,413C301,414.9 305.2,416 315,418.4C324.8,420.8 338.8,424.1 353,427.2C367.2,430.3 383.8,433.8 400,437.2C416.2,440.6 433.3,444.1 450,447.6C466.7,451.1 486.7,455.2 500,458C513.3,460.8 520.4,462.3 530,464.5C539.6,466.7 548.5,468.3 557.7,471.2C566.9,474.1 577.3,478.5 585,482C592.7,485.5 597.8,488.8 604,492C610.2,495.2 616,498.2 622,501.5C628,504.8 635.3,508.8 640,511.5C644.7,514.2 648.3,516.9 650,518L700,480L700,366L275,366Z" fill="#d6d6d6" filter="url(#b3_7)"/>
</g>
<g mask="url(#z385_0_470_0)">
<path d="M365,366H735V680H365Z" fill="#000000"/>
<path d="M365,459.1C369.7,461.3 380.5,467.5 393.4,472.4C406.3,477.3 426.1,483.3 442.5,488.6C459,493.9 474.9,498.3 492.2,504.4C509.5,510.4 533.9,520 546.3,524.8C558.7,529.7 557.8,529.3 566.6,533.5C575.3,537.8 589.8,546 598.7,550.5C607.6,555 611.3,556.9 619.8,560.4C628.3,563.9 639.2,568.1 649.6,571.7C659.9,575.3 672,579.2 681.9,582C691.8,584.8 700.7,587.1 709,588.5C717.4,589.8 728.1,589.7 731.9,589.9L735,500L735,366L370,366Z" fill="#0d0d0d" filter="url(#b7_0)"/>
<path d="M367.5,448.6C372.4,450.3 383.6,454.7 396.7,458.8C409.8,462.9 429.7,468.4 446.3,473.1C462.8,477.7 478.6,481.5 496.1,486.8C513.7,492 538.5,499.9 551.6,504.5C564.7,509.2 565.5,510 574.8,514.7C584.2,519.4 599,527.6 607.8,532.7C616.5,537.7 619.8,540.7 627.4,545C635.1,549.3 644.4,554.2 653.9,558.4C663.3,562.6 674.6,566.9 683.9,570.3C693.3,573.6 701.9,576.9 710,578.5C718.1,580.1 728.8,579.7 732.5,579.9L735,500L735,366L370,366Z" fill="#262626" filter="url(#b5_0)"/>
<path d="M369.4,440.8C374.3,442 386,444.8 399.3,448.1C412.6,451.4 432.6,456.4 449.3,460.4C466,464.4 481.4,468.2 499.4,472.1C517.3,476.1 542.9,480.5 556.9,484.2C571,487.9 573.5,489.7 583.8,494.2C594.1,498.8 609.5,506.6 618.6,511.3C627.8,515.9 631.4,518.6 638.7,522.2C645.9,525.8 653.6,529.9 662.1,532.7C670.6,535.4 680.9,537 689.5,538.5C698.1,540 706.1,540.9 713.7,541.7C721.3,542.4 731.3,542.8 734.8,543L735,500L735,366L370,366Z" fill="#454545" filter="url(#b3_5)"/>
<path d="M585,485C590,487.6 605.8,495.6 615,500.5C624.2,505.4 632,510.5 640,514.5C648,518.5 654.7,521.9 663,524.5C671.3,527.1 681.5,528.5 690,530C698.5,531.5 706.5,532.7 714,533.5C721.5,534.3 731.5,534.8 735,535L735,500L585,420Z" fill="#8f8f8f" filter="url(#b2_2)"/>
<path d="M370,430.8C375,431.9 386.7,434.4 400,437.2C413.3,440 433.3,444.1 450,447.6C466.7,451.1 486.7,455.2 500,458C513.3,460.8 520.4,462.3 530,464.5C539.6,466.7 548.5,468.3 557.7,471.2C566.9,474.1 577.3,478.5 585,482C592.7,485.5 597.8,488.8 604,492C610.2,495.2 616,498.2 622,501.5C628,504.8 635.3,508.8 640,511.5C644.7,514.2 648.3,516.9 650,518L700,480L700,366L370,366Z" fill="#d6d6d6" filter="url(#b5_2)"/>
</g>
<g mask="url(#z596_0_650_0)">
<path d="M580,366H735V680H580Z" fill="#000000"/>
<path d="M566.7,529C573.1,530.5 594.9,535.4 605,538C615.2,540.6 619.3,541.7 627.5,544.8C635.8,547.9 645.2,551.5 654.5,556.4C663.8,561.3 674.2,568.2 683.3,574.2C692.3,580.2 700.7,587.4 708.6,592.4C716.6,597.3 727.3,602 731,603.9L735,500L735,366L585,366Z" fill="#0d0d0d" filter="url(#b3_6)"/>
<path d="M574.5,513.1C580.5,515.3 601.3,522.7 610.9,526.4C620.6,530.1 624.5,531.6 632.2,535.3C639.9,539 648.2,543.5 657,548.7C665.7,553.9 675.9,560.4 684.6,566.2C693.4,572.1 701.7,579.1 709.5,583.9C717.3,588.7 727.9,593.1 731.6,594.9L735,500L735,366L585,366Z" fill="#262626" filter="url(#b2_8)"/>
<path d="M583.7,494.2C589.5,497 609.5,506.6 618.6,511.3C627.8,515.9 631.4,518.6 638.7,522.2C645.9,525.8 653.6,529.9 662.1,532.7C670.6,535.4 680.9,537 689.5,538.5C698.1,540 706.1,540.9 713.7,541.7C721.3,542.4 731.3,542.8 734.8,543L735,500L735,366L585,366Z" fill="#454545" filter="url(#b3_2)"/>
<path d="M585,485C590,487.6 605.8,495.6 615,500.5C624.2,505.4 632,510.5 640,514.5C648,518.5 654.7,521.9 663,524.5C671.3,527.1 681.5,528.5 690,530C698.5,531.5 706.5,532.7 714,533.5C721.5,534.3 731.5,534.8 735,535L735,500L585,420Z" fill="#8f8f8f" filter="url(#b2_2)"/>
<path d="M585,482C588.2,483.7 597.8,488.8 604,492C610.2,495.2 616,498.2 622,501.5C628,504.8 635.3,508.8 640,511.5C644.7,514.2 648.3,516.9 650,518L700,480L700,366L585,366Z" fill="#d6d6d6" filter="url(#b4_8)"/>
</g>
<g clip-path="url(#loin)">
<ellipse cx="511" cy="431" rx="52" ry="21" fill="#bbbbbb" transform="rotate(15 511 431)" filter="url(#b7_0)"/>
<ellipse cx="564" cy="461" rx="27" ry="10" fill="#b5b5b5" transform="rotate(30 564 461)" filter="url(#b6_0)"/>
<ellipse cx="528" cy="451" rx="46" ry="9" fill="#bebebe" transform="rotate(14 528 451)" filter="url(#b4_5)"/>
<ellipse cx="578" cy="478" rx="18" ry="7" fill="#b8b8b8" transform="rotate(32 578 478)" filter="url(#b4_0)"/>
<ellipse cx="536" cy="448" rx="22" ry="13" fill="#bababa" transform="rotate(20 536 448)" filter="url(#b6_0)"/>
<ellipse cx="520" cy="424" rx="22" ry="7" fill="#b2b2b2" transform="rotate(12 520 424)" filter="url(#b4_0)"/>
<ellipse cx="465" cy="396" rx="26" ry="5" fill="#dfdfdf" filter="url(#b4_0)"/>
<ellipse cx="340" cy="399" rx="40" ry="5" fill="#dadada" transform="rotate(8 340 399)" filter="url(#b3_0)"/>
<path d="M561.4,389.9C561.8,391.9 562.9,398 563.8,402C564.8,406 565.9,410 567.2,414C568.5,417.9 570,421.8 571.6,425.6C573.2,429.4 574.9,433.1 576.8,436.8C578.7,440.5 580.8,444.1 583,447.6C585.2,451.1 587.5,454.5 590,457.8C592.4,461.1 595,464.4 597.8,467.5C600.5,470.6 603.4,473.4 606.3,476.5C609.1,479.5 611.8,482.7 614.8,485.6C617.8,488.5 620.9,491.4 624.1,494.1C627.3,496.8 630.7,499.4 634.1,501.8C637.6,504.3 643.1,507.6 644.8,508.8L650.8,507L600,420L575,392Z" fill="#dfdfdf" filter="url(#b2_4)"/>
<ellipse cx="550.5" cy="394.5" rx="3.5" ry="5" fill="#f2f2f2" filter="url(#b1_5)"/>
</g>
<path d="M224.5,365.7C224.6,366.4 224.6,368.6 224.8,370C225.1,371.4 225.4,372.9 225.9,374.2C226.3,375.6 226.9,376.9 227.5,378.2C228.2,379.5 228.9,380.8 229.8,381.9C230.6,383.1 231.6,384.2 232.6,385.2C233.6,386.2 234.7,387.2 235.9,388C237,388.9 238.3,389.6 239.6,390.3C240.9,390.9 242.9,391.7 243.6,391.9L252.1,365.7Z" fill="#dbdbdb" filter="url(#b0_8)"/>
</g>
<g clip-path="url(#up)">
<path d="M190,0H735V366H190Z" fill="#000000"/>
<path d="M222.2,365.5C222.4,363.8 222.4,359.3 223.3,355.4C224.2,351.5 225.7,345.7 227.5,342.1C229.3,338.5 231.9,336.3 234.1,333.8C236.3,331.3 238.1,329.3 240.8,326.9C243.6,324.6 246.4,322.1 250.7,319.6C255,317.1 261.1,314.7 266.5,312.2C272,309.6 277.8,306.9 283.3,304.4C288.8,301.8 294.2,299.4 299.4,296.8C304.7,294.3 310.9,291.2 314.9,289C318.8,286.9 318,284.8 323,283.9C328,282.9 336.8,289.2 345,283.6C353.1,277.9 361.5,259.2 371.8,249.8C382,240.4 394.9,233.9 406.5,227C418.1,220 429.6,213.6 441.3,208.1C453,202.6 464.8,198.5 476.6,194.2C488.3,189.9 499.8,185.9 511.5,182.3C523.2,178.6 533.9,175.7 546.6,172.3C559.2,169 573.9,165.7 587.3,162.4C600.7,159.1 606.2,156.9 627,152.5C647.9,148 694.5,139.2 712.4,135.6C730.3,132 730.6,131.5 734.3,130.6L735,130.6L735,365.4L222.2,365.4Z" fill="#0e0e0e" filter="url(#b1_3)"/>
<path d="M222.7,365.6C222.9,363.9 222.9,359.4 223.9,355.5C224.8,351.7 226.3,345.9 228.2,342.4C230,338.9 232.5,336.9 234.8,334.6C237,332.2 238.8,330.3 241.6,328.1C244.3,325.9 247.1,323.6 251.5,321.4C255.8,319.2 261.9,317.1 267.4,314.9C272.9,312.6 279,310.3 284.6,308C290.2,305.7 295.7,303.3 301,300.8C306.4,298.4 312.8,295.4 316.9,293.3C320.9,291.2 320.7,289.5 325.4,288.2C330,286.9 337.2,290.8 345,285.6C352.7,280.3 361.5,264.5 371.8,256.8C382,249 394.9,244.3 406.5,238.9C418.1,233.4 429.6,228.5 441.3,224C453,219.5 464.8,216 476.6,212.1C488.3,208.1 499.8,203.8 511.5,200.1C523.2,196.5 533.9,193.9 546.6,190.2C559.2,186.6 573.9,182.3 587.3,178.3C600.7,174.3 606.2,171.5 627,166.4C647.9,161.3 694.5,151.5 712.4,147.5C730.3,143.5 730.6,143.4 734.3,142.5L735,142.5L735,365.4L222.7,365.4Z" fill="#222222" filter="url(#b1_2)"/>
<path d="M223.2,365.6C223.4,364 223.5,359.5 224.4,355.7C225.3,351.9 227,346.2 228.9,342.9C230.7,339.5 233.3,337.7 235.5,335.5C237.8,333.2 239.7,331.6 242.5,329.6C245.3,327.6 248.1,325.7 252.4,323.7C256.7,321.7 262.8,319.7 268.3,317.7C273.9,315.6 280,313.4 285.7,311.2C291.4,309 297,306.7 302.5,304.4C307.9,302.1 314.5,299.2 318.6,297.2C322.8,295.2 323.1,293.6 327.5,292.2C331.9,290.7 337.6,291.6 345,288.5C352.3,285.5 361.5,277.1 371.8,273.6C382,270.2 394.9,269.7 406.5,267.7C418.1,265.7 429.6,264 441.3,261.7C453,259.4 464.8,256.9 476.6,253.8C488.3,250.6 499.8,246.7 511.5,242.9C523.2,239 533.9,235.6 546.6,230.9C559.2,226.3 573.9,220.3 587.3,215C600.7,209.7 606.2,205.9 627,199.2C647.9,192.4 694.5,179.1 712.4,174.3C730.3,169.5 730.6,171 734.3,170.4L735,170.4L735,365.4L223.2,365.4Z" fill="#333333" filter="url(#b1_1)"/>
<path d="M223.6,365.7C223.8,364 223.9,359.5 224.9,355.8C225.8,352.1 227.6,346.5 229.5,343.3C231.4,340 234,338.4 236.3,336.4C238.6,334.3 240.5,332.7 243.3,330.9C246.1,329.1 248.8,327.3 253.1,325.6C257.4,323.8 263.6,322 269.2,320.2C274.8,318.3 281,316.4 286.8,314.4C292.6,312.4 298.3,310.2 303.9,308C309.5,305.7 316.1,303 320.4,301C324.7,299.1 325.5,297.7 329.6,296.1C333.7,294.5 337.9,294.1 345,291.5C352,288.9 361.5,283.1 371.8,280.6C382,278.1 394.9,278.2 406.5,276.6C418.1,275 429.6,273.5 441.3,271.2C453,268.8 464.8,265.9 476.6,262.7C488.3,259.5 499.8,255.6 511.5,251.8C523.2,248 533.9,244.5 546.6,239.9C559.2,235.2 573.9,229.1 587.3,224C600.7,218.9 606.2,215.2 627,209.1C647.9,203 694.5,191.5 712.4,187.2C730.3,182.9 730.6,183.9 734.3,183.3L735,183.3L735,365.4L223.6,365.4Z" fill="#4a4a4a" filter="url(#b1_0)"/>
<path d="M224.4,365.8C224.6,364.2 224.7,359.7 225.8,356.1C227,352.5 229,347.1 231.1,344.2C233.3,341.4 236.2,340.7 238.7,339.1C241.1,337.5 242.8,336.1 245.6,334.7C248.4,333.3 251,332.4 255.3,330.9C259.5,329.4 265.4,327.6 271,325.8C276.6,324 283,322.2 288.9,320.2C294.7,318.2 300.4,315.9 306.1,313.6C311.8,311.3 318.5,308.5 322.9,306.5C327.3,304.5 328.7,303.3 332.4,301.4C336.1,299.4 338.4,296.8 345,295C351.5,293.2 361.5,291.7 371.8,290.5C382,289.3 394.9,289.2 406.5,287.7C418.1,286.2 429.6,284.2 441.3,281.5C453,278.9 464.8,275.6 476.6,272.1C488.3,268.5 499.8,264.4 511.5,260.5C523.2,256.5 533.9,253 546.6,248.3C559.2,243.7 573.9,237.7 587.3,232.6C600.7,227.4 614.6,222 627,217.5C639.4,213 651.8,208.7 661.8,205.6C671.7,202.5 678.2,201.1 686.6,199C695,196.8 704.5,194.3 712.4,192.7C720.4,191.1 730.6,189.8 734.3,189.2L734.3,365.4L200,365.4Z" fill="#636363" filter="url(#b0_9)"/>
<path d="M224.4,365.8C224.6,364.2 224.7,359.7 225.8,356.1C227,352.5 229,347.1 231.1,344.2C233.3,341.4 236.2,340.7 238.7,339.1C241.1,337.5 242.8,336.1 245.6,334.7C248.4,333.3 251,332.4 255.3,330.9C259.5,329.4 265.4,327.6 271,325.8C276.6,324 283,322.2 288.9,320.2C294.7,318.2 300.4,315.9 306.1,313.6C311.8,311.3 318.5,308.5 322.9,306.5C327.3,304.5 328.7,302.7 332.4,301.4C336.1,300 338.4,298.6 345,298.5C351.5,298.3 361.5,300.4 371.8,300.5C382,300.5 394.9,300.3 406.5,298.9C418.1,297.4 429.6,294.8 441.3,291.9C453,289 464.8,285.2 476.6,281.4C488.3,277.6 499.8,273.3 511.5,269.2C523.2,265.1 533.9,261.4 546.6,256.8C559.2,252.1 573.9,246.3 587.3,241.2C600.7,236 614.6,231 627,226C639.4,221 651.8,214.7 661.8,211.1C671.7,207.4 678.2,206.3 686.6,204.1C695,202 704.5,199.7 712.4,198.2C720.4,196.7 730.6,195.7 734.3,195.2L734.3,365.4L200,365.4Z" fill="url(#hb)" filter="url(#b0_9)"/>
<g mask="url(#z226_0_248_0)">
<path d="M190,0H735V366H190Z" fill="#000000"/>
<path d="M222.2,365.5C222.4,363.8 222.4,359.3 223.3,355.4C224.2,351.5 225.7,345.7 227.5,342.1C229.3,338.5 231.9,336.3 234.1,333.8C236.3,331.3 238.1,329.3 240.8,326.9C243.6,324.6 246.4,322.1 250.7,319.6C255,317.1 261.1,314.7 266.5,312.2C272,309.6 277.8,306.9 283.3,304.4C288.8,301.8 294.2,299.4 299.4,296.8C304.7,294.3 310.9,291.2 314.9,289C318.8,286.9 318,284.8 323,283.9C328,282.9 336.8,289.2 345,283.6C353.1,277.9 361.5,259.2 371.8,249.8C382,240.4 394.9,233.9 406.5,227C418.1,220 429.6,213.6 441.3,208.1C453,202.6 464.8,198.5 476.6,194.2C488.3,189.9 499.8,185.9 511.5,182.3C523.2,178.6 533.9,175.7 546.6,172.3C559.2,169 573.9,165.7 587.3,162.4C600.7,159.1 606.2,156.9 627,152.5C647.9,148 694.5,139.2 712.4,135.6C730.3,132 730.6,131.5 734.3,130.6L735,130.6L735,365.4L222.2,365.4Z" fill="#0e0e0e" filter="url(#b2_2)"/>
<path d="M222.7,365.6C222.9,363.9 222.9,359.4 223.9,355.5C224.8,351.7 226.3,345.9 228.2,342.4C230,338.9 232.5,336.9 234.8,334.6C237,332.2 238.8,330.3 241.6,328.1C244.3,325.9 247.1,323.6 251.5,321.4C255.8,319.2 261.9,317.1 267.4,314.9C272.9,312.6 279,310.3 284.6,308C290.2,305.7 295.7,303.3 301,300.8C306.4,298.4 312.8,295.4 316.9,293.3C320.9,291.2 320.7,289.5 325.4,288.2C330,286.9 337.2,290.8 345,285.6C352.7,280.3 361.5,264.5 371.8,256.8C382,249 394.9,244.3 406.5,238.9C418.1,233.4 429.6,228.5 441.3,224C453,219.5 464.8,216 476.6,212.1C488.3,208.1 499.8,203.8 511.5,200.1C523.2,196.5 533.9,193.9 546.6,190.2C559.2,186.6 573.9,182.3 587.3,178.3C600.7,174.3 606.2,171.5 627,166.4C647.9,161.3 694.5,151.5 712.4,147.5C730.3,143.5 730.6,143.4 734.3,142.5L735,142.5L735,365.4L222.7,365.4Z" fill="#222222" filter="url(#b2_0)"/>
<path d="M223.2,365.6C223.4,364 223.5,359.5 224.4,355.7C225.3,351.9 227,346.2 228.9,342.9C230.7,339.5 233.3,337.7 235.5,335.5C237.8,333.2 239.7,331.6 242.5,329.6C245.3,327.6 248.1,325.7 252.4,323.7C256.7,321.7 262.8,319.7 268.3,317.7C273.9,315.6 280,313.4 285.7,311.2C291.4,309 297,306.7 302.5,304.4C307.9,302.1 314.5,299.2 318.6,297.2C322.8,295.2 323.1,293.6 327.5,292.2C331.9,290.7 337.6,291.6 345,288.5C352.3,285.5 361.5,277.1 371.8,273.6C382,270.2 394.9,269.7 406.5,267.7C418.1,265.7 429.6,264 441.3,261.7C453,259.4 464.8,256.9 476.6,253.8C488.3,250.6 499.8,246.7 511.5,242.9C523.2,239 533.9,235.6 546.6,230.9C559.2,226.3 573.9,220.3 587.3,215C600.7,209.7 606.2,205.9 627,199.2C647.9,192.4 694.5,179.1 712.4,174.3C730.3,169.5 730.6,171 734.3,170.4L735,170.4L735,365.4L223.2,365.4Z" fill="#333333" filter="url(#b1_8)"/>
<path d="M223.6,365.7C223.8,364 223.9,359.5 224.9,355.8C225.8,352.1 227.6,346.5 229.5,343.3C231.4,340 234,338.4 236.3,336.4C238.6,334.3 240.5,332.7 243.3,330.9C246.1,329.1 248.8,327.3 253.1,325.6C257.4,323.8 263.6,322 269.2,320.2C274.8,318.3 281,316.4 286.8,314.4C292.6,312.4 298.3,310.2 303.9,308C309.5,305.7 316.1,303 320.4,301C324.7,299.1 325.5,297.7 329.6,296.1C333.7,294.5 337.9,294.1 345,291.5C352,288.9 361.5,283.1 371.8,280.6C382,278.1 394.9,278.2 406.5,276.6C418.1,275 429.6,273.5 441.3,271.2C453,268.8 464.8,265.9 476.6,262.7C488.3,259.5 499.8,255.6 511.5,251.8C523.2,248 533.9,244.5 546.6,239.9C559.2,235.2 573.9,229.1 587.3,224C600.7,218.9 606.2,215.2 627,209.1C647.9,203 694.5,191.5 712.4,187.2C730.3,182.9 730.6,183.9 734.3,183.3L735,183.3L735,365.4L223.6,365.4Z" fill="#4a4a4a" filter="url(#b1_6)"/>
<path d="M224.4,365.8C224.6,364.2 224.7,359.7 225.8,356.1C227,352.5 229,347.1 231.1,344.2C233.3,341.4 236.2,340.7 238.7,339.1C241.1,337.5 242.8,336.1 245.6,334.7C248.4,333.3 251,332.4 255.3,330.9C259.5,329.4 265.4,327.6 271,325.8C276.6,324 283,322.2 288.9,320.2C294.7,318.2 300.4,315.9 306.1,313.6C311.8,311.3 318.5,308.5 322.9,306.5C327.3,304.5 328.7,303.3 332.4,301.4C336.1,299.4 338.4,296.8 345,295C351.5,293.2 361.5,291.7 371.8,290.5C382,289.3 394.9,289.2 406.5,287.7C418.1,286.2 429.6,284.2 441.3,281.5C453,278.9 464.8,275.6 476.6,272.1C488.3,268.5 499.8,264.4 511.5,260.5C523.2,256.5 533.9,253 546.6,248.3C559.2,243.7 573.9,237.7 587.3,232.6C600.7,227.4 614.6,222 627,217.5C639.4,213 651.8,208.7 661.8,205.6C671.7,202.5 678.2,201.1 686.6,199C695,196.8 704.5,194.3 712.4,192.7C720.4,191.1 730.6,189.8 734.3,189.2L734.3,365.4L200,365.4Z" fill="#636363" filter="url(#b2_4)"/>
<path d="M224.4,365.8C224.6,364.2 224.7,359.7 225.8,356.1C227,352.5 229,347.1 231.1,344.2C233.3,341.4 236.2,340.7 238.7,339.1C241.1,337.5 242.8,336.1 245.6,334.7C248.4,333.3 251,332.4 255.3,330.9C259.5,329.4 265.4,327.6 271,325.8C276.6,324 283,322.2 288.9,320.2C294.7,318.2 300.4,315.9 306.1,313.6C311.8,311.3 318.5,308.5 322.9,306.5C327.3,304.5 328.7,302.7 332.4,301.4C336.1,300 338.4,298.6 345,298.5C351.5,298.3 361.5,300.4 371.8,300.5C382,300.5 394.9,300.3 406.5,298.9C418.1,297.4 429.6,294.8 441.3,291.9C453,289 464.8,285.2 476.6,281.4C488.3,277.6 499.8,273.3 511.5,269.2C523.2,265.1 533.9,261.4 546.6,256.8C559.2,252.1 573.9,246.3 587.3,241.2C600.7,236 614.6,231 627,226C639.4,221 651.8,214.7 661.8,211.1C671.7,207.4 678.2,206.3 686.6,204.1C695,202 704.5,199.7 712.4,198.2C720.4,196.7 730.6,195.7 734.3,195.2L734.3,365.4L200,365.4Z" fill="url(#hb)" filter="url(#b2_4)"/>
</g>
<g mask="url(#z265_0_309_0)">
<path d="M242,0H735V366H242Z" fill="#000000"/>
<path d="M252.5,318.7C254.8,317.6 261.4,314.6 266.5,312.2C271.7,309.8 277.8,306.9 283.3,304.4C288.8,301.8 294.2,299.4 299.4,296.8C304.7,294.3 310.9,291.2 314.9,289C318.8,286.9 318,284.8 323,283.9C328,282.9 336.8,289.2 345,283.6C353.1,277.9 361.5,259.2 371.8,249.8C382,240.4 394.9,233.9 406.5,227C418.1,220 429.6,213.6 441.3,208.1C453,202.6 464.8,198.5 476.6,194.2C488.3,189.9 499.8,185.9 511.5,182.3C523.2,178.6 533.9,175.7 546.6,172.3C559.2,169 573.9,165.7 587.3,162.4C600.7,159.1 606.2,156.9 627,152.5C647.9,148 694.5,139.2 712.4,135.6C730.3,132 730.6,131.5 734.3,130.6L735,130.6L735,365.4L252.5,365.4Z" fill="#0e0e0e" filter="url(#b4_2)"/>
<path d="M252.5,321C255,320 262.1,317 267.4,314.9C272.8,312.7 279,310.3 284.6,308C290.2,305.7 295.7,303.3 301,300.8C306.4,298.4 312.8,295.4 316.9,293.3C320.9,291.2 320.7,289.5 325.4,288.2C330,286.9 337.2,290.8 345,285.6C352.7,280.3 361.5,264.5 371.8,256.8C382,249 394.9,244.3 406.5,238.9C418.1,233.4 429.6,228.5 441.3,224C453,219.5 464.8,216 476.6,212.1C488.3,208.1 499.8,203.8 511.5,200.1C523.2,196.5 533.9,193.9 546.6,190.2C559.2,186.6 573.9,182.3 587.3,178.3C600.7,174.3 606.2,171.5 627,166.4C647.9,161.3 694.5,151.5 712.4,147.5C730.3,143.5 730.6,143.4 734.3,142.5L735,142.5L735,365.4L252.5,365.4Z" fill="#222222" filter="url(#b3_8)"/>
<path d="M252.5,323.7C255.2,322.7 262.8,319.7 268.3,317.7C273.9,315.6 280,313.4 285.7,311.2C291.4,309 297,306.7 302.5,304.4C307.9,302.1 314.5,299.2 318.6,297.2C322.8,295.2 323.1,293.6 327.5,292.2C331.9,290.7 337.6,291.6 345,288.5C352.3,285.5 361.5,277.1 371.8,273.6C382,270.2 394.9,269.7 406.5,267.7C418.1,265.7 429.6,264 441.3,261.7C453,259.4 464.8,256.9 476.6,253.8C488.3,250.6 499.8,246.7 511.5,242.9C523.2,239 533.9,235.6 546.6,230.9C559.2,226.3 573.9,220.3 587.3,215C600.7,209.7 606.2,205.9 627,199.2C647.9,192.4 694.5,179.1 712.4,174.3C730.3,169.5 730.6,171 734.3,170.4L735,170.4L735,365.4L252.5,365.4Z" fill="#333333" filter="url(#b3_2)"/>
<path d="M269.2,320.2C272.1,319.2 281,316.4 286.8,314.4C292.6,312.4 298.3,310.2 303.9,308C309.5,305.7 316.1,303 320.4,301C324.7,299.1 325.5,297.7 329.6,296.1C333.7,294.5 337.9,294.1 345,291.5C352,288.9 361.5,283.1 371.8,280.6C382,278.1 394.9,278.2 406.5,276.6C418.1,275 429.6,273.5 441.3,271.2C453,268.8 464.8,265.9 476.6,262.7C488.3,259.5 499.8,255.6 511.5,251.8C523.2,248 533.9,244.5 546.6,239.9C559.2,235.2 573.9,229.1 587.3,224C600.7,218.9 606.2,215.2 627,209.1C647.9,203 694.5,191.5 712.4,187.2C730.3,182.9 730.6,183.9 734.3,183.3L735,183.3L735,365.4L252.5,365.4Z" fill="#4a4a4a" filter="url(#b2_4)"/>
<path d="M271,325.8C274,324.9 283,322.2 288.9,320.2C294.7,318.2 300.4,315.9 306.1,313.6C311.8,311.3 318.5,308.5 322.9,306.5C327.3,304.5 328.7,303.3 332.4,301.4C336.1,299.4 338.4,296.8 345,295C351.5,293.2 361.5,291.7 371.8,290.5C382,289.3 394.9,289.2 406.5,287.7C418.1,286.2 429.6,284.2 441.3,281.5C453,278.9 464.8,275.6 476.6,272.1C488.3,268.5 499.8,264.4 511.5,260.5C523.2,256.5 533.9,253 546.6,248.3C559.2,243.7 573.9,237.7 587.3,232.6C600.7,227.4 614.6,222 627,217.5C639.4,213 651.8,208.7 661.8,205.6C671.7,202.5 678.2,201.1 686.6,199C695,196.8 704.5,194.3 712.4,192.7C720.4,191.1 730.6,189.8 734.3,189.2L734.3,365.4L252.5,365.4Z" fill="#636363" filter="url(#b4_8)"/>
<path d="M271,325.8C274,324.9 283,322.2 288.9,320.2C294.7,318.2 300.4,315.9 306.1,313.6C311.8,311.3 318.5,308.5 322.9,306.5C327.3,304.5 328.7,302.7 332.4,301.4C336.1,300 338.4,298.6 345,298.5C351.5,298.3 361.5,300.4 371.8,300.5C382,300.5 394.9,300.3 406.5,298.9C418.1,297.4 429.6,294.8 441.3,291.9C453,289 464.8,285.2 476.6,281.4C488.3,277.6 499.8,273.3 511.5,269.2C523.2,265.1 533.9,261.4 546.6,256.8C559.2,252.1 573.9,246.3 587.3,241.2C600.7,236 614.6,231 627,226C639.4,221 651.8,214.7 661.8,211.1C671.7,207.4 678.2,206.3 686.6,204.1C695,202 704.5,199.7 712.4,198.2C720.4,196.7 730.6,195.7 734.3,195.2L734.3,365.4L252.5,365.4Z" fill="url(#hb)" filter="url(#b4_8)"/>
</g>
<g mask="url(#z329_0_389_0)">
<path d="M307,0H735V366H307Z" fill="#000000"/>
<path d="M317.1,287.6C318.1,287 318.4,284.5 323,283.9C327.7,283.2 336.8,289.2 345,283.6C353.1,277.9 361.5,259.2 371.8,249.8C382,240.4 394.9,233.9 406.5,227C418.1,220 429.6,213.6 441.3,208.1C453,202.6 464.8,198.5 476.6,194.2C488.3,189.9 499.8,185.9 511.5,182.3C523.2,178.6 533.9,175.7 546.6,172.3C559.2,169 573.9,165.7 587.3,162.4C600.7,159.1 606.2,156.9 627,152.5C647.9,148 694.5,139.2 712.4,135.6C730.3,132 730.6,131.5 734.3,130.6L735,130.6L735,365.4L317.1,365.4Z" fill="#0e0e0e" filter="url(#b5_0)"/>
<path d="M317.1,293.2C318.5,292.4 320.7,289.5 325.4,288.2C330,287 337.2,290.8 345,285.6C352.7,280.3 361.5,264.5 371.8,256.8C382,249 394.9,244.3 406.5,238.9C418.1,233.4 429.6,228.5 441.3,224C453,219.5 464.8,216 476.6,212.1C488.3,208.1 499.8,203.8 511.5,200.1C523.2,196.5 533.9,193.9 546.6,190.2C559.2,186.6 573.9,182.3 587.3,178.3C600.7,174.3 606.2,171.5 627,166.4C647.9,161.3 694.5,151.5 712.4,147.5C730.3,143.5 730.6,143.4 734.3,142.5L735,142.5L735,365.4L317.1,365.4Z" fill="#222222" filter="url(#b6_0)"/>
<path d="M317.1,297.9C317.3,297.8 316.9,298.1 318.6,297.2C320.4,296.2 323.1,293.6 327.5,292.2C331.9,290.7 337.6,291.6 345,288.5C352.3,285.5 361.5,277.1 371.8,273.6C382,270.2 394.9,269.7 406.5,267.7C418.1,265.7 429.6,264 441.3,261.7C453,259.4 464.8,256.9 476.6,253.8C488.3,250.6 499.8,246.7 511.5,242.9C523.2,239 533.9,235.6 546.6,230.9C559.2,226.3 573.9,220.3 587.3,215C600.7,209.7 606.2,205.9 627,199.2C647.9,192.4 694.5,179.1 712.4,174.3C730.3,169.5 730.6,171 734.3,170.4L735,170.4L735,365.4L317.1,365.4Z" fill="#333333" filter="url(#b6_0)"/>
<path d="M317.1,302.4C317.6,302.2 318.3,302.1 320.4,301C322.5,300 325.5,297.7 329.6,296.1C333.7,294.5 337.9,294.1 345,291.5C352,288.9 361.5,283.1 371.8,280.6C382,278.1 394.9,278.2 406.5,276.6C418.1,275 429.6,273.5 441.3,271.2C453,268.8 464.8,265.9 476.6,262.7C488.3,259.5 499.8,255.6 511.5,251.8C523.2,248 533.9,244.5 546.6,239.9C559.2,235.2 573.9,229.1 587.3,224C600.7,218.9 606.2,215.2 627,209.1C647.9,203 694.5,191.5 712.4,187.2C730.3,182.9 730.6,183.9 734.3,183.3L735,183.3L735,365.4L317.1,365.4Z" fill="#4a4a4a" filter="url(#b3_6)"/>
<path d="M317.1,309C318,308.6 320.4,307.8 322.9,306.5C325.5,305.2 328.7,303.3 332.4,301.4C336.1,299.4 338.4,296.8 345,295C351.5,293.2 361.5,291.7 371.8,290.5C382,289.3 394.9,289.2 406.5,287.7C418.1,286.2 429.6,284.2 441.3,281.5C453,278.9 464.8,275.6 476.6,272.1C488.3,268.5 499.8,264.4 511.5,260.5C523.2,256.5 533.9,253 546.6,248.3C559.2,243.7 573.9,237.7 587.3,232.6C600.7,227.4 614.6,222 627,217.5C639.4,213 651.8,208.7 661.8,205.6C671.7,202.5 678.2,201.1 686.6,199C695,196.8 704.5,194.3 712.4,192.7C720.4,191.1 730.6,189.8 734.3,189.2L734.3,365.4L317.1,365.4Z" fill="#636363" filter="url(#b4_0)"/>
<path d="M317.1,309C318,308.6 320.4,307.8 322.9,306.5C325.5,305.2 328.7,302.7 332.4,301.4C336.1,300 338.4,298.6 345,298.5C351.5,298.3 361.5,300.4 371.8,300.5C382,300.5 394.9,300.3 406.5,298.9C418.1,297.4 429.6,294.8 441.3,291.9C453,289 464.8,285.2 476.6,281.4C488.3,277.6 499.8,273.3 511.5,269.2C523.2,265.1 533.9,261.4 546.6,256.8C559.2,252.1 573.9,246.3 587.3,241.2C600.7,236 614.6,231 627,226C639.4,221 651.8,214.7 661.8,211.1C671.7,207.4 678.2,206.3 686.6,204.1C695,202 704.5,199.7 712.4,198.2C720.4,196.7 730.6,195.7 734.3,195.2L734.3,365.4L317.1,365.4Z" fill="url(#hb)" filter="url(#b4_0)"/>
</g>
<path d="M344.0,366.0 L344.0,310.4C344.2,309.9 340.3,306.6 345,307.4C349.6,308.3 361.5,314.4 371.8,315.5C382,316.5 394.9,315.3 406.5,313.9C418.1,312.4 429.6,309.8 441.3,306.9C453,304 464.8,300.2 476.6,296.4C488.3,292.6 499.8,288.3 511.5,284.2C523.2,280.1 533.9,276.4 546.6,271.8C559.2,267.1 573.9,261.3 587.3,256.2C600.7,251 620.4,243.5 627,241L652,286L652,366Z" fill="url(#ib)" filter="url(#b6_5)"/>
<path d="M328.1,310.4C328.3,308.6 328.4,302.7 329.6,299.5C330.7,296.2 332.8,292.7 335,291C337.3,289.4 340.7,288.8 343,289.5C345.2,290.3 347.4,292 348.4,295.5C349.4,299 348.8,307.9 348.9,310.4Z" fill="#787878" filter="url(#b2_0)"/>
<path d="M307.2,341.2 L319.1,323.3 L328.1,317.3 L328.1,341.2Z" fill="#c2c2c2" filter="url(#b3_0)"/>
<path d="M255.6,341.7 L255.6,339.4 L327.1,339.4 L327.1,341.7Z" fill="#e0e0e0" filter="url(#b0_9)"/>
<path d="M346.0,341.2 L346.0,323.3 L388.7,328.3 L448.2,334.2 L555.5,337.2 L555.5,344.2Z" fill="url(#yb)" filter="url(#b3_5)"/>
<path d="M354.9,341.7 L368.8,334.7 L388.7,341.7Z" fill="#dedede" filter="url(#b1_8)"/>
<path d="M346.0,341.7 L346.0,339.8 L438.3,339.8 L438.3,341.7Z" fill="#d9d9d9" filter="url(#b0_9)"/>
<path d="M555.5,341.2 L535.6,341.2 L547.6,317.3 L560.5,299.5Z" fill="#b8b8b8" filter="url(#b3_5)"/>
<path d="M555.5,341.2 L544.6,341.2 L551.5,319.3 L559.5,304.4Z" fill="#dbdbdb" filter="url(#b1_8)"/>
<path d="M334.4,340.8C333.8,339.4 331.7,335.5 330.6,332.2C329.4,329 328.2,324.6 327.7,321.3C327.2,318 327.2,314.6 327.5,312.4C327.7,310.2 328.4,308.3 329.3,308C330.1,307.8 331.2,310.1 332.5,310.9C333.9,311.7 335.9,312.6 337.4,312.7C339,312.7 340.6,312 341.8,311.2C343,310.4 344,307.5 344.6,308C345.1,308.5 345.4,311.8 345.3,314.4C345.1,316.9 344.5,320.2 343.6,323.3C342.6,326.4 341,330.3 339.5,333.2C338,336.1 335.3,339.5 334.4,340.8Z" fill="#454545" filter="url(#b1_6)"/>
<path d="M334.4,340.8C333.8,339.4 331.7,335.5 330.6,332.2C329.4,329 328.2,324.6 327.7,321.3C327.2,318 327.2,314.6 327.5,312.4C327.7,310.2 328.4,308.3 329.3,308C330.1,307.8 331.2,310.1 332.5,310.9C333.9,311.7 335.9,312.6 337.4,312.7C339,312.7 340.6,312 341.8,311.2C343,310.4 344,307.5 344.6,308C345.1,308.5 345.4,311.8 345.3,314.4C345.1,316.9 344.5,320.2 343.6,323.3C342.6,326.4 341,330.3 339.5,333.2C338,336.1 335.3,339.5 334.4,340.8Z" fill="#050505" filter="url(#b0_8)"/>
</g>
</g></g>
<g transform="matrix(1.0069 0 0 1.0069 808.66 -3.53)" fill="none" stroke="#0c0c10" stroke-width="1.25">
<path d="M252.1,120.1L553.7,120.1A293.3 293.3 0 0 1 714,72.4L714,202.1A163.6 163.6 0 0 0 552.4,340.5L252.1,340.5A25.2 25.2 0 0 0 252.1,390.9L552.4,390.9A163.6 163.6 0 0 0 714,529.3L714,659A293.3 293.3 0 0 1 553.7,611.3L252.1,611.3A245.6 245.6 0 0 1 252.1,120.1Z"/>
<line x1="6.5" y1="365.7" x2="226.9" y2="365.7" stroke-width="1.3"/>
</g>
<rect x="955.5" y="34.3" width="356.9" height="36.2" fill="url(#cb)"/>
<rect x="955.5" y="34.3" width="4" height="36.2" fill="#0000c8"/>
<line x1="1054" y1="34.3" x2="1054" y2="70.5" stroke="#1a1a1a" stroke-width="1.1"/>
<line x1="1150.2" y1="34.3" x2="1150.2" y2="70.5" stroke="#1a1a1a" stroke-width="1.1"/>
<line x1="1246.6" y1="34.3" x2="1246.6" y2="70.5" stroke="#1a1a1a" stroke-width="1.1"/>
<rect x="955.5" y="34.3" width="356.9" height="36.2" fill="none" stroke="#1a1a1a" stroke-width="1.2"/>
<text class="lg" x="843" y="99.4">T(K):</text>
<text class="lg" x="943.7" y="99.4">60</text>
<text class="lg" x="1013.6" y="99.4">182.727</text>
<text class="lg" x="1108.9" y="99.4">305.455</text>
<text class="lg" x="1206.3" y="99.4">428.182</text>
<text class="pl" transform="translate(811.5 29.9) scale(0.98 1.04)" x="0" y="0">(b)</text>
<text class="cap" x="1032.3" y="721.6">Case 2 vs. Benchmark</text>
<g filter="url(#cmap)">
<g transform="matrix(1.0037 0 0 1.0012 -0.82 750.16)" clip-path="url(#dom)">
<rect x="0" y="60" width="730" height="610" fill="#000"/>
<g clip-path="url(#lo)">
<path d="M200,366H735V680H-20V366Z" fill="#000000"/>
<path d="M220.6,366.1C220.9,367.8 221.1,372.4 222,376.4C223,380.4 224,385.4 226.4,390.1C228.7,394.8 232.1,400.5 235.9,404.6C239.7,408.6 243.1,411.3 249,414.3C254.8,417.3 263.7,420.2 270.9,422.6C278.1,424.9 285.2,426.1 292.1,428.4C299,430.7 302.8,432.4 312.3,436.2C321.7,440.1 335.3,445.5 348.8,451.5C362.4,457.5 377.8,466.2 393.4,472.4C409,478.6 426.1,483.3 442.5,488.6C459,493.9 474.9,498.3 492.2,504.4C509.5,510.4 533.9,520 546.3,524.8C558.7,529.7 557.8,529.3 566.6,533.5C575.3,537.8 589.8,546 598.7,550.5C607.6,555 611.3,556.9 619.8,560.4C628.3,563.9 639.2,568.1 649.6,571.7C659.9,575.3 672,579.2 681.9,582C691.8,584.8 700.7,587.1 709,588.5C717.4,589.8 728.1,589.7 731.9,589.9L735,500L735,366L200,366Z" fill="#0d0d0d" filter="url(#b1_2)"/>
<path d="M222.1,365.9C222.3,367.6 222.5,372.1 223.5,376C224.5,379.8 225.6,384.7 228,389.1C230.4,393.5 234,398.8 237.7,402.4C241.5,406 244.8,407.9 250.5,410.6C256.3,413.3 265,416.4 272.1,418.8C279.2,421.1 286.2,422.5 293.1,424.5C300,426.6 303.9,427.9 313.6,431C323.2,434 337.1,438.1 350.9,442.8C364.8,447.4 380.8,453.8 396.7,458.8C412.6,463.9 429.7,468.4 446.3,473.1C462.8,477.7 478.6,481.5 496.1,486.8C513.7,492 538.5,499.9 551.6,504.5C564.7,509.2 565.5,510 574.8,514.7C584.2,519.4 599,527.6 607.8,532.7C616.5,537.7 619.8,540.7 627.4,545C635.1,549.3 644.4,554.2 653.9,558.4C663.3,562.6 674.6,566.9 683.9,570.3C693.3,573.6 701.9,576.9 710,578.5C718.1,580.1 728.8,579.7 732.5,579.9L735,500L735,366L200,366Z" fill="#262626" filter="url(#b1_0)"/>
<path d="M223.3,365.7C223.5,367.4 223.7,371.9 224.7,375.7C225.6,379.4 226.8,384.2 229.2,388.4C231.5,392.7 235.1,397.7 238.8,401.1C242.5,404.5 245.7,406.2 251.3,408.7C257,411.3 265.7,414.3 272.8,416.6C279.8,418.8 286.8,420.2 293.7,422C300.7,423.8 304.7,424.9 314.4,427.4C324.2,429.8 338.2,433.2 352.4,436.6C366.5,440.1 383.1,444.1 399.3,448.1C415.4,452.1 432.6,456.4 449.3,460.4C466,464.4 481.4,468.2 499.4,472.1C517.3,476.1 542.9,480.5 556.9,484.2C571,487.9 573.5,489.7 583.8,494.2C594.1,498.8 609.5,506.6 618.6,511.3C627.8,515.9 631.4,518.6 638.7,522.2C645.9,525.8 653.6,529.9 662.1,532.7C670.6,535.4 680.9,537 689.5,538.5C698.1,540 706.1,540.9 713.7,541.7C721.3,542.4 731.3,542.8 734.8,543L735,500L735,366L200,366Z" fill="#454545" filter="url(#b0_8)"/>
<path d="M585,485C590,487.6 605.8,495.6 615,500.5C624.2,505.4 632,510.5 640,514.5C648,518.5 654.7,521.9 663,524.5C671.3,527.1 681.5,528.5 690,530C698.5,531.5 706.5,532.7 714,533.5C721.5,534.3 731.5,534.8 735,535L735,500L585,420Z" fill="#8f8f8f" filter="url(#b2_0)"/>
<path d="M224.6,365.7C224.8,367.3 224.9,371.8 226.1,375.2C227.2,378.6 229,383 231.7,386.1C234.3,389.3 238.4,392.1 241.8,394.1C245.2,396.1 248.7,396.9 252.1,398.3C255.5,399.7 258.4,400.9 262,402.3C265.6,403.7 268,404.8 273.4,406.6C278.8,408.4 287.4,411 294.3,413C301.2,415 305.2,416 315,418.4C324.8,420.8 338.8,424.1 353,427.2C367.2,430.3 383.8,433.8 400,437.2C416.2,440.6 433.3,444.1 450,447.6C466.7,451.1 486.7,455.2 500,458C513.3,460.8 520.4,462.3 530,464.5C539.6,466.7 548.5,468.3 557.7,471.2C566.9,474.1 577.3,478.5 585,482C592.7,485.5 597.8,488.8 604,492C610.2,495.2 616,498.2 622,501.5C628,504.8 635.3,508.8 640,511.5C644.7,514.2 648.3,516.9 650,518L700,480L700,366L200,366Z" fill="#d6d6d6" filter="url(#b0_9)"/>
<g mask="url(#z229_0_252_0)">
<path d="M200,366H735V680H-20V366Z" fill="#000000"/>
<path d="M220.6,366.1C220.9,367.8 221.1,372.4 222,376.4C223,380.4 224,385.4 226.4,390.1C228.7,394.8 232.1,400.5 235.9,404.6C239.7,408.6 243.1,411.3 249,414.3C254.8,417.3 263.7,420.2 270.9,422.6C278.1,424.9 285.2,426.1 292.1,428.4C299,430.7 302.8,432.4 312.3,436.2C321.7,440.1 335.3,445.5 348.8,451.5C362.4,457.5 377.8,466.2 393.4,472.4C409,478.6 426.1,483.3 442.5,488.6C459,493.9 474.9,498.3 492.2,504.4C509.5,510.4 533.9,520 546.3,524.8C558.7,529.7 557.8,529.3 566.6,533.5C575.3,537.8 589.8,546 598.7,550.5C607.6,555 611.3,556.9 619.8,560.4C628.3,563.9 639.2,568.1 649.6,571.7C659.9,575.3 672,579.2 681.9,582C691.8,584.8 700.7,587.1 709,588.5C717.4,589.8 728.1,589.7 731.9,589.9L735,500L735,366L200,366Z" fill="#0d0d0d" filter="url(#b2_5)"/>
<path d="M222.1,365.9C222.3,367.6 222.5,372.1 223.5,376C224.5,379.8 225.6,384.7 228,389.1C230.4,393.5 234,398.8 237.7,402.4C241.5,406 244.8,407.9 250.5,410.6C256.3,413.3 265,416.4 272.1,418.8C279.2,421.1 286.2,422.5 293.1,424.5C300,426.6 303.9,427.9 313.6,431C323.2,434 337.1,438.1 350.9,442.8C364.8,447.4 380.8,453.8 396.7,458.8C412.6,463.9 429.7,468.4 446.3,473.1C462.8,477.7 478.6,481.5 496.1,486.8C513.7,492 538.5,499.9 551.6,504.5C564.7,509.2 565.5,510 574.8,514.7C584.2,519.4 599,527.6 607.8,532.7C616.5,537.7 619.8,540.7 627.4,545C635.1,549.3 644.4,554.2 653.9,558.4C663.3,562.6 674.6,566.9 683.9,570.3C693.3,573.6 701.9,576.9 710,578.5C718.1,580.1 728.8,579.7 732.5,579.9L735,500L735,366L200,366Z" fill="#262626" filter="url(#b2_2)"/>
<path d="M223.3,365.7C223.5,367.4 223.7,371.9 224.7,375.7C225.6,379.4 226.8,384.2 229.2,388.4C231.5,392.7 235.1,397.7 238.8,401.1C242.5,404.5 245.7,406.2 251.3,408.7C257,411.3 265.7,414.3 272.8,416.6C279.8,418.8 286.8,420.2 293.7,422C300.7,423.8 304.7,424.9 314.4,427.4C324.2,429.8 338.2,433.2 352.4,436.6C366.5,440.1 383.1,444.1 399.3,448.1C415.4,452.1 432.6,456.4 449.3,460.4C466,464.4 481.4,468.2 499.4,472.1C517.3,476.1 542.9,480.5 556.9,484.2C571,487.9 573.5,489.7 583.8,494.2C594.1,498.8 609.5,506.6 618.6,511.3C627.8,515.9 631.4,518.6 638.7,522.2C645.9,525.8 653.6,529.9 662.1,532.7C670.6,535.4 680.9,537 689.5,538.5C698.1,540 706.1,540.9 713.7,541.7C721.3,542.4 731.3,542.8 734.8,543L735,500L735,366L200,366Z" fill="#454545" filter="url(#b1_8)"/>
<path d="M585,485C590,487.6 605.8,495.6 615,500.5C624.2,505.4 632,510.5 640,514.5C648,518.5 654.7,521.9 663,524.5C671.3,527.1 681.5,528.5 690,530C698.5,531.5 706.5,532.7 714,533.5C721.5,534.3 731.5,534.8 735,535L735,500L585,420Z" fill="#8f8f8f" filter="url(#b2_0)"/>
<path d="M224.6,365.7C224.8,367.3 224.9,371.8 226.1,375.2C227.2,378.6 229,383 231.7,386.1C234.3,389.3 238.4,392.1 241.8,394.1C245.2,396.1 248.7,396.9 252.1,398.3C255.5,399.7 258.4,400.9 262,402.3C265.6,403.7 268,404.8 273.4,406.6C278.8,408.4 287.4,411 294.3,413C301.2,415 305.2,416 315,418.4C324.8,420.8 338.8,424.1 353,427.2C367.2,430.3 383.8,433.8 400,437.2C416.2,440.6 433.3,444.1 450,447.6C466.7,451.1 486.7,455.2 500,458C513.3,460.8 520.4,462.3 530,464.5C539.6,466.7 548.5,468.3 557.7,471.2C566.9,474.1 577.3,478.5 585,482C592.7,485.5 597.8,488.8 604,492C610.2,495.2 616,498.2 622,501.5C628,504.8 635.3,508.8 640,511.5C644.7,514.2 648.3,516.9 650,518L700,480L700,366L200,366Z" fill="#d6d6d6" filter="url(#b2_3)"/>
</g>
<g mask="url(#z288_0_345_0)">
<path d="M270,366H735V680H270Z" fill="#000000"/>
<path d="M272.9,423.1C276.1,424 285.6,426.2 292.1,428.4C298.7,430.6 302.8,432.4 312.3,436.2C321.7,440.1 335.3,445.5 348.8,451.5C362.4,457.5 377.8,466.2 393.4,472.4C409,478.6 426.1,483.3 442.5,488.6C459,493.9 474.9,498.3 492.2,504.4C509.5,510.4 533.9,520 546.3,524.8C558.7,529.7 557.8,529.3 566.6,533.5C575.3,537.8 589.8,546 598.7,550.5C607.6,555 611.3,556.9 619.8,560.4C628.3,563.9 639.2,568.1 649.6,571.7C659.9,575.3 672,579.2 681.9,582C691.8,584.8 700.7,587.1 709,588.5C717.4,589.8 728.1,589.7 731.9,589.9L735,500L735,366L275,366Z" fill="#0d0d0d" filter="url(#b4_5)"/>
<path d="M273.9,419.2C277.1,420.1 286.5,422.6 293.1,424.5C299.7,426.5 303.9,427.9 313.6,431C323.2,434 337.1,438.1 350.9,442.8C364.8,447.4 380.8,453.8 396.7,458.8C412.6,463.9 429.7,468.4 446.3,473.1C462.8,477.7 478.6,481.5 496.1,486.8C513.7,492 538.5,499.9 551.6,504.5C564.7,509.2 565.5,510 574.8,514.7C584.2,519.4 599,527.6 607.8,532.7C616.5,537.7 619.8,540.7 627.4,545C635.1,549.3 644.4,554.2 653.9,558.4C663.3,562.6 674.6,566.9 683.9,570.3C693.3,573.6 701.9,576.9 710,578.5C718.1,580.1 728.8,579.7 732.5,579.9L735,500L735,366L275,366Z" fill="#262626" filter="url(#b4_0)"/>
<path d="M274.5,417C277.7,417.8 287.1,420.3 293.7,422C300.4,423.7 304.7,424.9 314.4,427.4C324.2,429.8 338.2,433.2 352.4,436.6C366.5,440.1 383.1,444.1 399.3,448.1C415.4,452.1 432.6,456.4 449.3,460.4C466,464.4 481.4,468.2 499.4,472.1C517.3,476.1 542.9,480.5 556.9,484.2C571,487.9 573.5,489.7 583.8,494.2C594.1,498.8 609.5,506.6 618.6,511.3C627.8,515.9 631.4,518.6 638.7,522.2C645.9,525.8 653.6,529.9 662.1,532.7C670.6,535.4 680.9,537 689.5,538.5C698.1,540 706.1,540.9 713.7,541.7C721.3,542.4 731.3,542.8 734.8,543L735,500L735,366L275,366Z" fill="#454545" filter="url(#b2_7)"/>
<path d="M585,485C590,487.6 605.8,495.6 615,500.5C624.2,505.4 632,510.5 640,514.5C648,518.5 654.7,521.9 663,524.5C671.3,527.1 681.5,528.5 690,530C698.5,531.5 706.5,532.7 714,533.5C721.5,534.3 731.5,534.8 735,535L735,500L585,420Z" fill="#8f8f8f" filter="url(#b2_2)"/>
<path d="M275,407.1C278.2,408.1 287.6,411.1 294.3,413C301,414.9 305.2,416 315,418.4C324.8,420.8 338.8,424.1 353,427.2C367.2,430.3 383.8,433.8 400,437.2C416.2,440.6 433.3,444.1 450,447.6C466.7,451.1 486.7,455.2 500,458C513.3,460.8 520.4,462.3 530,464.5C539.6,466.7 548.5,468.3 557.7,471.2C566.9,474.1 577.3,478.5 585,482C592.7,485.5 597.8,488.8 604,492C610.2,495.2 616,498.2 622,501.5C628,504.8 635.3,508.8 640,511.5C644.7,514.2 648.3,516.9 650,518L700,480L700,366L275,366Z" fill="#d6d6d6" filter="url(#b3_7)"/>
</g>
<g mask="url(#z385_0_470_0)">
<path d="M365,366H735V680H365Z" fill="#000000"/>
<path d="M365,459.1C369.7,461.3 380.5,467.5 393.4,472.4C406.3,477.3 426.1,483.3 442.5,488.6C459,493.9 474.9,498.3 492.2,504.4C509.5,510.4 533.9,520 546.3,524.8C558.7,529.7 557.8,529.3 566.6,533.5C575.3,537.8 589.8,546 598.7,550.5C607.6,555 611.3,556.9 619.8,560.4C628.3,563.9 639.2,568.1 649.6,571.7C659.9,575.3 672,579.2 681.9,582C691.8,584.8 700.7,587.1 709,588.5C717.4,589.8 728.1,589.7 731.9,589.9L735,500L735,366L370,366Z" fill="#0d0d0d" filter="url(#b7_0)"/>
<path d="M367.5,448.6C372.4,450.3 383.6,454.7 396.7,458.8C409.8,462.9 429.7,468.4 446.3,473.1C462.8,477.7 478.6,481.5 496.1,486.8C513.7,492 538.5,499.9 551.6,504.5C564.7,509.2 565.5,510 574.8,514.7C584.2,519.4 599,527.6 607.8,532.7C616.5,537.7 619.8,540.7 627.4,545C635.1,549.3 644.4,554.2 653.9,558.4C663.3,562.6 674.6,566.9 683.9,570.3C693.3,573.6 701.9,576.9 710,578.5C718.1,580.1 728.8,579.7 732.5,579.9L735,500L735,366L370,366Z" fill="#262626" filter="url(#b5_0)"/>
<path d="M369.4,440.8C374.3,442 386,444.8 399.3,448.1C412.6,451.4 432.6,456.4 449.3,460.4C466,464.4 481.4,468.2 499.4,472.1C517.3,476.1 542.9,480.5 556.9,484.2C571,487.9 573.5,489.7 583.8,494.2C594.1,498.8 609.5,506.6 618.6,511.3C627.8,515.9 631.4,518.6 638.7,522.2C645.9,525.8 653.6,529.9 662.1,532.7C670.6,535.4 680.9,537 689.5,538.5C698.1,540 706.1,540.9 713.7,541.7C721.3,542.4 731.3,542.8 734.8,543L735,500L735,366L370,366Z" fill="#454545" filter="url(#b3_5)"/>
<path d="M585,485C590,487.6 605.8,495.6 615,500.5C624.2,505.4 632,510.5 640,514.5C648,518.5 654.7,521.9 663,524.5C671.3,527.1 681.5,528.5 690,530C698.5,531.5 706.5,532.7 714,533.5C721.5,534.3 731.5,534.8 735,535L735,500L585,420Z" fill="#8f8f8f" filter="url(#b2_2)"/>
<path d="M370,430.8C375,431.9 386.7,434.4 400,437.2C413.3,440 433.3,444.1 450,447.6C466.7,451.1 486.7,455.2 500,458C513.3,460.8 520.4,462.3 530,464.5C539.6,466.7 548.5,468.3 557.7,471.2C566.9,474.1 577.3,478.5 585,482C592.7,485.5 597.8,488.8 604,492C610.2,495.2 616,498.2 622,501.5C628,504.8 635.3,508.8 640,511.5C644.7,514.2 648.3,516.9 650,518L700,480L700,366L370,366Z" fill="#d6d6d6" filter="url(#b5_2)"/>
</g>
<g mask="url(#z596_0_650_0)">
<path d="M580,366H735V680H580Z" fill="#000000"/>
<path d="M566.7,529C573.1,530.5 594.9,535.4 605,538C615.2,540.6 619.3,541.7 627.5,544.8C635.8,547.9 645.2,551.5 654.5,556.4C663.8,561.3 674.2,568.2 683.3,574.2C692.3,580.2 700.7,587.4 708.6,592.4C716.6,597.3 727.3,602 731,603.9L735,500L735,366L585,366Z" fill="#0d0d0d" filter="url(#b3_6)"/>
<path d="M574.5,513.1C580.5,515.3 601.3,522.7 610.9,526.4C620.6,530.1 624.5,531.6 632.2,535.3C639.9,539 648.2,543.5 657,548.7C665.7,553.9 675.9,560.4 684.6,566.2C693.4,572.1 701.7,579.1 709.5,583.9C717.3,588.7 727.9,593.1 731.6,594.9L735,500L735,366L585,366Z" fill="#262626" filter="url(#b2_8)"/>
<path d="M583.7,494.2C589.5,497 609.5,506.6 618.6,511.3C627.8,515.9 631.4,518.6 638.7,522.2C645.9,525.8 653.6,529.9 662.1,532.7C670.6,535.4 680.9,537 689.5,538.5C698.1,540 706.1,540.9 713.7,541.7C721.3,542.4 731.3,542.8 734.8,543L735,500L735,366L585,366Z" fill="#454545" filter="url(#b3_2)"/>
<path d="M585,485C590,487.6 605.8,495.6 615,500.5C624.2,505.4 632,510.5 640,514.5C648,518.5 654.7,521.9 663,524.5C671.3,527.1 681.5,528.5 690,530C698.5,531.5 706.5,532.7 714,533.5C721.5,534.3 731.5,534.8 735,535L735,500L585,420Z" fill="#8f8f8f" filter="url(#b2_2)"/>
<path d="M585,482C588.2,483.7 597.8,488.8 604,492C610.2,495.2 616,498.2 622,501.5C628,504.8 635.3,508.8 640,511.5C644.7,514.2 648.3,516.9 650,518L700,480L700,366L585,366Z" fill="#d6d6d6" filter="url(#b4_8)"/>
</g>
<g clip-path="url(#loin)">
<ellipse cx="511" cy="431" rx="52" ry="21" fill="#bbbbbb" transform="rotate(15 511 431)" filter="url(#b7_0)"/>
<ellipse cx="564" cy="461" rx="27" ry="10" fill="#b5b5b5" transform="rotate(30 564 461)" filter="url(#b6_0)"/>
<ellipse cx="528" cy="451" rx="46" ry="9" fill="#bebebe" transform="rotate(14 528 451)" filter="url(#b4_5)"/>
<ellipse cx="578" cy="478" rx="18" ry="7" fill="#b8b8b8" transform="rotate(32 578 478)" filter="url(#b4_0)"/>
<ellipse cx="536" cy="448" rx="22" ry="13" fill="#bababa" transform="rotate(20 536 448)" filter="url(#b6_0)"/>
<ellipse cx="520" cy="424" rx="22" ry="7" fill="#b2b2b2" transform="rotate(12 520 424)" filter="url(#b4_0)"/>
<ellipse cx="465" cy="396" rx="26" ry="5" fill="#dfdfdf" filter="url(#b4_0)"/>
<ellipse cx="340" cy="399" rx="40" ry="5" fill="#dadada" transform="rotate(8 340 399)" filter="url(#b3_0)"/>
<path d="M561.4,389.9C561.8,391.9 562.9,398 563.8,402C564.8,406 565.9,410 567.2,414C568.5,417.9 570,421.8 571.6,425.6C573.2,429.4 574.9,433.1 576.8,436.8C578.7,440.5 580.8,444.1 583,447.6C585.2,451.1 587.5,454.5 590,457.8C592.4,461.1 595,464.4 597.8,467.5C600.5,470.6 603.4,473.4 606.3,476.5C609.1,479.5 611.8,482.7 614.8,485.6C617.8,488.5 620.9,491.4 624.1,494.1C627.3,496.8 630.7,499.4 634.1,501.8C637.6,504.3 643.1,507.6 644.8,508.8L650.8,507L600,420L575,392Z" fill="#dfdfdf" filter="url(#b2_4)"/>
<ellipse cx="550.5" cy="394.5" rx="3.5" ry="5" fill="#f2f2f2" filter="url(#b1_5)"/>
</g>
<path d="M224.5,365.7C224.6,366.4 224.6,368.6 224.8,370C225.1,371.4 225.4,372.9 225.9,374.2C226.3,375.6 226.9,376.9 227.5,378.2C228.2,379.5 228.9,380.8 229.8,381.9C230.6,383.1 231.6,384.2 232.6,385.2C233.6,386.2 234.7,387.2 235.9,388C237,388.9 238.3,389.6 239.6,390.3C240.9,390.9 242.9,391.7 243.6,391.9L252.1,365.7Z" fill="#dbdbdb" filter="url(#b0_8)"/>
</g>
<g clip-path="url(#up)">
<path d="M190,0H735V366H190Z" fill="#000000"/>
<path d="M222,365.5C222.2,363.8 222.3,359.3 223.2,355.3C224.1,351.4 225.6,345.6 227.4,342C229.2,338.3 231.7,336.2 234,333.6C236.2,331.1 238.3,329.2 241.1,326.8C243.9,324.4 246.5,321.9 250.7,319.3C254.9,316.6 261,313.6 266.6,310.8C272.1,308.1 275.6,306.1 284.1,302.7C292.7,299.3 306.6,294.2 318,290.4C329.3,286.7 340.8,283.4 352.1,280.4C363.4,277.3 378,274.2 385.6,272.1C393.2,270 395.1,269.2 397.9,268C400.8,266.7 399.1,270.2 402.6,264.7C406.2,259.1 411,243.1 419.3,234.6C427.5,226 440.7,220.2 451.9,213.6C463.2,206.9 475.3,199.9 487,194.6C498.7,189.3 510.4,185.8 522.1,181.6C533.8,177.5 545.6,174.1 557.3,169.6C569,165.1 580.6,159.2 592.3,154.7C604,150.1 615.7,145.8 627.4,142.2C639.1,138.5 648.2,136.3 662.4,132.7C676.5,129.1 700.1,123.5 712.2,120.7C724.3,117.9 731.3,116.5 735.1,115.7L735,115.7L735,365.4L222,365.4Z" fill="#0e0e0e" filter="url(#b1_3)"/>
<path d="M222.5,365.6C222.7,363.9 222.8,359.4 223.7,355.5C224.6,351.6 226.2,345.8 228,342.3C229.8,338.8 232.3,336.8 234.6,334.4C236.9,332 239,330.2 241.8,328C244.7,325.8 247.3,323.5 251.6,321.1C255.8,318.6 261.9,315.8 267.5,313.3C273.1,310.8 276.6,309.2 285.2,306C293.8,302.8 307.7,297.7 319.1,294.2C330.4,290.6 341.8,287.5 353.1,284.6C364.4,281.7 378.9,278.7 386.7,276.7C394.5,274.7 396.6,273.8 399.7,272.5C402.8,271.3 401.9,273.9 405.2,268.9C408.4,263.9 411.5,250.1 419.3,242.5C427.1,235 440.7,229.2 451.9,223.6C463.2,217.9 475.3,212.9 487,208.6C498.7,204.3 510.4,201.3 522.1,197.6C533.8,193.9 545.6,190.9 557.3,186.6C569,182.3 580.6,176.3 592.3,171.6C604,167 615.7,162.5 627.4,158.6C639.1,154.8 648.2,152.3 662.4,148.7C676.5,145 700.1,139.5 712.2,136.7C724.3,133.8 731.3,132.5 735.1,131.7L735,131.7L735,365.4L222.5,365.4Z" fill="#222222" filter="url(#b1_2)"/>
<path d="M223,365.6C223.2,364 223.3,359.4 224.2,355.6C225.2,351.8 226.9,346.1 228.7,342.7C230.6,339.4 233,337.5 235.3,335.3C237.7,333.1 239.9,331.5 242.7,329.5C245.6,327.5 248.3,325.6 252.6,323.3C256.9,321.1 263,318.4 268.6,316C274.2,313.7 277.7,312.3 286.3,309.2C294.9,306.2 308.8,301.2 320.1,297.8C331.4,294.3 342.7,291.3 354,288.5C365.3,285.7 379.8,282.9 387.7,280.9C395.6,278.9 398,278 401.3,276.7C404.6,275.3 404.5,275.2 407.5,272.8C410.5,270.4 411.9,267.1 419.3,262.5C426.7,258 440.7,249.2 451.9,245.5C463.2,241.9 475.3,242.4 487,240.6C498.7,238.7 510.4,237.1 522.1,234.6C533.8,232.1 545.6,229.4 557.3,225.6C569,221.7 580.6,216.2 592.3,211.6C604,206.9 615.7,201.8 627.4,197.6C639.1,193.4 648.2,190.6 662.4,186.6C676.5,182.6 700.1,176.5 712.2,173.6C724.3,170.8 731.3,170.3 735.1,169.6L735,169.6L735,365.4L223,365.4Z" fill="#333333" filter="url(#b1_1)"/>
<path d="M223.4,365.7C223.6,364 223.7,359.5 224.7,355.8C225.7,352 227.4,346.4 229.4,343.1C231.3,339.9 233.7,338.2 236.1,336.2C238.4,334.1 240.6,332.6 243.5,330.8C246.4,328.9 249.1,327.2 253.5,325.1C257.8,323.1 263.8,320.5 269.5,318.3C275.1,316.1 278.6,314.9 287.2,312C295.8,309.1 309.8,304.3 321.1,301C332.3,297.7 343.6,294.9 354.9,292.2C366.1,289.6 380.6,286.9 388.7,285C396.7,283.1 399.4,282.2 403,280.8C406.5,279.4 407.1,278.9 409.8,276.7C412.5,274.4 412.2,271.2 419.3,267.5C426.3,263.8 440.7,257.3 451.9,254.5C463.2,251.8 475.3,252.5 487,251C498.7,249.6 510.4,248.4 522.1,246C533.8,243.7 545.6,240.9 557.3,237.1C569,233.2 580.6,227.7 592.3,223.1C604,218.4 615.7,213.2 627.4,209.1C639.1,205 648.2,202.4 662.4,198.6C676.5,194.8 700.1,188.8 712.2,186.1C724.3,183.5 731.3,183.2 735.1,182.6L735,182.6L735,365.4L223.4,365.4Z" fill="#4a4a4a" filter="url(#b1_0)"/>
<path d="M224.2,365.8C224.4,364.2 224.5,359.6 225.6,356C226.7,352.4 228.8,346.9 230.9,344.1C233,341.2 235.8,340.4 238.3,338.9C240.8,337.3 242.9,336 245.8,334.6C248.8,333.2 251.6,332.2 255.9,330.4C260.2,328.6 266.1,326 271.6,323.9C277.2,321.8 280.7,320.7 289.2,317.9C297.7,315 311.6,310.2 322.8,306.9C333.9,303.6 345.1,300.8 356.3,298.1C367.5,295.5 381.9,292.9 390,290.9C398.2,288.9 401.4,287.9 405.2,286.4C409,284.8 410.5,284.2 412.9,281.8C415.2,279.4 412.8,274.4 419.3,272C425.8,269.7 440.7,269.1 451.9,267.8C463.2,266.5 475.3,265.7 487,264.3C498.7,262.8 510.4,261.9 522.1,259.1C533.8,256.4 545.6,252.2 557.3,247.6C569,243.1 580.6,237.1 592.3,231.8C604,226.5 615.7,220.7 627.4,216C639.1,211.4 652.2,207 662.4,203.8C672.5,200.6 680,198.7 688.3,196.6C696.6,194.5 704.4,192.5 712.2,191.1C720,189.7 731.3,188.6 735.1,188.1L735.1,365.4L200,365.4Z" fill="#636363" filter="url(#b0_9)"/>
<path d="M224.2,365.8C224.4,364.2 224.5,359.6 225.6,356C226.7,352.4 228.8,346.9 230.9,344.1C233,341.2 235.8,340.4 238.3,338.9C240.8,337.3 242.9,336 245.8,334.6C248.8,333.2 251.6,332.2 255.9,330.4C260.2,328.6 266.1,326 271.6,323.9C277.2,321.8 280.7,320.7 289.2,317.9C297.7,315 311.6,310.2 322.8,306.9C333.9,303.6 345.1,300.8 356.3,298.1C367.5,295.5 381.9,292.9 390,290.9C398.2,288.9 401.4,287.9 405.2,286.4C409,284.8 410.5,283.4 412.9,281.8C415.2,280.1 412.8,276.6 419.3,276.5C425.8,276.4 440.7,280.8 451.9,281C463.2,281.2 475.3,279 487,277.5C498.7,276 510.4,275.4 522.1,272.2C533.8,269 545.6,263.5 557.3,258.2C569,253 580.6,246.4 592.3,240.6C604,234.7 615.7,228.2 627.4,223C639.1,217.7 652.2,212.6 662.4,209C672.5,205.3 680,203.2 688.3,201.1C696.6,199 704.4,197.4 712.2,196.1C720,194.9 731.3,194 735.1,193.6L735.1,365.4L200,365.4Z" fill="url(#hc)" filter="url(#b0_9)"/>
<g mask="url(#z226_0_248_0)">
<path d="M190,0H735V366H190Z" fill="#000000"/>
<path d="M222,365.5C222.2,363.8 222.3,359.3 223.2,355.3C224.1,351.4 225.6,345.6 227.4,342C229.2,338.3 231.7,336.2 234,333.6C236.2,331.1 238.3,329.2 241.1,326.8C243.9,324.4 246.5,321.9 250.7,319.3C254.9,316.6 261,313.6 266.6,310.8C272.1,308.1 275.6,306.1 284.1,302.7C292.7,299.3 306.6,294.2 318,290.4C329.3,286.7 340.8,283.4 352.1,280.4C363.4,277.3 378,274.2 385.6,272.1C393.2,270 395.1,269.2 397.9,268C400.8,266.7 399.1,270.2 402.6,264.7C406.2,259.1 411,243.1 419.3,234.6C427.5,226 440.7,220.2 451.9,213.6C463.2,206.9 475.3,199.9 487,194.6C498.7,189.3 510.4,185.8 522.1,181.6C533.8,177.5 545.6,174.1 557.3,169.6C569,165.1 580.6,159.2 592.3,154.7C604,150.1 615.7,145.8 627.4,142.2C639.1,138.5 648.2,136.3 662.4,132.7C676.5,129.1 700.1,123.5 712.2,120.7C724.3,117.9 731.3,116.5 735.1,115.7L735,115.7L735,365.4L222,365.4Z" fill="#0e0e0e" filter="url(#b2_2)"/>
<path d="M222.5,365.6C222.7,363.9 222.8,359.4 223.7,355.5C224.6,351.6 226.2,345.8 228,342.3C229.8,338.8 232.3,336.8 234.6,334.4C236.9,332 239,330.2 241.8,328C244.7,325.8 247.3,323.5 251.6,321.1C255.8,318.6 261.9,315.8 267.5,313.3C273.1,310.8 276.6,309.2 285.2,306C293.8,302.8 307.7,297.7 319.1,294.2C330.4,290.6 341.8,287.5 353.1,284.6C364.4,281.7 378.9,278.7 386.7,276.7C394.5,274.7 396.6,273.8 399.7,272.5C402.8,271.3 401.9,273.9 405.2,268.9C408.4,263.9 411.5,250.1 419.3,242.5C427.1,235 440.7,229.2 451.9,223.6C463.2,217.9 475.3,212.9 487,208.6C498.7,204.3 510.4,201.3 522.1,197.6C533.8,193.9 545.6,190.9 557.3,186.6C569,182.3 580.6,176.3 592.3,171.6C604,167 615.7,162.5 627.4,158.6C639.1,154.8 648.2,152.3 662.4,148.7C676.5,145 700.1,139.5 712.2,136.7C724.3,133.8 731.3,132.5 735.1,131.7L735,131.7L735,365.4L222.5,365.4Z" fill="#222222" filter="url(#b2_0)"/>
<path d="M223,365.6C223.2,364 223.3,359.4 224.2,355.6C225.2,351.8 226.9,346.1 228.7,342.7C230.6,339.4 233,337.5 235.3,335.3C237.7,333.1 239.9,331.5 242.7,329.5C245.6,327.5 248.3,325.6 252.6,323.3C256.9,321.1 263,318.4 268.6,316C274.2,313.7 277.7,312.3 286.3,309.2C294.9,306.2 308.8,301.2 320.1,297.8C331.4,294.3 342.7,291.3 354,288.5C365.3,285.7 379.8,282.9 387.7,280.9C395.6,278.9 398,278 401.3,276.7C404.6,275.3 404.5,275.2 407.5,272.8C410.5,270.4 411.9,267.1 419.3,262.5C426.7,258 440.7,249.2 451.9,245.5C463.2,241.9 475.3,242.4 487,240.6C498.7,238.7 510.4,237.1 522.1,234.6C533.8,232.1 545.6,229.4 557.3,225.6C569,221.7 580.6,216.2 592.3,211.6C604,206.9 615.7,201.8 627.4,197.6C639.1,193.4 648.2,190.6 662.4,186.6C676.5,182.6 700.1,176.5 712.2,173.6C724.3,170.8 731.3,170.3 735.1,169.6L735,169.6L735,365.4L223,365.4Z" fill="#333333" filter="url(#b1_8)"/>
<path d="M223.4,365.7C223.6,364 223.7,359.5 224.7,355.8C225.7,352 227.4,346.4 229.4,343.1C231.3,339.9 233.7,338.2 236.1,336.2C238.4,334.1 240.6,332.6 243.5,330.8C246.4,328.9 249.1,327.2 253.5,325.1C257.8,323.1 263.8,320.5 269.5,318.3C275.1,316.1 278.6,314.9 287.2,312C295.8,309.1 309.8,304.3 321.1,301C332.3,297.7 343.6,294.9 354.9,292.2C366.1,289.6 380.6,286.9 388.7,285C396.7,283.1 399.4,282.2 403,280.8C406.5,279.4 407.1,278.9 409.8,276.7C412.5,274.4 412.2,271.2 419.3,267.5C426.3,263.8 440.7,257.3 451.9,254.5C463.2,251.8 475.3,252.5 487,251C498.7,249.6 510.4,248.4 522.1,246C533.8,243.7 545.6,240.9 557.3,237.1C569,233.2 580.6,227.7 592.3,223.1C604,218.4 615.7,213.2 627.4,209.1C639.1,205 648.2,202.4 662.4,198.6C676.5,194.8 700.1,188.8 712.2,186.1C724.3,183.5 731.3,183.2 735.1,182.6L735,182.6L735,365.4L223.4,365.4Z" fill="#4a4a4a" filter="url(#b1_6)"/>
<path d="M224.2,365.8C224.4,364.2 224.5,359.6 225.6,356C226.7,352.4 228.8,346.9 230.9,344.1C233,341.2 235.8,340.4 238.3,338.9C240.8,337.3 242.9,336 245.8,334.6C248.8,333.2 251.6,332.2 255.9,330.4C260.2,328.6 266.1,326 271.6,323.9C277.2,321.8 280.7,320.7 289.2,317.9C297.7,315 311.6,310.2 322.8,306.9C333.9,303.6 345.1,300.8 356.3,298.1C367.5,295.5 381.9,292.9 390,290.9C398.2,288.9 401.4,287.9 405.2,286.4C409,284.8 410.5,284.2 412.9,281.8C415.2,279.4 412.8,274.4 419.3,272C425.8,269.7 440.7,269.1 451.9,267.8C463.2,266.5 475.3,265.7 487,264.3C498.7,262.8 510.4,261.9 522.1,259.1C533.8,256.4 545.6,252.2 557.3,247.6C569,243.1 580.6,237.1 592.3,231.8C604,226.5 615.7,220.7 627.4,216C639.1,211.4 652.2,207 662.4,203.8C672.5,200.6 680,198.7 688.3,196.6C696.6,194.5 704.4,192.5 712.2,191.1C720,189.7 731.3,188.6 735.1,188.1L735.1,365.4L200,365.4Z" fill="#636363" filter="url(#b2_4)"/>
<path d="M224.2,365.8C224.4,364.2 224.5,359.6 225.6,356C226.7,352.4 228.8,346.9 230.9,344.1C233,341.2 235.8,340.4 238.3,338.9C240.8,337.3 242.9,336 245.8,334.6C248.8,333.2 251.6,332.2 255.9,330.4C260.2,328.6 266.1,326 271.6,323.9C277.2,321.8 280.7,320.7 289.2,317.9C297.7,315 311.6,310.2 322.8,306.9C333.9,303.6 345.1,300.8 356.3,298.1C367.5,295.5 381.9,292.9 390,290.9C398.2,288.9 401.4,287.9 405.2,286.4C409,284.8 410.5,283.4 412.9,281.8C415.2,280.1 412.8,276.6 419.3,276.5C425.8,276.4 440.7,280.8 451.9,281C463.2,281.2 475.3,279 487,277.5C498.7,276 510.4,275.4 522.1,272.2C533.8,269 545.6,263.5 557.3,258.2C569,253 580.6,246.4 592.3,240.6C604,234.7 615.7,228.2 627.4,223C639.1,217.7 652.2,212.6 662.4,209C672.5,205.3 680,203.2 688.3,201.1C696.6,199 704.4,197.4 712.2,196.1C720,194.9 731.3,194 735.1,193.6L735.1,365.4L200,365.4Z" fill="url(#hc)" filter="url(#b2_4)"/>
</g>
<g mask="url(#z265_0_315_0)">
<path d="M242,0H735V366H242Z" fill="#000000"/>
<path d="M252.8,318.1C255.1,316.9 261.3,313.4 266.6,310.8C271.8,308.3 275.6,306.1 284.1,302.7C292.7,299.3 306.6,294.2 318,290.4C329.3,286.7 340.8,283.4 352.1,280.4C363.4,277.3 378,274.2 385.6,272.1C393.2,270 395.1,269.2 397.9,268C400.8,266.7 399.1,270.2 402.6,264.7C406.2,259.1 411,243.1 419.3,234.6C427.5,226 440.7,220.2 451.9,213.6C463.2,206.9 475.3,199.9 487,194.6C498.7,189.3 510.4,185.8 522.1,181.6C533.8,177.5 545.6,174.1 557.3,169.6C569,165.1 580.6,159.2 592.3,154.7C604,150.1 615.7,145.8 627.4,142.2C639.1,138.5 648.2,136.3 662.4,132.7C676.5,129.1 700.1,123.5 712.2,120.7C724.3,117.9 731.3,116.5 735.1,115.7L735,115.7L735,365.4L252.8,365.4Z" fill="#0e0e0e" filter="url(#b4_5)"/>
<path d="M252.8,320.4C255.3,319.3 262.1,315.7 267.5,313.3C272.9,310.9 276.6,309.2 285.2,306C293.8,302.8 307.7,297.7 319.1,294.2C330.4,290.6 341.8,287.5 353.1,284.6C364.4,281.7 378.9,278.7 386.7,276.7C394.5,274.7 396.6,273.8 399.7,272.5C402.8,271.3 401.9,273.9 405.2,268.9C408.4,263.9 411.5,250.1 419.3,242.5C427.1,235 440.7,229.2 451.9,223.6C463.2,217.9 475.3,212.9 487,208.6C498.7,204.3 510.4,201.3 522.1,197.6C533.8,193.9 545.6,190.9 557.3,186.6C569,182.3 580.6,176.3 592.3,171.6C604,167 615.7,162.5 627.4,158.6C639.1,154.8 648.2,152.3 662.4,148.7C676.5,145 700.1,139.5 712.2,136.7C724.3,133.8 731.3,132.5 735.1,131.7L735,131.7L735,365.4L252.8,365.4Z" fill="#222222" filter="url(#b4_0)"/>
<path d="M252.8,323.2C255.5,322 263,318.4 268.6,316C274.2,313.7 277.7,312.3 286.3,309.2C294.9,306.2 308.8,301.2 320.1,297.8C331.4,294.3 342.7,291.3 354,288.5C365.3,285.7 379.8,282.9 387.7,280.9C395.6,278.9 398,278 401.3,276.7C404.6,275.3 404.5,275.2 407.5,272.8C410.5,270.4 411.9,267.1 419.3,262.5C426.7,258 440.7,249.2 451.9,245.5C463.2,241.9 475.3,242.4 487,240.6C498.7,238.7 510.4,237.1 522.1,234.6C533.8,232.1 545.6,229.4 557.3,225.6C569,221.7 580.6,216.2 592.3,211.6C604,206.9 615.7,201.8 627.4,197.6C639.1,193.4 648.2,190.6 662.4,186.6C676.5,182.6 700.1,176.5 712.2,173.6C724.3,170.8 731.3,170.3 735.1,169.6L735,169.6L735,365.4L252.8,365.4Z" fill="#333333" filter="url(#b3_4)"/>
<path d="M269.5,318.3C272.4,317.3 278.6,314.9 287.2,312C295.8,309.1 309.8,304.3 321.1,301C332.3,297.7 343.6,294.9 354.9,292.2C366.1,289.6 380.6,286.9 388.7,285C396.7,283.1 399.4,282.2 403,280.8C406.5,279.4 407.1,278.9 409.8,276.7C412.5,274.4 412.2,271.2 419.3,267.5C426.3,263.8 440.7,257.3 451.9,254.5C463.2,251.8 475.3,252.5 487,251C498.7,249.6 510.4,248.4 522.1,246C533.8,243.7 545.6,240.9 557.3,237.1C569,233.2 580.6,227.7 592.3,223.1C604,218.4 615.7,213.2 627.4,209.1C639.1,205 648.2,202.4 662.4,198.6C676.5,194.8 700.1,188.8 712.2,186.1C724.3,183.5 731.3,183.2 735.1,182.6L735,182.6L735,365.4L252.8,365.4Z" fill="#4a4a4a" filter="url(#b2_6)"/>
<path d="M271.6,323.9C274.5,322.9 280.7,320.7 289.2,317.9C297.7,315 311.6,310.2 322.8,306.9C333.9,303.6 345.1,300.8 356.3,298.1C367.5,295.5 381.9,292.9 390,290.9C398.2,288.9 401.4,287.9 405.2,286.4C409,284.8 410.5,284.2 412.9,281.8C415.2,279.4 412.8,274.4 419.3,272C425.8,269.7 440.7,269.1 451.9,267.8C463.2,266.5 475.3,265.7 487,264.3C498.7,262.8 510.4,261.9 522.1,259.1C533.8,256.4 545.6,252.2 557.3,247.6C569,243.1 580.6,237.1 592.3,231.8C604,226.5 615.7,220.7 627.4,216C639.1,211.4 652.2,207 662.4,203.8C672.5,200.6 680,198.7 688.3,196.6C696.6,194.5 704.4,192.5 712.2,191.1C720,189.7 731.3,188.6 735.1,188.1L735.1,365.4L252.8,365.4Z" fill="#636363" filter="url(#b5_0)"/>
<path d="M271.6,323.9C274.5,322.9 280.7,320.7 289.2,317.9C297.7,315 311.6,310.2 322.8,306.9C333.9,303.6 345.1,300.8 356.3,298.1C367.5,295.5 381.9,292.9 390,290.9C398.2,288.9 401.4,287.9 405.2,286.4C409,284.8 410.5,283.4 412.9,281.8C415.2,280.1 412.8,276.6 419.3,276.5C425.8,276.4 440.7,280.8 451.9,281C463.2,281.2 475.3,279 487,277.5C498.7,276 510.4,275.4 522.1,272.2C533.8,269 545.6,263.5 557.3,258.2C569,253 580.6,246.4 592.3,240.6C604,234.7 615.7,228.2 627.4,223C639.1,217.7 652.2,212.6 662.4,209C672.5,205.3 680,203.2 688.3,201.1C696.6,199 704.4,197.4 712.2,196.1C720,194.9 731.3,194 735.1,193.6L735.1,365.4L252.8,365.4Z" fill="url(#hc)" filter="url(#b5_0)"/>
</g>
<g mask="url(#z409_0_469_0)">
<path d="M387,0H735V366H387Z" fill="#000000"/>
<path d="M397.3,268.2C397.4,268.2 397,268.6 397.9,268C398.8,267.4 399.1,270.2 402.6,264.7C406.2,259.1 411,243.1 419.3,234.6C427.5,226 440.7,220.2 451.9,213.6C463.2,206.9 475.3,199.9 487,194.6C498.7,189.3 510.4,185.8 522.1,181.6C533.8,177.5 545.6,174.1 557.3,169.6C569,165.1 580.6,159.2 592.3,154.7C604,150.1 615.7,145.8 627.4,142.2C639.1,138.5 648.2,136.3 662.4,132.7C676.5,129.1 700.1,123.5 712.2,120.7C724.3,117.9 731.3,116.5 735.1,115.7L735,115.7L735,365.4L397.3,365.4Z" fill="#0e0e0e" filter="url(#b5_0)"/>
<path d="M397.3,273.3C397.7,273.2 398.4,273.3 399.7,272.5C401,271.8 401.9,273.9 405.2,268.9C408.4,263.9 411.5,250.1 419.3,242.5C427.1,235 440.7,229.2 451.9,223.6C463.2,217.9 475.3,212.9 487,208.6C498.7,204.3 510.4,201.3 522.1,197.6C533.8,193.9 545.6,190.9 557.3,186.6C569,182.3 580.6,176.3 592.3,171.6C604,167 615.7,162.5 627.4,158.6C639.1,154.8 648.2,152.3 662.4,148.7C676.5,145 700.1,139.5 712.2,136.7C724.3,133.8 731.3,132.5 735.1,131.7L735,131.7L735,365.4L397.3,365.4Z" fill="#222222" filter="url(#b6_0)"/>
<path d="M397.3,277.9C398,277.7 399.6,277.5 401.3,276.7C403,275.8 404.5,275.2 407.5,272.8C410.5,270.4 411.9,267.1 419.3,262.5C426.7,258 440.7,249.2 451.9,245.5C463.2,241.9 475.3,242.4 487,240.6C498.7,238.7 510.4,237.1 522.1,234.6C533.8,232.1 545.6,229.4 557.3,225.6C569,221.7 580.6,216.2 592.3,211.6C604,206.9 615.7,201.8 627.4,197.6C639.1,193.4 648.2,190.6 662.4,186.6C676.5,182.6 700.1,176.5 712.2,173.6C724.3,170.8 731.3,170.3 735.1,169.6L735,169.6L735,365.4L397.3,365.4Z" fill="#333333" filter="url(#b6_0)"/>
<path d="M397.3,282.5C398.2,282.2 400.9,281.7 403,280.8C405,279.8 407.1,278.9 409.8,276.7C412.5,274.4 412.2,271.2 419.3,267.5C426.3,263.8 440.7,257.3 451.9,254.5C463.2,251.8 475.3,252.5 487,251C498.7,249.6 510.4,248.4 522.1,246C533.8,243.7 545.6,240.9 557.3,237.1C569,233.2 580.6,227.7 592.3,223.1C604,218.4 615.7,213.2 627.4,209.1C639.1,205 648.2,202.4 662.4,198.6C676.5,194.8 700.1,188.8 712.2,186.1C724.3,183.5 731.3,183.2 735.1,182.6L735,182.6L735,365.4L397.3,365.4Z" fill="#4a4a4a" filter="url(#b3_6)"/>
<path d="M397.3,288.7C398.6,288.3 402.6,287.5 405.2,286.4C407.8,285.2 410.5,284.2 412.9,281.8C415.2,279.4 412.8,274.4 419.3,272C425.8,269.7 440.7,269.1 451.9,267.8C463.2,266.5 475.3,265.7 487,264.3C498.7,262.8 510.4,261.9 522.1,259.1C533.8,256.4 545.6,252.2 557.3,247.6C569,243.1 580.6,237.1 592.3,231.8C604,226.5 615.7,220.7 627.4,216C639.1,211.4 652.2,207 662.4,203.8C672.5,200.6 680,198.7 688.3,196.6C696.6,194.5 704.4,192.5 712.2,191.1C720,189.7 731.3,188.6 735.1,188.1L735.1,365.4L397.3,365.4Z" fill="#636363" filter="url(#b4_0)"/>
<path d="M397.3,288.7C398.6,288.3 402.6,287.5 405.2,286.4C407.8,285.2 410.5,283.4 412.9,281.8C415.2,280.1 412.8,276.6 419.3,276.5C425.8,276.4 440.7,280.8 451.9,281C463.2,281.2 475.3,279 487,277.5C498.7,276 510.4,275.4 522.1,272.2C533.8,269 545.6,263.5 557.3,258.2C569,253 580.6,246.4 592.3,240.6C604,234.7 615.7,228.2 627.4,223C639.1,217.7 652.2,212.6 662.4,209C672.5,205.3 680,203.2 688.3,201.1C696.6,199 704.4,197.4 712.2,196.1C720,194.9 731.3,194 735.1,193.6L735.1,365.4L397.3,365.4Z" fill="url(#hc)" filter="url(#b4_0)"/>
</g>
<path d="M425.3,366.0 L425.3,297.0C429.7,296.5 441.7,295.1 451.9,294C462.2,292.9 475.3,292 487,290.5C498.7,289 510.4,288.4 522.1,285.2C533.8,282 545.6,276.5 557.3,271.2C569,266 580.6,259.4 592.3,253.6C604,247.7 621.6,238.9 627.4,236L652.4,281L652.4,366Z" fill="url(#ic)" filter="url(#b6_5)"/>
<path d="M289.7,341.4 L334.6,326.4 L379.4,316.5 L406.3,311.5 L406.3,341.4Z" fill="#bfbfbf" filter="url(#b4_0)"/>
<path d="M255.9,341.0 L255.9,338.8 L407.3,338.8 L407.3,341.0Z" fill="#e0e0e0" filter="url(#b0_9)"/>
<path d="M409.3,305.5C409.4,302.8 409.1,294.2 409.8,289.5C410.5,284.8 411.5,280.1 413.3,277.5C415,274.9 418.3,273.7 420.3,274C422.3,274.3 424.3,274.3 425.2,279.5C426.2,284.7 426.1,301.1 426.2,305.5Z" fill="#787878" filter="url(#b2_0)"/>
<path d="M425.2,341.4 L425.2,289.5 L439.2,295.5 L451.2,317.5 L469.1,341.4Z" fill="#bababa" filter="url(#b3_5)"/>
<path d="M427.2,341.4 L427.2,331.4 L469.1,334.4 L518.9,337.4 L554.8,337.9 L554.8,343.4Z" fill="url(#yc)" filter="url(#b2_6)"/>
<path d="M451.2,341.4 L467.1,334.9 L485.0,341.4Z" fill="#dbdbdb" filter="url(#b1_6)"/>
<path d="M553.8,340.9 L532.8,340.9 L544.8,317.5 L558.8,297.5Z" fill="#b8b8b8" filter="url(#b3_5)"/>
<path d="M553.8,340.9 L541.8,340.9 L548.8,319.5 L557.8,303.5Z" fill="#dbdbdb" filter="url(#b1_8)"/>
<path d="M415.9,340.6C415.2,339.1 413.1,335 411.8,331.4C410.5,327.9 408.7,323.1 407.9,319.5C407.2,315.8 407,312.4 407.3,309.5C407.6,306.6 408.8,302.6 409.8,302C410.8,301.3 411.9,304.6 413.1,305.5C414.3,306.4 415.6,307.5 416.8,307.5C418,307.5 419.2,306.5 420.3,305.5C421.3,304.5 422.3,300.8 423.3,301.5C424.2,302.1 425.5,306.5 425.8,309.5C426.1,312.5 425.9,315.8 425,319.5C424.2,323.1 422.3,327.9 420.8,331.4C419.2,335 416.7,339.1 415.9,340.6Z" fill="#454545" filter="url(#b1_6)"/>
<path d="M415.9,340.6C415.2,339.1 413.1,335 411.8,331.4C410.5,327.9 408.7,323.1 407.9,319.5C407.2,315.8 407,312.4 407.3,309.5C407.6,306.6 408.8,302.6 409.8,302C410.8,301.3 411.9,304.6 413.1,305.5C414.3,306.4 415.6,307.5 416.8,307.5C418,307.5 419.2,306.5 420.3,305.5C421.3,304.5 422.3,300.8 423.3,301.5C424.2,302.1 425.5,306.5 425.8,309.5C426.1,312.5 425.9,315.8 425,319.5C424.2,323.1 422.3,327.9 420.8,331.4C419.2,335 416.7,339.1 415.9,340.6Z" fill="#050505" filter="url(#b0_8)"/>
</g>
</g></g>
<g transform="matrix(1.0037 0 0 1.0012 -0.82 750.16)" fill="none" stroke="#0c0c10" stroke-width="1.25">
<path d="M252.1,120.1L553.7,120.1A293.3 293.3 0 0 1 714,72.4L714,202.1A163.6 163.6 0 0 0 552.4,340.5L252.1,340.5A25.2 25.2 0 0 0 252.1,390.9L552.4,390.9A163.6 163.6 0 0 0 714,529.3L714,659A293.3 293.3 0 0 1 553.7,611.3L252.1,611.3A245.6 245.6 0 0 1 252.1,120.1Z"/>
<line x1="6.5" y1="365.7" x2="226.9" y2="365.7" stroke-width="1.3"/>
</g>
<rect x="174" y="784" width="355.7" height="37.5" fill="url(#cb)"/>
<rect x="174" y="784" width="4" height="37.5" fill="#0000c8"/>
<line x1="272.1" y1="784" x2="272.1" y2="821.5" stroke="#1a1a1a" stroke-width="1.1"/>
<line x1="368.1" y1="784" x2="368.1" y2="821.5" stroke="#1a1a1a" stroke-width="1.1"/>
<line x1="464.1" y1="784" x2="464.1" y2="821.5" stroke="#1a1a1a" stroke-width="1.1"/>
<rect x="174" y="784" width="355.7" height="37.5" fill="none" stroke="#1a1a1a" stroke-width="1.2"/>
<text class="lg" x="62" y="851.1">T(K):</text>
<text class="lg" x="163.7" y="851.1">60</text>
<text class="lg" x="232.3" y="851.1">182.727</text>
<text class="lg" x="326.7" y="851.1">305.455</text>
<text class="lg" x="423.2" y="851.1">428.182</text>
<text class="pl" transform="translate(5.5 779.7) scale(0.98 1.04)" x="0" y="0">(c)</text>
<text class="cap" x="223.6" y="1470.3">Case 3 vs. Benchmark</text>
<g filter="url(#cmap)">
<g transform="matrix(1.0096 0 0 1.0062 806.24 746.85)" clip-path="url(#dom)">
<rect x="0" y="60" width="730" height="610" fill="#000"/>
<g clip-path="url(#lo)">
<path d="M200,366H735V680H-20V366Z" fill="#000000"/>
<path d="M220.6,366.1C220.9,367.8 221.1,372.4 222,376.4C223,380.4 224,385.4 226.4,390.1C228.7,394.8 232.1,400.5 235.9,404.6C239.7,408.6 243.1,411.3 249,414.3C254.8,417.3 263.7,420.2 270.9,422.6C278.1,424.9 285.2,426.1 292.1,428.4C299,430.7 302.8,432.4 312.3,436.2C321.7,440.1 335.3,445.5 348.8,451.5C362.4,457.5 377.8,466.2 393.4,472.4C409,478.6 426.1,483.3 442.5,488.6C459,493.9 474.9,498.3 492.2,504.4C509.5,510.4 533.9,520 546.3,524.8C558.7,529.7 557.8,529.3 566.6,533.5C575.3,537.8 589.8,546 598.7,550.5C607.6,555 611.3,556.9 619.8,560.4C628.3,563.9 639.2,568.1 649.6,571.7C659.9,575.3 672,579.2 681.9,582C691.8,584.8 700.7,587.1 709,588.5C717.4,589.8 728.1,589.7 731.9,589.9L735,500L735,366L200,366Z" fill="#0d0d0d" filter="url(#b1_2)"/>
<path d="M222.1,365.9C222.3,367.6 222.5,372.1 223.5,376C224.5,379.8 225.6,384.7 228,389.1C230.4,393.5 234,398.8 237.7,402.4C241.5,406 244.8,407.9 250.5,410.6C256.3,413.3 265,416.4 272.1,418.8C279.2,421.1 286.2,422.5 293.1,424.5C300,426.6 303.9,427.9 313.6,431C323.2,434 337.1,438.1 350.9,442.8C364.8,447.4 380.8,453.8 396.7,458.8C412.6,463.9 429.7,468.4 446.3,473.1C462.8,477.7 478.6,481.5 496.1,486.8C513.7,492 538.5,499.9 551.6,504.5C564.7,509.2 565.5,510 574.8,514.7C584.2,519.4 599,527.6 607.8,532.7C616.5,537.7 619.8,540.7 627.4,545C635.1,549.3 644.4,554.2 653.9,558.4C663.3,562.6 674.6,566.9 683.9,570.3C693.3,573.6 701.9,576.9 710,578.5C718.1,580.1 728.8,579.7 732.5,579.9L735,500L735,366L200,366Z" fill="#262626" filter="url(#b1_0)"/>
<path d="M223.3,365.7C223.5,367.4 223.7,371.9 224.7,375.7C225.6,379.4 226.8,384.2 229.2,388.4C231.5,392.7 235.1,397.7 238.8,401.1C242.5,404.5 245.7,406.2 251.3,408.7C257,411.3 265.7,414.3 272.8,416.6C279.8,418.8 286.8,420.2 293.7,422C300.7,423.8 304.7,424.9 314.4,427.4C324.2,429.8 338.2,433.2 352.4,436.6C366.5,440.1 383.1,444.1 399.3,448.1C415.4,452.1 432.6,456.4 449.3,460.4C466,464.4 481.4,468.2 499.4,472.1C517.3,476.1 542.9,480.5 556.9,484.2C571,487.9 573.5,489.7 583.8,494.2C594.1,498.8 609.5,506.6 618.6,511.3C627.8,515.9 631.4,518.6 638.7,522.2C645.9,525.8 653.6,529.9 662.1,532.7C670.6,535.4 680.9,537 689.5,538.5C698.1,540 706.1,540.9 713.7,541.7C721.3,542.4 731.3,542.8 734.8,543L735,500L735,366L200,366Z" fill="#454545" filter="url(#b0_8)"/>
<path d="M585,485C590,487.6 605.8,495.6 615,500.5C624.2,505.4 632,510.5 640,514.5C648,518.5 654.7,521.9 663,524.5C671.3,527.1 681.5,528.5 690,530C698.5,531.5 706.5,532.7 714,533.5C721.5,534.3 731.5,534.8 735,535L735,500L585,420Z" fill="#8f8f8f" filter="url(#b2_0)"/>
<path d="M224.6,365.7C224.8,367.3 224.9,371.8 226.1,375.2C227.2,378.6 229,383 231.7,386.1C234.3,389.3 238.4,392.1 241.8,394.1C245.2,396.1 248.7,396.9 252.1,398.3C255.5,399.7 258.4,400.9 262,402.3C265.6,403.7 268,404.8 273.4,406.6C278.8,408.4 287.4,411 294.3,413C301.2,415 305.2,416 315,418.4C324.8,420.8 338.8,424.1 353,427.2C367.2,430.3 383.8,433.8 400,437.2C416.2,440.6 433.3,444.1 450,447.6C466.7,451.1 486.7,455.2 500,458C513.3,460.8 520.4,462.3 530,464.5C539.6,466.7 548.5,468.3 557.7,471.2C566.9,474.1 577.3,478.5 585,482C592.7,485.5 597.8,488.8 604,492C610.2,495.2 616,498.2 622,501.5C628,504.8 635.3,508.8 640,511.5C644.7,514.2 648.3,516.9 650,518L700,480L700,366L200,366Z" fill="#d6d6d6" filter="url(#b0_9)"/>
<g mask="url(#z229_0_252_0)">
<path d="M200,366H735V680H-20V366Z" fill="#000000"/>
<path d="M220.6,366.1C220.9,367.8 221.1,372.4 222,376.4C223,380.4 224,385.4 226.4,390.1C228.7,394.8 232.1,400.5 235.9,404.6C239.7,408.6 243.1,411.3 249,414.3C254.8,417.3 263.7,420.2 270.9,422.6C278.1,424.9 285.2,426.1 292.1,428.4C299,430.7 302.8,432.4 312.3,436.2C321.7,440.1 335.3,445.5 348.8,451.5C362.4,457.5 377.8,466.2 393.4,472.4C409,478.6 426.1,483.3 442.5,488.6C459,493.9 474.9,498.3 492.2,504.4C509.5,510.4 533.9,520 546.3,524.8C558.7,529.7 557.8,529.3 566.6,533.5C575.3,537.8 589.8,546 598.7,550.5C607.6,555 611.3,556.9 619.8,560.4C628.3,563.9 639.2,568.1 649.6,571.7C659.9,575.3 672,579.2 681.9,582C691.8,584.8 700.7,587.1 709,588.5C717.4,589.8 728.1,589.7 731.9,589.9L735,500L735,366L200,366Z" fill="#0d0d0d" filter="url(#b2_5)"/>
<path d="M222.1,365.9C222.3,367.6 222.5,372.1 223.5,376C224.5,379.8 225.6,384.7 228,389.1C230.4,393.5 234,398.8 237.7,402.4C241.5,406 244.8,407.9 250.5,410.6C256.3,413.3 265,416.4 272.1,418.8C279.2,421.1 286.2,422.5 293.1,424.5C300,426.6 303.9,427.9 313.6,431C323.2,434 337.1,438.1 350.9,442.8C364.8,447.4 380.8,453.8 396.7,458.8C412.6,463.9 429.7,468.4 446.3,473.1C462.8,477.7 478.6,481.5 496.1,486.8C513.7,492 538.5,499.9 551.6,504.5C564.7,509.2 565.5,510 574.8,514.7C584.2,519.4 599,527.6 607.8,532.7C616.5,537.7 619.8,540.7 627.4,545C635.1,549.3 644.4,554.2 653.9,558.4C663.3,562.6 674.6,566.9 683.9,570.3C693.3,573.6 701.9,576.9 710,578.5C718.1,580.1 728.8,579.7 732.5,579.9L735,500L735,366L200,366Z" fill="#262626" filter="url(#b2_2)"/>
<path d="M223.3,365.7C223.5,367.4 223.7,371.9 224.7,375.7C225.6,379.4 226.8,384.2 229.2,388.4C231.5,392.7 235.1,397.7 238.8,401.1C242.5,404.5 245.7,406.2 251.3,408.7C257,411.3 265.7,414.3 272.8,416.6C279.8,418.8 286.8,420.2 293.7,422C300.7,423.8 304.7,424.9 314.4,427.4C324.2,429.8 338.2,433.2 352.4,436.6C366.5,440.1 383.1,444.1 399.3,448.1C415.4,452.1 432.6,456.4 449.3,460.4C466,464.4 481.4,468.2 499.4,472.1C517.3,476.1 542.9,480.5 556.9,484.2C571,487.9 573.5,489.7 583.8,494.2C594.1,498.8 609.5,506.6 618.6,511.3C627.8,515.9 631.4,518.6 638.7,522.2C645.9,525.8 653.6,529.9 662.1,532.7C670.6,535.4 680.9,537 689.5,538.5C698.1,540 706.1,540.9 713.7,541.7C721.3,542.4 731.3,542.8 734.8,543L735,500L735,366L200,366Z" fill="#454545" filter="url(#b1_8)"/>
<path d="M585,485C590,487.6 605.8,495.6 615,500.5C624.2,505.4 632,510.5 640,514.5C648,518.5 654.7,521.9 663,524.5C671.3,527.1 681.5,528.5 690,530C698.5,531.5 706.5,532.7 714,533.5C721.5,534.3 731.5,534.8 735,535L735,500L585,420Z" fill="#8f8f8f" filter="url(#b2_0)"/>
<path d="M224.6,365.7C224.8,367.3 224.9,371.8 226.1,375.2C227.2,378.6 229,383 231.7,386.1C234.3,389.3 238.4,392.1 241.8,394.1C245.2,396.1 248.7,396.9 252.1,398.3C255.5,399.7 258.4,400.9 262,402.3C265.6,403.7 268,404.8 273.4,406.6C278.8,408.4 287.4,411 294.3,413C301.2,415 305.2,416 315,418.4C324.8,420.8 338.8,424.1 353,427.2C367.2,430.3 383.8,433.8 400,437.2C416.2,440.6 433.3,444.1 450,447.6C466.7,451.1 486.7,455.2 500,458C513.3,460.8 520.4,462.3 530,464.5C539.6,466.7 548.5,468.3 557.7,471.2C566.9,474.1 577.3,478.5 585,482C592.7,485.5 597.8,488.8 604,492C610.2,495.2 616,498.2 622,501.5C628,504.8 635.3,508.8 640,511.5C644.7,514.2 648.3,516.9 650,518L700,480L700,366L200,366Z" fill="#d6d6d6" filter="url(#b2_3)"/>
</g>
<g mask="url(#z288_0_345_0)">
<path d="M270,366H735V680H270Z" fill="#000000"/>
<path d="M272.9,423.1C276.1,424 285.6,426.2 292.1,428.4C298.7,430.6 302.8,432.4 312.3,436.2C321.7,440.1 335.3,445.5 348.8,451.5C362.4,457.5 377.8,466.2 393.4,472.4C409,478.6 426.1,483.3 442.5,488.6C459,493.9 474.9,498.3 492.2,504.4C509.5,510.4 533.9,520 546.3,524.8C558.7,529.7 557.8,529.3 566.6,533.5C575.3,537.8 589.8,546 598.7,550.5C607.6,555 611.3,556.9 619.8,560.4C628.3,563.9 639.2,568.1 649.6,571.7C659.9,575.3 672,579.2 681.9,582C691.8,584.8 700.7,587.1 709,588.5C717.4,589.8 728.1,589.7 731.9,589.9L735,500L735,366L275,366Z" fill="#0d0d0d" filter="url(#b4_5)"/>
<path d="M273.9,419.2C277.1,420.1 286.5,422.6 293.1,424.5C299.7,426.5 303.9,427.9 313.6,431C323.2,434 337.1,438.1 350.9,442.8C364.8,447.4 380.8,453.8 396.7,458.8C412.6,463.9 429.7,468.4 446.3,473.1C462.8,477.7 478.6,481.5 496.1,486.8C513.7,492 538.5,499.9 551.6,504.5C564.7,509.2 565.5,510 574.8,514.7C584.2,519.4 599,527.6 607.8,532.7C616.5,537.7 619.8,540.7 627.4,545C635.1,549.3 644.4,554.2 653.9,558.4C663.3,562.6 674.6,566.9 683.9,570.3C693.3,573.6 701.9,576.9 710,578.5C718.1,580.1 728.8,579.7 732.5,579.9L735,500L735,366L275,366Z" fill="#262626" filter="url(#b4_0)"/>
<path d="M274.5,417C277.7,417.8 287.1,420.3 293.7,422C300.4,423.7 304.7,424.9 314.4,427.4C324.2,429.8 338.2,433.2 352.4,436.6C366.5,440.1 383.1,444.1 399.3,448.1C415.4,452.1 432.6,456.4 449.3,460.4C466,464.4 481.4,468.2 499.4,472.1C517.3,476.1 542.9,480.5 556.9,484.2C571,487.9 573.5,489.7 583.8,494.2C594.1,498.8 609.5,506.6 618.6,511.3C627.8,515.9 631.4,518.6 638.7,522.2C645.9,525.8 653.6,529.9 662.1,532.7C670.6,535.4 680.9,537 689.5,538.5C698.1,540 706.1,540.9 713.7,541.7C721.3,542.4 731.3,542.8 734.8,543L735,500L735,366L275,366Z" fill="#454545" filter="url(#b2_7)"/>
<path d="M585,485C590,487.6 605.8,495.6 615,500.5C624.2,505.4 632,510.5 640,514.5C648,518.5 654.7,521.9 663,524.5C671.3,527.1 681.5,528.5 690,530C698.5,531.5 706.5,532.7 714,533.5C721.5,534.3 731.5,534.8 735,535L735,500L585,420Z" fill="#8f8f8f" filter="url(#b2_2)"/>
<path d="M275,407.1C278.2,408.1 287.6,411.1 294.3,413C301,414.9 305.2,416 315,418.4C324.8,420.8 338.8,424.1 353,427.2C367.2,430.3 383.8,433.8 400,437.2C416.2,440.6 433.3,444.1 450,447.6C466.7,451.1 486.7,455.2 500,458C513.3,460.8 520.4,462.3 530,464.5C539.6,466.7 548.5,468.3 557.7,471.2C566.9,474.1 577.3,478.5 585,482C592.7,485.5 597.8,488.8 604,492C610.2,495.2 616,498.2 622,501.5C628,504.8 635.3,508.8 640,511.5C644.7,514.2 648.3,516.9 650,518L700,480L700,366L275,366Z" fill="#d6d6d6" filter="url(#b3_7)"/>
</g>
<g mask="url(#z385_0_470_0)">
<path d="M365,366H735V680H365Z" fill="#000000"/>
<path d="M365,459.1C369.7,461.3 380.5,467.5 393.4,472.4C406.3,477.3 426.1,483.3 442.5,488.6C459,493.9 474.9,498.3 492.2,504.4C509.5,510.4 533.9,520 546.3,524.8C558.7,529.7 557.8,529.3 566.6,533.5C575.3,537.8 589.8,546 598.7,550.5C607.6,555 611.3,556.9 619.8,560.4C628.3,563.9 639.2,568.1 649.6,571.7C659.9,575.3 672,579.2 681.9,582C691.8,584.8 700.7,587.1 709,588.5C717.4,589.8 728.1,589.7 731.9,589.9L735,500L735,366L370,366Z" fill="#0d0d0d" filter="url(#b7_0)"/>
<path d="M367.5,448.6C372.4,450.3 383.6,454.7 396.7,458.8C409.8,462.9 429.7,468.4 446.3,473.1C462.8,477.7 478.6,481.5 496.1,486.8C513.7,492 538.5,499.9 551.6,504.5C564.7,509.2 565.5,510 574.8,514.7C584.2,519.4 599,527.6 607.8,532.7C616.5,537.7 619.8,540.7 627.4,545C635.1,549.3 644.4,554.2 653.9,558.4C663.3,562.6 674.6,566.9 683.9,570.3C693.3,573.6 701.9,576.9 710,578.5C718.1,580.1 728.8,579.7 732.5,579.9L735,500L735,366L370,366Z" fill="#262626" filter="url(#b5_0)"/>
<path d="M369.4,440.8C374.3,442 386,444.8 399.3,448.1C412.6,451.4 432.6,456.4 449.3,460.4C466,464.4 481.4,468.2 499.4,472.1C517.3,476.1 542.9,480.5 556.9,484.2C571,487.9 573.5,489.7 583.8,494.2C594.1,498.8 609.5,506.6 618.6,511.3C627.8,515.9 631.4,518.6 638.7,522.2C645.9,525.8 653.6,529.9 662.1,532.7C670.6,535.4 680.9,537 689.5,538.5C698.1,540 706.1,540.9 713.7,541.7C721.3,542.4 731.3,542.8 734.8,543L735,500L735,366L370,366Z" fill="#454545" filter="url(#b3_5)"/>
<path d="M585,485C590,487.6 605.8,495.6 615,500.5C624.2,505.4 632,510.5 640,514.5C648,518.5 654.7,521.9 663,524.5C671.3,527.1 681.5,528.5 690,530C698.5,531.5 706.5,532.7 714,533.5C721.5,534.3 731.5,534.8 735,535L735,500L585,420Z" fill="#8f8f8f" filter="url(#b2_2)"/>
<path d="M370,430.8C375,431.9 386.7,434.4 400,437.2C413.3,440 433.3,444.1 450,447.6C466.7,451.1 486.7,455.2 500,458C513.3,460.8 520.4,462.3 530,464.5C539.6,466.7 548.5,468.3 557.7,471.2C566.9,474.1 577.3,478.5 585,482C592.7,485.5 597.8,488.8 604,492C610.2,495.2 616,498.2 622,501.5C628,504.8 635.3,508.8 640,511.5C644.7,514.2 648.3,516.9 650,518L700,480L700,366L370,366Z" fill="#d6d6d6" filter="url(#b5_2)"/>
</g>
<g mask="url(#z596_0_650_0)">
<path d="M580,366H735V680H580Z" fill="#000000"/>
<path d="M566.7,529C573.1,530.5 594.9,535.4 605,538C615.2,540.6 619.3,541.7 627.5,544.8C635.8,547.9 645.2,551.5 654.5,556.4C663.8,561.3 674.2,568.2 683.3,574.2C692.3,580.2 700.7,587.4 708.6,592.4C716.6,597.3 727.3,602 731,603.9L735,500L735,366L585,366Z" fill="#0d0d0d" filter="url(#b3_6)"/>
<path d="M574.5,513.1C580.5,515.3 601.3,522.7 610.9,526.4C620.6,530.1 624.5,531.6 632.2,535.3C639.9,539 648.2,543.5 657,548.7C665.7,553.9 675.9,560.4 684.6,566.2C693.4,572.1 701.7,579.1 709.5,583.9C717.3,588.7 727.9,593.1 731.6,594.9L735,500L735,366L585,366Z" fill="#262626" filter="url(#b2_8)"/>
<path d="M583.7,494.2C589.5,497 609.5,506.6 618.6,511.3C627.8,515.9 631.4,518.6 638.7,522.2C645.9,525.8 653.6,529.9 662.1,532.7C670.6,535.4 680.9,537 689.5,538.5C698.1,540 706.1,540.9 713.7,541.7C721.3,542.4 731.3,542.8 734.8,543L735,500L735,366L585,366Z" fill="#454545" filter="url(#b3_2)"/>
<path d="M585,485C590,487.6 605.8,495.6 615,500.5C624.2,505.4 632,510.5 640,514.5C648,518.5 654.7,521.9 663,524.5C671.3,527.1 681.5,528.5 690,530C698.5,531.5 706.5,532.7 714,533.5C721.5,534.3 731.5,534.8 735,535L735,500L585,420Z" fill="#8f8f8f" filter="url(#b2_2)"/>
<path d="M585,482C588.2,483.7 597.8,488.8 604,492C610.2,495.2 616,498.2 622,501.5C628,504.8 635.3,508.8 640,511.5C644.7,514.2 648.3,516.9 650,518L700,480L700,366L585,366Z" fill="#d6d6d6" filter="url(#b4_8)"/>
</g>
<g clip-path="url(#loin)">
<ellipse cx="511" cy="431" rx="52" ry="21" fill="#bbbbbb" transform="rotate(15 511 431)" filter="url(#b7_0)"/>
<ellipse cx="564" cy="461" rx="27" ry="10" fill="#b5b5b5" transform="rotate(30 564 461)" filter="url(#b6_0)"/>
<ellipse cx="528" cy="451" rx="46" ry="9" fill="#bebebe" transform="rotate(14 528 451)" filter="url(#b4_5)"/>
<ellipse cx="578" cy="478" rx="18" ry="7" fill="#b8b8b8" transform="rotate(32 578 478)" filter="url(#b4_0)"/>
<ellipse cx="536" cy="448" rx="22" ry="13" fill="#bababa" transform="rotate(20 536 448)" filter="url(#b6_0)"/>
<ellipse cx="520" cy="424" rx="22" ry="7" fill="#b2b2b2" transform="rotate(12 520 424)" filter="url(#b4_0)"/>
<ellipse cx="465" cy="396" rx="26" ry="5" fill="#dfdfdf" filter="url(#b4_0)"/>
<ellipse cx="340" cy="399" rx="40" ry="5" fill="#dadada" transform="rotate(8 340 399)" filter="url(#b3_0)"/>
<path d="M561.4,389.9C561.8,391.9 562.9,398 563.8,402C564.8,406 565.9,410 567.2,414C568.5,417.9 570,421.8 571.6,425.6C573.2,429.4 574.9,433.1 576.8,436.8C578.7,440.5 580.8,444.1 583,447.6C585.2,451.1 587.5,454.5 590,457.8C592.4,461.1 595,464.4 597.8,467.5C600.5,470.6 603.4,473.4 606.3,476.5C609.1,479.5 611.8,482.7 614.8,485.6C617.8,488.5 620.9,491.4 624.1,494.1C627.3,496.8 630.7,499.4 634.1,501.8C637.6,504.3 643.1,507.6 644.8,508.8L650.8,507L600,420L575,392Z" fill="#dfdfdf" filter="url(#b2_4)"/>
<ellipse cx="550.5" cy="394.5" rx="3.5" ry="5" fill="#f2f2f2" filter="url(#b1_5)"/>
</g>
<path d="M224.5,365.7C224.6,366.4 224.6,368.6 224.8,370C225.1,371.4 225.4,372.9 225.9,374.2C226.3,375.6 226.9,376.9 227.5,378.2C228.2,379.5 228.9,380.8 229.8,381.9C230.6,383.1 231.6,384.2 232.6,385.2C233.6,386.2 234.7,387.2 235.9,388C237,388.9 238.3,389.6 239.6,390.3C240.9,390.9 242.9,391.7 243.6,391.9L252.1,365.7Z" fill="#dbdbdb" filter="url(#b0_8)"/>
</g>
<g clip-path="url(#up)">
<path d="M190,0H735V366H190Z" fill="#000000"/>
<path d="M222,365.4C222.3,363.7 222.4,359.1 223.3,355.2C224.3,351.3 225.9,345.7 227.7,342.1C229.4,338.5 231.7,336.1 233.8,333.6C235.9,331.2 237.6,329.7 240.1,327.4C242.7,325.1 245.7,322.6 249.2,320.1C252.7,317.6 255.6,315.1 261,312.3C266.4,309.5 274.7,306.3 281.8,303.4C288.8,300.5 292.7,299 303.3,294.9C313.9,290.9 331.3,284.2 345.2,278.9C359.2,273.5 373.1,268.2 386.9,262.9C400.6,257.6 414.3,252.1 428,247C441.6,241.9 460.5,235.6 468.8,232.5C477.1,229.4 472.5,231.2 477.9,228.4C483.2,225.6 493.4,220.6 501,215.8C508.5,211.1 513.6,205.4 523.1,199.9C532.6,194.4 546.4,188.6 558,183C569.6,177.5 581.2,172.1 592.9,166.6C604.5,161.2 619,154.2 627.7,150.2C636.5,146.2 639.2,145.2 645.3,142.8C651.3,140.3 652.5,139.2 663.9,135.3C675.2,131.4 701.6,123.2 713.4,119.4C725.2,115.6 731.2,113.6 734.7,112.5L735,112.5L735,365.4L222,365.4Z" fill="#0e0e0e" filter="url(#b1_3)"/>
<path d="M222.5,365.5C222.8,363.8 222.9,359.2 223.8,355.4C224.8,351.5 226.5,346 228.3,342.5C230.1,339 232.4,336.7 234.5,334.4C236.6,332.1 238.3,330.7 240.9,328.6C243.5,326.6 246.7,324.2 250.2,322C253.7,319.7 256.6,317.6 262.1,315.1C267.5,312.6 275.8,309.6 282.9,306.9C290,304.3 293.9,302.9 304.5,299.2C315.2,295.5 332.8,289.4 346.8,284.6C360.8,279.9 374.8,275.3 388.8,270.6C402.7,265.9 416.6,261.1 430.4,256.5C444.3,251.9 463.2,246 471.8,243C480.4,240 477,241.9 481.8,238.5C486.7,235.2 494.1,227.6 501,222.8C507.8,218 513.6,214.2 523.1,209.8C532.6,205.5 546.4,201.4 558,196.9C569.6,192.5 581.2,188.2 592.9,183C604.5,177.9 619,170.4 627.7,166.1C636.5,161.8 639.2,159.8 645.3,157.2C651.3,154.5 652.5,153.5 663.9,150.2C675.2,146.9 701.6,140.3 713.4,137.3C725.2,134.3 731.2,133.2 734.7,132.3L735,132.3L735,365.4L222.5,365.4Z" fill="#222222" filter="url(#b1_2)"/>
<path d="M223,365.6C223.3,363.9 223.4,359.3 224.4,355.5C225.4,351.8 227.2,346.3 229,342.9C230.8,339.5 233.2,337.4 235.3,335.2C237.4,333.1 239.1,331.8 241.7,329.9C244.4,327.9 247.5,325.8 251.1,323.7C254.6,321.6 257.5,319.7 263,317.4C268.4,315.1 276.7,312.2 283.8,309.7C290.9,307.3 294.8,306 305.5,302.6C316.2,299.1 333.8,293.2 348,289C362.1,284.7 376.3,281 390.3,277C404.4,273 418.5,269 432.6,265C446.6,260.9 465.7,255.4 474.5,252.6C483.4,249.7 481.1,250.6 485.5,247.8C489.9,245 494.7,238.9 501,235.7C507.2,232.4 513.6,230.4 523.1,228.2C532.6,226.1 546.4,225.1 558,222.8C569.6,220.4 581.2,219 592.9,214.3C604.5,209.7 619,199.9 627.7,194.9C636.5,190 639.2,187.2 645.3,184.5C651.3,181.8 652.5,180.7 663.9,178.5C675.2,176.4 701.6,173.2 713.4,171.6C725.2,170 731.2,169.5 734.7,169.1L735,169.1L735,365.4L223,365.4Z" fill="#333333" filter="url(#b1_1)"/>
<path d="M223.4,365.7C223.7,364 223.8,359.4 224.9,355.7C225.9,352 227.8,346.6 229.7,343.3C231.6,340.1 233.9,338.2 236.1,336.1C238.2,334.1 239.9,332.9 242.6,331.1C245.2,329.3 248.4,327.3 252,325.4C255.5,323.5 258.4,321.9 263.9,319.7C269.3,317.6 277.6,314.9 284.7,312.6C291.8,310.3 295.8,309.1 306.5,305.9C317.3,302.7 334.9,297.1 349.1,293.3C363.3,289.4 377.6,286.2 391.8,282.6C406,279.1 420.2,275.5 434.3,271.9C448.5,268.3 467.8,263.4 476.9,260.8C486,258.1 484.7,259 488.7,256.1C492.7,253.3 495.2,247 501,243.6C506.7,240.3 513.6,238.3 523.1,236.2C532.6,234.1 546.4,233.3 558,231C569.6,228.7 581.2,227 592.9,222.3C604.5,217.6 619,207.9 627.7,202.9C636.5,197.9 639.2,195.2 645.3,192.5C651.3,189.7 652.5,188.6 663.9,186.5C675.2,184.3 701.6,181.1 713.4,179.5C725.2,178 731.2,177.5 734.7,177.1L735,177.1L735,365.4L223.4,365.4Z" fill="#4a4a4a" filter="url(#b1_0)"/>
<path d="M224.2,365.8C224.5,364.1 224.7,359.5 225.9,356C227.1,352.4 229.3,347.2 231.4,344.3C233.5,341.5 236.3,340.4 238.5,338.8C240.7,337.1 242.1,336 244.7,334.5C247.3,332.9 250.6,331.1 254.1,329.5C257.6,327.9 260.4,326.8 265.8,324.8C271.2,322.9 279.4,320 286.4,317.8C293.4,315.5 297.4,314.3 308.1,311.1C318.8,307.9 336.4,302.4 350.6,298.5C364.7,294.7 378.9,291.5 393.1,287.9C407.3,284.4 421.5,280.8 435.7,277.2C449.9,273.5 469.3,268.7 478.4,266C487.6,263.4 486.9,263.6 490.7,261.2C494.4,258.8 495.5,253.6 501,251.6C506.4,249.6 513.6,250.4 523.1,249.1C532.6,247.7 546.4,246.4 558,243.5C569.6,240.6 581.2,237.1 592.9,231.6C604.5,226.1 619,215.5 627.7,210.5C636.5,205.6 639.2,204.3 645.3,201.9C651.3,199.5 656.9,197.7 663.9,195.9C670.9,194.2 678.9,192.9 687.2,191.6C695.4,190.2 705.5,188.7 713.4,187.7C721.3,186.7 731.2,185.9 734.7,185.5L734.7,365.4L200,365.4Z" fill="#636363" filter="url(#b0_9)"/>
<path d="M224.2,365.8C224.5,364.1 224.7,359.5 225.9,356C227.1,352.4 229.3,347.2 231.4,344.3C233.5,341.5 236.3,340.4 238.5,338.8C240.7,337.1 242.1,336 244.7,334.5C247.3,332.9 250.6,331.1 254.1,329.5C257.6,327.9 260.4,326.8 265.8,324.8C271.2,322.9 279.4,320 286.4,317.8C293.4,315.5 297.4,314.3 308.1,311.1C318.8,307.9 336.4,302.4 350.6,298.5C364.7,294.7 378.9,291.5 393.1,287.9C407.3,284.4 421.5,280.8 435.7,277.2C449.9,273.5 469.3,268.7 478.4,266C487.6,263.4 486.9,262.3 490.7,261.2C494.4,260.1 495.5,259.4 501,259.5C506.4,259.7 513.6,262.5 523.1,261.9C532.6,261.3 546.4,259.6 558,256.1C569.6,252.6 581.2,247.3 592.9,241C604.5,234.6 619,223.1 627.7,218.2C636.5,213.3 639.2,213.5 645.3,211.3C651.3,209.2 656.9,207.3 663.9,205.4C670.9,203.5 678.9,201.5 687.2,199.9C695.4,198.3 705.5,196.9 713.4,195.9C721.3,194.9 731.2,194.3 734.7,193.9L734.7,365.4L200,365.4Z" fill="url(#hd)" filter="url(#b0_9)"/>
<g mask="url(#z226_0_247_0)">
<path d="M190,0H735V366H190Z" fill="#000000"/>
<path d="M222,365.4C222.3,363.7 222.4,359.1 223.3,355.2C224.3,351.3 225.9,345.7 227.7,342.1C229.4,338.5 231.7,336.1 233.8,333.6C235.9,331.2 237.6,329.7 240.1,327.4C242.7,325.1 245.7,322.6 249.2,320.1C252.7,317.6 255.6,315.1 261,312.3C266.4,309.5 274.7,306.3 281.8,303.4C288.8,300.5 292.7,299 303.3,294.9C313.9,290.9 331.3,284.2 345.2,278.9C359.2,273.5 373.1,268.2 386.9,262.9C400.6,257.6 414.3,252.1 428,247C441.6,241.9 460.5,235.6 468.8,232.5C477.1,229.4 472.5,231.2 477.9,228.4C483.2,225.6 493.4,220.6 501,215.8C508.5,211.1 513.6,205.4 523.1,199.9C532.6,194.4 546.4,188.6 558,183C569.6,177.5 581.2,172.1 592.9,166.6C604.5,161.2 619,154.2 627.7,150.2C636.5,146.2 639.2,145.2 645.3,142.8C651.3,140.3 652.5,139.2 663.9,135.3C675.2,131.4 701.6,123.2 713.4,119.4C725.2,115.6 731.2,113.6 734.7,112.5L735,112.5L735,365.4L222,365.4Z" fill="#0e0e0e" filter="url(#b2_2)"/>
<path d="M222.5,365.5C222.8,363.8 222.9,359.2 223.8,355.4C224.8,351.5 226.5,346 228.3,342.5C230.1,339 232.4,336.7 234.5,334.4C236.6,332.1 238.3,330.7 240.9,328.6C243.5,326.6 246.7,324.2 250.2,322C253.7,319.7 256.6,317.6 262.1,315.1C267.5,312.6 275.8,309.6 282.9,306.9C290,304.3 293.9,302.9 304.5,299.2C315.2,295.5 332.8,289.4 346.8,284.6C360.8,279.9 374.8,275.3 388.8,270.6C402.7,265.9 416.6,261.1 430.4,256.5C444.3,251.9 463.2,246 471.8,243C480.4,240 477,241.9 481.8,238.5C486.7,235.2 494.1,227.6 501,222.8C507.8,218 513.6,214.2 523.1,209.8C532.6,205.5 546.4,201.4 558,196.9C569.6,192.5 581.2,188.2 592.9,183C604.5,177.9 619,170.4 627.7,166.1C636.5,161.8 639.2,159.8 645.3,157.2C651.3,154.5 652.5,153.5 663.9,150.2C675.2,146.9 701.6,140.3 713.4,137.3C725.2,134.3 731.2,133.2 734.7,132.3L735,132.3L735,365.4L222.5,365.4Z" fill="#222222" filter="url(#b2_0)"/>
<path d="M223,365.6C223.3,363.9 223.4,359.3 224.4,355.5C225.4,351.8 227.2,346.3 229,342.9C230.8,339.5 233.2,337.4 235.3,335.2C237.4,333.1 239.1,331.8 241.7,329.9C244.4,327.9 247.5,325.8 251.1,323.7C254.6,321.6 257.5,319.7 263,317.4C268.4,315.1 276.7,312.2 283.8,309.7C290.9,307.3 294.8,306 305.5,302.6C316.2,299.1 333.8,293.2 348,289C362.1,284.7 376.3,281 390.3,277C404.4,273 418.5,269 432.6,265C446.6,260.9 465.7,255.4 474.5,252.6C483.4,249.7 481.1,250.6 485.5,247.8C489.9,245 494.7,238.9 501,235.7C507.2,232.4 513.6,230.4 523.1,228.2C532.6,226.1 546.4,225.1 558,222.8C569.6,220.4 581.2,219 592.9,214.3C604.5,209.7 619,199.9 627.7,194.9C636.5,190 639.2,187.2 645.3,184.5C651.3,181.8 652.5,180.7 663.9,178.5C675.2,176.4 701.6,173.2 713.4,171.6C725.2,170 731.2,169.5 734.7,169.1L735,169.1L735,365.4L223,365.4Z" fill="#333333" filter="url(#b1_8)"/>
<path d="M223.4,365.7C223.7,364 223.8,359.4 224.9,355.7C225.9,352 227.8,346.6 229.7,343.3C231.6,340.1 233.9,338.2 236.1,336.1C238.2,334.1 239.9,332.9 242.6,331.1C245.2,329.3 248.4,327.3 252,325.4C255.5,323.5 258.4,321.9 263.9,319.7C269.3,317.6 277.6,314.9 284.7,312.6C291.8,310.3 295.8,309.1 306.5,305.9C317.3,302.7 334.9,297.1 349.1,293.3C363.3,289.4 377.6,286.2 391.8,282.6C406,279.1 420.2,275.5 434.3,271.9C448.5,268.3 467.8,263.4 476.9,260.8C486,258.1 484.7,259 488.7,256.1C492.7,253.3 495.2,247 501,243.6C506.7,240.3 513.6,238.3 523.1,236.2C532.6,234.1 546.4,233.3 558,231C569.6,228.7 581.2,227 592.9,222.3C604.5,217.6 619,207.9 627.7,202.9C636.5,197.9 639.2,195.2 645.3,192.5C651.3,189.7 652.5,188.6 663.9,186.5C675.2,184.3 701.6,181.1 713.4,179.5C725.2,178 731.2,177.5 734.7,177.1L735,177.1L735,365.4L223.4,365.4Z" fill="#4a4a4a" filter="url(#b1_6)"/>
<path d="M224.2,365.8C224.5,364.1 224.7,359.5 225.9,356C227.1,352.4 229.3,347.2 231.4,344.3C233.5,341.5 236.3,340.4 238.5,338.8C240.7,337.1 242.1,336 244.7,334.5C247.3,332.9 250.6,331.1 254.1,329.5C257.6,327.9 260.4,326.8 265.8,324.8C271.2,322.9 279.4,320 286.4,317.8C293.4,315.5 297.4,314.3 308.1,311.1C318.8,307.9 336.4,302.4 350.6,298.5C364.7,294.7 378.9,291.5 393.1,287.9C407.3,284.4 421.5,280.8 435.7,277.2C449.9,273.5 469.3,268.7 478.4,266C487.6,263.4 486.9,263.6 490.7,261.2C494.4,258.8 495.5,253.6 501,251.6C506.4,249.6 513.6,250.4 523.1,249.1C532.6,247.7 546.4,246.4 558,243.5C569.6,240.6 581.2,237.1 592.9,231.6C604.5,226.1 619,215.5 627.7,210.5C636.5,205.6 639.2,204.3 645.3,201.9C651.3,199.5 656.9,197.7 663.9,195.9C670.9,194.2 678.9,192.9 687.2,191.6C695.4,190.2 705.5,188.7 713.4,187.7C721.3,186.7 731.2,185.9 734.7,185.5L734.7,365.4L200,365.4Z" fill="#636363" filter="url(#b2_2)"/>
<path d="M224.2,365.8C224.5,364.1 224.7,359.5 225.9,356C227.1,352.4 229.3,347.2 231.4,344.3C233.5,341.5 236.3,340.4 238.5,338.8C240.7,337.1 242.1,336 244.7,334.5C247.3,332.9 250.6,331.1 254.1,329.5C257.6,327.9 260.4,326.8 265.8,324.8C271.2,322.9 279.4,320 286.4,317.8C293.4,315.5 297.4,314.3 308.1,311.1C318.8,307.9 336.4,302.4 350.6,298.5C364.7,294.7 378.9,291.5 393.1,287.9C407.3,284.4 421.5,280.8 435.7,277.2C449.9,273.5 469.3,268.7 478.4,266C487.6,263.4 486.9,262.3 490.7,261.2C494.4,260.1 495.5,259.4 501,259.5C506.4,259.7 513.6,262.5 523.1,261.9C532.6,261.3 546.4,259.6 558,256.1C569.6,252.6 581.2,247.3 592.9,241C604.5,234.6 619,223.1 627.7,218.2C636.5,213.3 639.2,213.5 645.3,211.3C651.3,209.2 656.9,207.3 663.9,205.4C670.9,203.5 678.9,201.5 687.2,199.9C695.4,198.3 705.5,196.9 713.4,195.9C721.3,194.9 731.2,194.3 734.7,193.9L734.7,365.4L200,365.4Z" fill="url(#hd)" filter="url(#b2_2)"/>
</g>
<g mask="url(#z271_0_331_0)">
<path d="M249,0H735V366H249Z" fill="#000000"/>
<path d="M259.2,313.5C259.5,313.3 257.3,314 261,312.3C264.8,310.6 274.7,306.3 281.8,303.4C288.8,300.5 292.7,299 303.3,294.9C313.9,290.9 331.3,284.2 345.2,278.9C359.2,273.5 373.1,268.2 386.9,262.9C400.6,257.6 414.3,252.1 428,247C441.6,241.9 460.5,235.6 468.8,232.5C477.1,229.4 472.5,231.2 477.9,228.4C483.2,225.6 493.4,220.6 501,215.8C508.5,211.1 513.6,205.4 523.1,199.9C532.6,194.4 546.4,188.6 558,183C569.6,177.5 581.2,172.1 592.9,166.6C604.5,161.2 619,154.2 627.7,150.2C636.5,146.2 639.2,145.2 645.3,142.8C651.3,140.3 652.5,139.2 663.9,135.3C675.2,131.4 701.6,123.2 713.4,119.4C725.2,115.6 731.2,113.6 734.7,112.5L735,112.5L735,365.4L259.2,365.4Z" fill="#0e0e0e" filter="url(#b4_0)"/>
<path d="M259.2,316.8C259.6,316.5 258.1,316.7 262.1,315.1C266,313.4 275.8,309.6 282.9,306.9C290,304.3 293.9,302.9 304.5,299.2C315.2,295.5 332.8,289.4 346.8,284.6C360.8,279.9 374.8,275.3 388.8,270.6C402.7,265.9 416.6,261.1 430.4,256.5C444.3,251.9 463.2,246 471.8,243C480.4,240 477,241.9 481.8,238.5C486.7,235.2 494.1,227.6 501,222.8C507.8,218 513.6,214.2 523.1,209.8C532.6,205.5 546.4,201.4 558,196.9C569.6,192.5 581.2,188.2 592.9,183C604.5,177.9 619,170.4 627.7,166.1C636.5,161.8 639.2,159.8 645.3,157.2C651.3,154.5 652.5,153.5 663.9,150.2C675.2,146.9 701.6,140.3 713.4,137.3C725.2,134.3 731.2,133.2 734.7,132.3L735,132.3L735,365.4L259.2,365.4Z" fill="#222222" filter="url(#b3_5)"/>
<path d="M259.2,319.4C259.8,319.1 258.9,319 263,317.4C267.1,315.8 276.7,312.2 283.8,309.7C290.9,307.3 294.8,306 305.5,302.6C316.2,299.1 333.8,293.2 348,289C362.1,284.7 376.3,281 390.3,277C404.4,273 418.5,269 432.6,265C446.6,260.9 465.7,255.4 474.5,252.6C483.4,249.7 481.1,250.6 485.5,247.8C489.9,245 494.7,238.9 501,235.7C507.2,232.4 513.6,230.4 523.1,228.2C532.6,226.1 546.4,225.1 558,222.8C569.6,220.4 581.2,219 592.9,214.3C604.5,209.7 619,199.9 627.7,194.9C636.5,190 639.2,187.2 645.3,184.5C651.3,181.8 652.5,180.7 663.9,178.5C675.2,176.4 701.6,173.2 713.4,171.6C725.2,170 731.2,169.5 734.7,169.1L735,169.1L735,365.4L259.2,365.4Z" fill="#333333" filter="url(#b3_0)"/>
<path d="M259.2,322C259.9,321.6 259.6,321.3 263.9,319.7C268.1,318.2 277.6,314.9 284.7,312.6C291.8,310.3 295.8,309.1 306.5,305.9C317.3,302.7 334.9,297.1 349.1,293.3C363.3,289.4 377.6,286.2 391.8,282.6C406,279.1 420.2,275.5 434.3,271.9C448.5,268.3 467.8,263.4 476.9,260.8C486,258.1 484.7,259 488.7,256.1C492.7,253.3 495.2,247 501,243.6C506.7,240.3 513.6,238.3 523.1,236.2C532.6,234.1 546.4,233.3 558,231C569.6,228.7 581.2,227 592.9,222.3C604.5,217.6 619,207.9 627.7,202.9C636.5,197.9 639.2,195.2 645.3,192.5C651.3,189.7 652.5,188.6 663.9,186.5C675.2,184.3 701.6,181.1 713.4,179.5C725.2,178 731.2,177.5 734.7,177.1L735,177.1L735,365.4L259.2,365.4Z" fill="#4a4a4a" filter="url(#b2_4)"/>
<path d="M259.2,327.5C260.3,327.1 261.3,326.5 265.8,324.8C270.4,323.2 279.4,320 286.4,317.8C293.4,315.5 297.4,314.3 308.1,311.1C318.8,307.9 336.4,302.4 350.6,298.5C364.7,294.7 378.9,291.5 393.1,287.9C407.3,284.4 421.5,280.8 435.7,277.2C449.9,273.5 469.3,268.7 478.4,266C487.6,263.4 486.9,263.6 490.7,261.2C494.4,258.8 495.5,253.6 501,251.6C506.4,249.6 513.6,250.4 523.1,249.1C532.6,247.7 546.4,246.4 558,243.5C569.6,240.6 581.2,237.1 592.9,231.6C604.5,226.1 619,215.5 627.7,210.5C636.5,205.6 639.2,204.3 645.3,201.9C651.3,199.5 656.9,197.7 663.9,195.9C670.9,194.2 678.9,192.9 687.2,191.6C695.4,190.2 705.5,188.7 713.4,187.7C721.3,186.7 731.2,185.9 734.7,185.5L734.7,365.4L259.2,365.4Z" fill="#636363" filter="url(#b3_4)"/>
<path d="M259.2,327.5C260.3,327.1 261.3,326.5 265.8,324.8C270.4,323.2 279.4,320 286.4,317.8C293.4,315.5 297.4,314.3 308.1,311.1C318.8,307.9 336.4,302.4 350.6,298.5C364.7,294.7 378.9,291.5 393.1,287.9C407.3,284.4 421.5,280.8 435.7,277.2C449.9,273.5 469.3,268.7 478.4,266C487.6,263.4 486.9,262.3 490.7,261.2C494.4,260.1 495.5,259.4 501,259.5C506.4,259.7 513.6,262.5 523.1,261.9C532.6,261.3 546.4,259.6 558,256.1C569.6,252.6 581.2,247.3 592.9,241C604.5,234.6 619,223.1 627.7,218.2C636.5,213.3 639.2,213.5 645.3,211.3C651.3,209.2 656.9,207.3 663.9,205.4C670.9,203.5 678.9,201.5 687.2,199.9C695.4,198.3 705.5,196.9 713.4,195.9C721.3,194.9 731.2,194.3 734.7,193.9L734.7,365.4L259.2,365.4Z" fill="url(#hd)" filter="url(#b3_4)"/>
</g>
<g mask="url(#z380_0_479_0)">
<path d="M358,0H735V366H358Z" fill="#000000"/>
<path d="M368.1,270.1C371.2,268.9 376.9,266.8 386.9,262.9C396.8,259.1 414.3,252.1 428,247C441.6,241.9 460.5,235.6 468.8,232.5C477.1,229.4 472.5,231.2 477.9,228.4C483.2,225.6 493.4,220.6 501,215.8C508.5,211.1 513.6,205.4 523.1,199.9C532.6,194.4 546.4,188.6 558,183C569.6,177.5 581.2,172.1 592.9,166.6C604.5,161.2 619,154.2 627.7,150.2C636.5,146.2 639.2,145.2 645.3,142.8C651.3,140.3 652.5,139.2 663.9,135.3C675.2,131.4 701.6,123.2 713.4,119.4C725.2,115.6 731.2,113.6 734.7,112.5L735,112.5L735,365.4L368.1,365.4Z" fill="#0e0e0e" filter="url(#b6_0)"/>
<path d="M368.1,277.5C371.6,276.3 378.4,274.1 388.8,270.6C399.1,267.1 416.6,261.1 430.4,256.5C444.3,251.9 463.2,246 471.8,243C480.4,240 477,241.9 481.8,238.5C486.7,235.2 494.1,227.6 501,222.8C507.8,218 513.6,214.2 523.1,209.8C532.6,205.5 546.4,201.4 558,196.9C569.6,192.5 581.2,188.2 592.9,183C604.5,177.9 619,170.4 627.7,166.1C636.5,161.8 639.2,159.8 645.3,157.2C651.3,154.5 652.5,153.5 663.9,150.2C675.2,146.9 701.6,140.3 713.4,137.3C725.2,134.3 731.2,133.2 734.7,132.3L735,132.3L735,365.4L368.1,365.4Z" fill="#222222" filter="url(#b5_5)"/>
<path d="M368.1,283.3C371.8,282.2 379.6,280 390.3,277C401.1,273.9 418.5,269 432.6,265C446.6,260.9 465.7,255.4 474.5,252.6C483.4,249.7 481.1,250.6 485.5,247.8C489.9,245 494.7,238.9 501,235.7C507.2,232.4 513.6,230.4 523.1,228.2C532.6,226.1 546.4,225.1 558,222.8C569.6,220.4 581.2,219 592.9,214.3C604.5,209.7 619,199.9 627.7,194.9C636.5,190 639.2,187.2 645.3,184.5C651.3,181.8 652.5,180.7 663.9,178.5C675.2,176.4 701.6,173.2 713.4,171.6C725.2,170 731.2,169.5 734.7,169.1L735,169.1L735,365.4L368.1,365.4Z" fill="#333333" filter="url(#b4_5)"/>
<path d="M368.1,288.5C372.1,287.5 380.7,285.4 391.8,282.6C402.8,279.9 420.2,275.5 434.3,271.9C448.5,268.3 467.8,263.4 476.9,260.8C486,258.1 484.7,259 488.7,256.1C492.7,253.3 495.2,247 501,243.6C506.7,240.3 513.6,238.3 523.1,236.2C532.6,234.1 546.4,233.3 558,231C569.6,228.7 581.2,227 592.9,222.3C604.5,217.6 619,207.9 627.7,202.9C636.5,197.9 639.2,195.2 645.3,192.5C651.3,189.7 652.5,188.6 663.9,186.5C675.2,184.3 701.6,181.1 713.4,179.5C725.2,178 731.2,177.5 734.7,177.1L735,177.1L735,365.4L368.1,365.4Z" fill="#4a4a4a" filter="url(#b3_0)"/>
<path d="M368.1,294.2C372.3,293.1 381.8,290.8 393.1,287.9C404.3,285.1 421.5,280.8 435.7,277.2C449.9,273.5 469.3,268.7 478.4,266C487.6,263.4 486.9,263.6 490.7,261.2C494.4,258.8 495.5,253.6 501,251.6C506.4,249.6 513.6,250.4 523.1,249.1C532.6,247.7 546.4,246.4 558,243.5C569.6,240.6 581.2,237.1 592.9,231.6C604.5,226.1 619,215.5 627.7,210.5C636.5,205.6 639.2,204.3 645.3,201.9C651.3,199.5 656.9,197.7 663.9,195.9C670.9,194.2 678.9,192.9 687.2,191.6C695.4,190.2 705.5,188.7 713.4,187.7C721.3,186.7 731.2,185.9 734.7,185.5L734.7,365.4L368.1,365.4Z" fill="#636363" filter="url(#b3_6)"/>
<path d="M368.1,294.2C372.3,293.1 381.8,290.8 393.1,287.9C404.3,285.1 421.5,280.8 435.7,277.2C449.9,273.5 469.3,268.7 478.4,266C487.6,263.4 486.9,262.3 490.7,261.2C494.4,260.1 495.5,259.4 501,259.5C506.4,259.7 513.6,262.5 523.1,261.9C532.6,261.3 546.4,259.6 558,256.1C569.6,252.6 581.2,247.3 592.9,241C604.5,234.6 619,223.1 627.7,218.2C636.5,213.3 639.2,213.5 645.3,211.3C651.3,209.2 656.9,207.3 663.9,205.4C670.9,203.5 678.9,201.5 687.2,199.9C695.4,198.3 705.5,196.9 713.4,195.9C721.3,194.9 731.2,194.3 734.7,193.9L734.7,365.4L368.1,365.4Z" fill="url(#hd)" filter="url(#b3_6)"/>
</g>
<path d="M506.5,366.0 L506.5,285.7C509.3,285.2 514.6,284.2 523.1,282.7C531.7,281.3 546.4,280.5 558,277.1C569.6,273.6 581.2,268.3 592.9,262C604.5,255.6 621.9,243 627.7,239.2L652.7,284.2L652.7,366Z" fill="url(#id)" filter="url(#b7_0)"/>
<path d="M255.3,338.6C260.3,336.2 273,329.2 285,324.6C297.1,320.1 313.4,315.3 327.6,311.2C341.8,307.2 356.5,303.7 370.2,300.3C383.9,296.9 403.2,292.4 409.8,290.8" fill="none" stroke="url(#od)" stroke-width="7.5" stroke-linecap="round" stroke-linejoin="round" filter="url(#b2_4)"/>
<path d="M360.3,341.0 L380.1,330.1 L429.6,326.1 L481.1,329.1 L481.1,341.0Z" fill="#b0b0b0" filter="url(#b4_0)"/>
<path d="M257.3,341.4 L257.3,339.3 L370.2,339.3 L370.2,341.4Z" fill="#dbdbdb" filter="url(#b0_9)"/>
<path d="M469.3,291.3C470.6,289.7 474.4,284.9 477.2,281.4C480,277.9 484.6,272.3 486.1,270.5" fill="none" stroke="#cccccc" stroke-width="4.5" stroke-linecap="round" stroke-linejoin="round" filter="url(#b2_2)"/>
<path d="M490.1,281.4C490.2,278.4 490.2,268.2 491,263.5C491.9,258.9 493.2,255.6 495,253.6C496.8,251.6 500.1,250.6 501.9,251.6C503.8,252.6 505.1,254.6 505.9,259.5C506.7,264.5 506.7,277.8 506.9,281.4Z" fill="#787878" filter="url(#b2_2)"/>
<path d="M506.9,342.0 L506.9,317.2 L528.7,311.2 L550.5,319.2 L556.4,342.0Z" fill="#aaaaaa" filter="url(#b5_0)"/>
<ellipse cx="487.6" cy="281.4" rx="4.5" ry="6.5" fill="#858585" filter="url(#b2_0)"/>
<path d="M506.9,342.0 L506.9,333.1 L556.4,336.1 L556.4,344.0Z" fill="#b2b2b2" filter="url(#b2_5)"/>
<path d="M557.4,341.0 L537.6,341.0 L550.5,317.2 L564.3,297.3Z" fill="#b2b2b2" filter="url(#b3_5)"/>
<path d="M557.4,341.0 L546.5,341.0 L553.4,319.2 L563.4,303.3Z" fill="#dbdbdb" filter="url(#b1_8)"/>
<path d="M497.6,291.3C497.7,289.4 498,283.2 498.2,279.4C498.4,275.6 498.7,270.3 498.8,268.5" fill="none" stroke="#424242" stroke-width="3.2" stroke-linecap="round" stroke-linejoin="round" filter="url(#b1_4)"/>
<path d="M497.6,340.6C496.9,338.7 494.8,333.3 493.5,329.1C492.2,324.9 490.3,319.5 489.7,315.2C489,310.9 489.3,306.9 489.9,303.3C490.4,299.6 491.7,296.2 493,293.3C494.3,290.4 496.1,285.9 497.6,285.9C499.1,285.9 500.7,290.4 501.9,293.3C503.2,296.2 504.7,299.6 505.3,303.3C505.9,306.9 506.3,310.9 505.7,315.2C505.1,319.5 503.1,324.9 501.7,329.1C500.4,333.3 498.3,338.7 497.6,340.6Z" fill="#454545" filter="url(#b1_6)"/>
<path d="M497.6,340.6C496.9,338.7 494.8,333.3 493.5,329.1C492.2,324.9 490.3,319.5 489.7,315.2C489,310.9 489.3,306.9 489.9,303.3C490.4,299.6 491.7,296.2 493,293.3C494.3,290.4 496.1,285.9 497.6,285.9C499.1,285.9 500.7,290.4 501.9,293.3C503.2,296.2 504.7,299.6 505.3,303.3C505.9,306.9 506.3,310.9 505.7,315.2C505.1,319.5 503.1,324.9 501.7,329.1C500.4,333.3 498.3,338.7 497.6,340.6Z" fill="#050505" filter="url(#b0_8)"/>
</g>
</g></g>
<g transform="matrix(1.0096 0 0 1.0062 806.24 746.85)" fill="none" stroke="#0c0c10" stroke-width="1.25">
<path d="M252.1,120.1L553.7,120.1A293.3 293.3 0 0 1 714,72.4L714,202.1A163.6 163.6 0 0 0 552.4,340.5L252.1,340.5A25.2 25.2 0 0 0 252.1,390.9L552.4,390.9A163.6 163.6 0 0 0 714,529.3L714,659A293.3 293.3 0 0 1 553.7,611.3L252.1,611.3A245.6 245.6 0 0 1 252.1,120.1Z"/>
<line x1="6.5" y1="365.7" x2="226.9" y2="365.7" stroke-width="1.3"/>
</g>
<rect x="963" y="785.6" width="357.4" height="37.6" fill="url(#cb)"/>
<rect x="963" y="785.6" width="4" height="37.6" fill="#0000c8"/>
<line x1="1061.6" y1="785.6" x2="1061.6" y2="823.2" stroke="#1a1a1a" stroke-width="1.1"/>
<line x1="1158" y1="785.6" x2="1158" y2="823.2" stroke="#1a1a1a" stroke-width="1.1"/>
<line x1="1254.5" y1="785.6" x2="1254.5" y2="823.2" stroke="#1a1a1a" stroke-width="1.1"/>
<rect x="963" y="785.6" width="357.4" height="37.6" fill="none" stroke="#1a1a1a" stroke-width="1.2"/>
<text class="lg" x="850" y="853.4">T(K):</text>
<text class="lg" x="951.2" y="853.4">60</text>
<text class="lg" x="1020.8" y="853.4">182.727</text>
<text class="lg" x="1115.8" y="853.4">305.455</text>
<text class="lg" x="1213.8" y="853.4">428.182</text>
<text class="pl" transform="translate(811.8 779.4) scale(0.98 1.04)" x="0" y="0">(d)</text>
<text class="cap" x="1032.3" y="1470.3">Case 4 vs. Benchmark</text>
</svg>
</body></html>
